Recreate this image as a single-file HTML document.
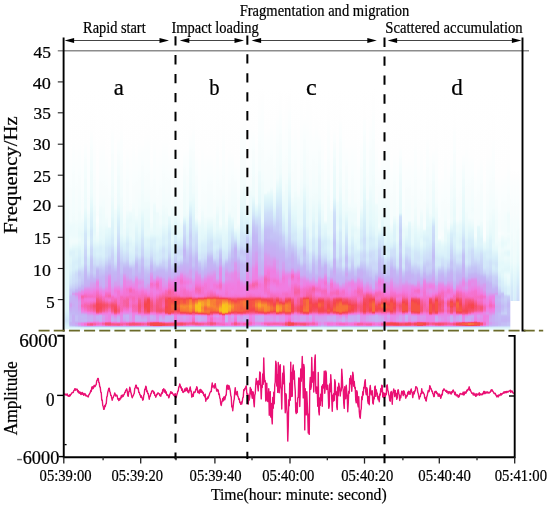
<!DOCTYPE html>
<html><head><meta charset="utf-8"><style>
html,body{margin:0;padding:0;background:#fff;overflow:hidden}
svg{display:block}
text{font-family:'Liberation Serif','Times New Roman',serif;fill:#000;stroke:#000;stroke-width:0.22px}
</style></head><body>
<svg width="550" height="507" viewBox="0 0 550 507">
<defs>
<filter id="cm" x="0" y="0" width="1" height="1" color-interpolation-filters="sRGB" filterUnits="objectBoundingBox">
<feColorMatrix type="matrix" values="1 0 0 0 0  1 0 0 0 0  1 0 0 0 0  0 0 0 1 0"/>
<feComponentTransfer>
<feFuncR type="table" tableValues="1.000 0.990 0.980 0.971 0.961 0.951 0.942 0.933 0.924 0.914 0.905 0.896 0.889 0.882 0.875 0.868 0.861 0.854 0.847 0.841 0.835 0.830 0.825 0.821 0.816 0.811 0.806 0.801 0.797 0.793 0.788 0.784 0.780 0.776 0.774 0.772 0.771 0.769 0.767 0.765 0.768 0.771 0.775 0.779 0.782 0.786 0.796 0.817 0.837 0.858 0.878 0.896 0.911 0.927 0.943 0.953 0.959 0.965 0.969 0.970 0.971 0.971 0.972 0.972 0.970 0.968 0.967 0.965 0.966 0.968 0.969 0.971 0.973 0.973 0.973 0.973 0.973 0.975 0.976 0.978 0.980"/>
<feFuncG type="table" tableValues="1.000 0.998 0.997 0.995 0.993 0.992 0.989 0.987 0.984 0.982 0.979 0.977 0.972 0.967 0.961 0.956 0.951 0.945 0.940 0.934 0.925 0.916 0.906 0.896 0.886 0.876 0.867 0.856 0.844 0.832 0.821 0.809 0.798 0.786 0.774 0.763 0.751 0.739 0.728 0.716 0.709 0.703 0.697 0.690 0.684 0.678 0.665 0.640 0.616 0.591 0.567 0.546 0.529 0.511 0.493 0.475 0.455 0.435 0.416 0.398 0.380 0.362 0.344 0.328 0.314 0.299 0.284 0.270 0.299 0.340 0.381 0.422 0.463 0.520 0.576 0.633 0.690 0.753 0.816 0.878 0.941"/>
<feFuncB type="table" tableValues="1.000 0.998 0.997 0.995 0.993 0.992 0.991 0.989 0.988 0.987 0.986 0.985 0.984 0.983 0.983 0.982 0.982 0.981 0.981 0.980 0.980 0.979 0.979 0.978 0.978 0.977 0.977 0.976 0.975 0.973 0.972 0.971 0.970 0.968 0.967 0.966 0.965 0.963 0.962 0.961 0.960 0.960 0.959 0.958 0.958 0.957 0.954 0.945 0.937 0.929 0.921 0.913 0.905 0.897 0.889 0.864 0.827 0.791 0.746 0.691 0.635 0.580 0.524 0.476 0.434 0.392 0.349 0.307 0.285 0.269 0.252 0.236 0.220 0.204 0.188 0.173 0.157 0.118 0.078 0.039 0.000"/>
</feComponentTransfer>
</filter>
<linearGradient id="g0" x1="0" y1="0" x2="0" y2="1"><stop offset="0.000" stop-color="#000000"/><stop offset="0.260" stop-color="#010000"/><stop offset="0.445" stop-color="#090000"/><stop offset="0.528" stop-color="#0d0000"/><stop offset="0.548" stop-color="#0e0000"/><stop offset="0.573" stop-color="#180000"/><stop offset="0.598" stop-color="#170000"/><stop offset="0.635" stop-color="#100000"/><stop offset="0.656" stop-color="#190000"/><stop offset="0.676" stop-color="#320000"/><stop offset="0.685" stop-color="#320000"/><stop offset="0.701" stop-color="#270000"/><stop offset="0.718" stop-color="#290000"/><stop offset="0.734" stop-color="#2e0000"/><stop offset="0.746" stop-color="#2d0000"/><stop offset="0.775" stop-color="#400000"/><stop offset="0.804" stop-color="#490000"/><stop offset="0.821" stop-color="#5a0000"/><stop offset="0.833" stop-color="#690000"/><stop offset="0.849" stop-color="#6e0000"/><stop offset="0.858" stop-color="#7b0000"/><stop offset="0.862" stop-color="#7f0000"/><stop offset="0.870" stop-color="#800000"/><stop offset="0.891" stop-color="#980000"/><stop offset="0.899" stop-color="#990000"/><stop offset="0.920" stop-color="#870000"/><stop offset="0.928" stop-color="#7b0000"/><stop offset="0.940" stop-color="#750000"/><stop offset="0.957" stop-color="#740000"/><stop offset="0.961" stop-color="#720000"/><stop offset="0.965" stop-color="#790000"/><stop offset="0.969" stop-color="#840000"/><stop offset="0.977" stop-color="#7d0000"/><stop offset="0.981" stop-color="#6f0000"/><stop offset="0.986" stop-color="#3f0000"/><stop offset="0.990" stop-color="#2c0000"/><stop offset="0.994" stop-color="#210000"/><stop offset="0.998" stop-color="#1c0000"/></linearGradient><linearGradient id="g1" x1="0" y1="0" x2="0" y2="1"><stop offset="0.000" stop-color="#000000"/><stop offset="0.219" stop-color="#010000"/><stop offset="0.404" stop-color="#0a0000"/><stop offset="0.482" stop-color="#0e0000"/><stop offset="0.511" stop-color="#0f0000"/><stop offset="0.548" stop-color="#110000"/><stop offset="0.569" stop-color="#170000"/><stop offset="0.610" stop-color="#170000"/><stop offset="0.631" stop-color="#100000"/><stop offset="0.643" stop-color="#160000"/><stop offset="0.676" stop-color="#320000"/><stop offset="0.701" stop-color="#310000"/><stop offset="0.722" stop-color="#3a0000"/><stop offset="0.746" stop-color="#390000"/><stop offset="0.771" stop-color="#4b0000"/><stop offset="0.800" stop-color="#500000"/><stop offset="0.821" stop-color="#600000"/><stop offset="0.837" stop-color="#710000"/><stop offset="0.841" stop-color="#7c0000"/><stop offset="0.849" stop-color="#9d0000"/><stop offset="0.858" stop-color="#8b0000"/><stop offset="0.862" stop-color="#870000"/><stop offset="0.874" stop-color="#880000"/><stop offset="0.895" stop-color="#920000"/><stop offset="0.915" stop-color="#840000"/><stop offset="0.924" stop-color="#7f0000"/><stop offset="0.928" stop-color="#7c0000"/><stop offset="0.932" stop-color="#7e0000"/><stop offset="0.940" stop-color="#8a0000"/><stop offset="0.961" stop-color="#880000"/><stop offset="0.969" stop-color="#8d0000"/><stop offset="0.977" stop-color="#850000"/><stop offset="0.981" stop-color="#750000"/><stop offset="0.986" stop-color="#400000"/><stop offset="0.990" stop-color="#2c0000"/><stop offset="0.994" stop-color="#210000"/><stop offset="0.998" stop-color="#1c0000"/></linearGradient><linearGradient id="g2" x1="0" y1="0" x2="0" y2="1"><stop offset="0.000" stop-color="#000000"/><stop offset="0.243" stop-color="#010000"/><stop offset="0.437" stop-color="#090000"/><stop offset="0.536" stop-color="#0d0000"/><stop offset="0.565" stop-color="#140000"/><stop offset="0.610" stop-color="#160000"/><stop offset="0.631" stop-color="#100000"/><stop offset="0.643" stop-color="#170000"/><stop offset="0.664" stop-color="#280000"/><stop offset="0.676" stop-color="#2b0000"/><stop offset="0.685" stop-color="#2a0000"/><stop offset="0.718" stop-color="#3a0000"/><stop offset="0.738" stop-color="#350000"/><stop offset="0.746" stop-color="#3b0000"/><stop offset="0.763" stop-color="#510000"/><stop offset="0.775" stop-color="#540000"/><stop offset="0.792" stop-color="#520000"/><stop offset="0.804" stop-color="#590000"/><stop offset="0.825" stop-color="#6b0000"/><stop offset="0.829" stop-color="#730000"/><stop offset="0.837" stop-color="#890000"/><stop offset="0.849" stop-color="#a20000"/><stop offset="0.862" stop-color="#950000"/><stop offset="0.870" stop-color="#900000"/><stop offset="0.887" stop-color="#8a0000"/><stop offset="0.899" stop-color="#8c0000"/><stop offset="0.915" stop-color="#860000"/><stop offset="0.920" stop-color="#870000"/><stop offset="0.936" stop-color="#7a0000"/><stop offset="0.940" stop-color="#750000"/><stop offset="0.961" stop-color="#750000"/><stop offset="0.965" stop-color="#840000"/><stop offset="0.969" stop-color="#970000"/><stop offset="0.977" stop-color="#920000"/><stop offset="0.981" stop-color="#820000"/><stop offset="0.986" stop-color="#430000"/><stop offset="0.990" stop-color="#2c0000"/><stop offset="0.994" stop-color="#210000"/><stop offset="0.998" stop-color="#1c0000"/></linearGradient><linearGradient id="g3" x1="0" y1="0" x2="0" y2="1"><stop offset="0.000" stop-color="#000000"/><stop offset="0.227" stop-color="#010000"/><stop offset="0.396" stop-color="#090000"/><stop offset="0.491" stop-color="#0e0000"/><stop offset="0.548" stop-color="#130000"/><stop offset="0.573" stop-color="#180000"/><stop offset="0.602" stop-color="#1f0000"/><stop offset="0.627" stop-color="#170000"/><stop offset="0.643" stop-color="#1e0000"/><stop offset="0.672" stop-color="#330000"/><stop offset="0.689" stop-color="#370000"/><stop offset="0.705" stop-color="#400000"/><stop offset="0.734" stop-color="#410000"/><stop offset="0.742" stop-color="#470000"/><stop offset="0.759" stop-color="#600000"/><stop offset="0.767" stop-color="#650000"/><stop offset="0.792" stop-color="#5e0000"/><stop offset="0.812" stop-color="#690000"/><stop offset="0.821" stop-color="#740000"/><stop offset="0.837" stop-color="#960000"/><stop offset="0.849" stop-color="#a70000"/><stop offset="0.858" stop-color="#aa0000"/><stop offset="0.866" stop-color="#a60000"/><stop offset="0.878" stop-color="#9a0000"/><stop offset="0.891" stop-color="#970000"/><stop offset="0.899" stop-color="#9b0000"/><stop offset="0.920" stop-color="#930000"/><stop offset="0.940" stop-color="#7d0000"/><stop offset="0.953" stop-color="#800000"/><stop offset="0.961" stop-color="#7e0000"/><stop offset="0.965" stop-color="#8d0000"/><stop offset="0.969" stop-color="#a10000"/><stop offset="0.977" stop-color="#a00000"/><stop offset="0.981" stop-color="#910000"/><stop offset="0.986" stop-color="#460000"/><stop offset="0.990" stop-color="#2c0000"/><stop offset="0.994" stop-color="#210000"/><stop offset="0.998" stop-color="#1c0000"/></linearGradient><linearGradient id="g4" x1="0" y1="0" x2="0" y2="1"><stop offset="0.000" stop-color="#000000"/><stop offset="0.264" stop-color="#010000"/><stop offset="0.474" stop-color="#080000"/><stop offset="0.515" stop-color="#0a0000"/><stop offset="0.544" stop-color="#100000"/><stop offset="0.561" stop-color="#170000"/><stop offset="0.581" stop-color="#190000"/><stop offset="0.602" stop-color="#200000"/><stop offset="0.635" stop-color="#1c0000"/><stop offset="0.685" stop-color="#2c0000"/><stop offset="0.701" stop-color="#340000"/><stop offset="0.722" stop-color="#340000"/><stop offset="0.734" stop-color="#3e0000"/><stop offset="0.759" stop-color="#5b0000"/><stop offset="0.771" stop-color="#610000"/><stop offset="0.796" stop-color="#680000"/><stop offset="0.808" stop-color="#710000"/><stop offset="0.821" stop-color="#820000"/><stop offset="0.837" stop-color="#a00000"/><stop offset="0.845" stop-color="#a90000"/><stop offset="0.849" stop-color="#ac0000"/><stop offset="0.858" stop-color="#bc0000"/><stop offset="0.862" stop-color="#be0000"/><stop offset="0.874" stop-color="#b40000"/><stop offset="0.887" stop-color="#b40000"/><stop offset="0.899" stop-color="#ba0000"/><stop offset="0.911" stop-color="#b20000"/><stop offset="0.920" stop-color="#ab0000"/><stop offset="0.928" stop-color="#9c0000"/><stop offset="0.940" stop-color="#7b0000"/><stop offset="0.953" stop-color="#7f0000"/><stop offset="0.961" stop-color="#7a0000"/><stop offset="0.965" stop-color="#8d0000"/><stop offset="0.969" stop-color="#a80000"/><stop offset="0.977" stop-color="#ab0000"/><stop offset="0.981" stop-color="#9c0000"/><stop offset="0.986" stop-color="#490000"/><stop offset="0.990" stop-color="#2c0000"/><stop offset="0.994" stop-color="#210000"/><stop offset="0.998" stop-color="#1c0000"/></linearGradient><linearGradient id="g5" x1="0" y1="0" x2="0" y2="1"><stop offset="0.000" stop-color="#000000"/><stop offset="0.223" stop-color="#010000"/><stop offset="0.379" stop-color="#100000"/><stop offset="0.491" stop-color="#160000"/><stop offset="0.565" stop-color="#330000"/><stop offset="0.581" stop-color="#390000"/><stop offset="0.602" stop-color="#460000"/><stop offset="0.639" stop-color="#480000"/><stop offset="0.668" stop-color="#570000"/><stop offset="0.689" stop-color="#5b0000"/><stop offset="0.705" stop-color="#620000"/><stop offset="0.722" stop-color="#5f0000"/><stop offset="0.751" stop-color="#750000"/><stop offset="0.788" stop-color="#800000"/><stop offset="0.804" stop-color="#850000"/><stop offset="0.816" stop-color="#900000"/><stop offset="0.837" stop-color="#a90000"/><stop offset="0.858" stop-color="#ba0000"/><stop offset="0.862" stop-color="#b90000"/><stop offset="0.870" stop-color="#b00000"/><stop offset="0.878" stop-color="#b10000"/><stop offset="0.895" stop-color="#bd0000"/><stop offset="0.903" stop-color="#bc0000"/><stop offset="0.920" stop-color="#b10000"/><stop offset="0.932" stop-color="#960000"/><stop offset="0.940" stop-color="#7e0000"/><stop offset="0.948" stop-color="#810000"/><stop offset="0.961" stop-color="#7a0000"/><stop offset="0.965" stop-color="#8f0000"/><stop offset="0.969" stop-color="#b00000"/><stop offset="0.977" stop-color="#b60000"/><stop offset="0.981" stop-color="#a80000"/><stop offset="0.986" stop-color="#4c0000"/><stop offset="0.990" stop-color="#2c0000"/><stop offset="0.994" stop-color="#210000"/><stop offset="0.998" stop-color="#1c0000"/></linearGradient><linearGradient id="g6" x1="0" y1="0" x2="0" y2="1"><stop offset="0.000" stop-color="#000000"/><stop offset="0.252" stop-color="#010000"/><stop offset="0.466" stop-color="#080000"/><stop offset="0.495" stop-color="#080000"/><stop offset="0.548" stop-color="#180000"/><stop offset="0.573" stop-color="#180000"/><stop offset="0.594" stop-color="#220000"/><stop offset="0.610" stop-color="#200000"/><stop offset="0.635" stop-color="#180000"/><stop offset="0.647" stop-color="#1b0000"/><stop offset="0.664" stop-color="#270000"/><stop offset="0.680" stop-color="#260000"/><stop offset="0.693" stop-color="#310000"/><stop offset="0.705" stop-color="#3d0000"/><stop offset="0.726" stop-color="#410000"/><stop offset="0.738" stop-color="#4b0000"/><stop offset="0.751" stop-color="#500000"/><stop offset="0.779" stop-color="#6e0000"/><stop offset="0.816" stop-color="#910000"/><stop offset="0.837" stop-color="#aa0000"/><stop offset="0.858" stop-color="#b70000"/><stop offset="0.862" stop-color="#b70000"/><stop offset="0.870" stop-color="#af0000"/><stop offset="0.878" stop-color="#b00000"/><stop offset="0.899" stop-color="#c00000"/><stop offset="0.915" stop-color="#bb0000"/><stop offset="0.920" stop-color="#b80000"/><stop offset="0.932" stop-color="#9f0000"/><stop offset="0.940" stop-color="#930000"/><stop offset="0.961" stop-color="#8e0000"/><stop offset="0.965" stop-color="#a00000"/><stop offset="0.969" stop-color="#bb0000"/><stop offset="0.977" stop-color="#c40000"/><stop offset="0.981" stop-color="#b50000"/><stop offset="0.986" stop-color="#4f0000"/><stop offset="0.990" stop-color="#2c0000"/><stop offset="0.994" stop-color="#210000"/><stop offset="0.998" stop-color="#1c0000"/></linearGradient><linearGradient id="g7" x1="0" y1="0" x2="0" y2="1"><stop offset="0.000" stop-color="#000000"/><stop offset="0.173" stop-color="#010000"/><stop offset="0.338" stop-color="#0f0000"/><stop offset="0.441" stop-color="#150000"/><stop offset="0.553" stop-color="#370000"/><stop offset="0.569" stop-color="#390000"/><stop offset="0.590" stop-color="#440000"/><stop offset="0.606" stop-color="#450000"/><stop offset="0.627" stop-color="#420000"/><stop offset="0.643" stop-color="#460000"/><stop offset="0.664" stop-color="#560000"/><stop offset="0.685" stop-color="#570000"/><stop offset="0.705" stop-color="#670000"/><stop offset="0.742" stop-color="#6f0000"/><stop offset="0.759" stop-color="#6e0000"/><stop offset="0.784" stop-color="#800000"/><stop offset="0.800" stop-color="#930000"/><stop offset="0.821" stop-color="#9b0000"/><stop offset="0.849" stop-color="#b10000"/><stop offset="0.858" stop-color="#b70000"/><stop offset="0.862" stop-color="#b70000"/><stop offset="0.870" stop-color="#af0000"/><stop offset="0.878" stop-color="#b10000"/><stop offset="0.895" stop-color="#c20000"/><stop offset="0.903" stop-color="#c30000"/><stop offset="0.920" stop-color="#ba0000"/><stop offset="0.940" stop-color="#910000"/><stop offset="0.961" stop-color="#8d0000"/><stop offset="0.965" stop-color="#a20000"/><stop offset="0.969" stop-color="#c00000"/><stop offset="0.977" stop-color="#c90000"/><stop offset="0.981" stop-color="#b70000"/><stop offset="0.986" stop-color="#4f0000"/><stop offset="0.990" stop-color="#2c0000"/><stop offset="0.994" stop-color="#210000"/><stop offset="0.998" stop-color="#1c0000"/></linearGradient><linearGradient id="g8" x1="0" y1="0" x2="0" y2="1"><stop offset="0.000" stop-color="#000000"/><stop offset="0.214" stop-color="#010000"/><stop offset="0.416" stop-color="#090000"/><stop offset="0.474" stop-color="#0d0000"/><stop offset="0.520" stop-color="#170000"/><stop offset="0.548" stop-color="#180000"/><stop offset="0.586" stop-color="#210000"/><stop offset="0.623" stop-color="#1d0000"/><stop offset="0.639" stop-color="#260000"/><stop offset="0.668" stop-color="#3b0000"/><stop offset="0.689" stop-color="#3d0000"/><stop offset="0.709" stop-color="#4c0000"/><stop offset="0.722" stop-color="#500000"/><stop offset="0.738" stop-color="#5e0000"/><stop offset="0.751" stop-color="#620000"/><stop offset="0.763" stop-color="#620000"/><stop offset="0.779" stop-color="#710000"/><stop offset="0.800" stop-color="#920000"/><stop offset="0.808" stop-color="#980000"/><stop offset="0.821" stop-color="#9d0000"/><stop offset="0.841" stop-color="#af0000"/><stop offset="0.862" stop-color="#b70000"/><stop offset="0.870" stop-color="#b10000"/><stop offset="0.878" stop-color="#b30000"/><stop offset="0.895" stop-color="#c80000"/><stop offset="0.899" stop-color="#cb0000"/><stop offset="0.915" stop-color="#c20000"/><stop offset="0.920" stop-color="#bf0000"/><stop offset="0.940" stop-color="#970000"/><stop offset="0.953" stop-color="#960000"/><stop offset="0.961" stop-color="#990000"/><stop offset="0.965" stop-color="#a80000"/><stop offset="0.969" stop-color="#bd0000"/><stop offset="0.977" stop-color="#c00000"/><stop offset="0.981" stop-color="#ae0000"/><stop offset="0.986" stop-color="#4c0000"/><stop offset="0.990" stop-color="#2c0000"/><stop offset="0.994" stop-color="#210000"/><stop offset="0.998" stop-color="#1c0000"/></linearGradient><linearGradient id="g9" x1="0" y1="0" x2="0" y2="1"><stop offset="0.000" stop-color="#000000"/><stop offset="0.342" stop-color="#010000"/><stop offset="0.524" stop-color="#080000"/><stop offset="0.548" stop-color="#050000"/><stop offset="0.581" stop-color="#0d0000"/><stop offset="0.602" stop-color="#110000"/><stop offset="0.631" stop-color="#1b0000"/><stop offset="0.660" stop-color="#340000"/><stop offset="0.672" stop-color="#370000"/><stop offset="0.685" stop-color="#340000"/><stop offset="0.709" stop-color="#460000"/><stop offset="0.726" stop-color="#4e0000"/><stop offset="0.730" stop-color="#510000"/><stop offset="0.746" stop-color="#720000"/><stop offset="0.755" stop-color="#7b0000"/><stop offset="0.771" stop-color="#810000"/><stop offset="0.800" stop-color="#a50000"/><stop offset="0.808" stop-color="#a80000"/><stop offset="0.821" stop-color="#a70000"/><stop offset="0.841" stop-color="#b50000"/><stop offset="0.862" stop-color="#be0000"/><stop offset="0.870" stop-color="#c50000"/><stop offset="0.882" stop-color="#cb0000"/><stop offset="0.891" stop-color="#d30000"/><stop offset="0.920" stop-color="#d30000"/><stop offset="0.928" stop-color="#c20000"/><stop offset="0.932" stop-color="#b40000"/><stop offset="0.940" stop-color="#900000"/><stop offset="0.948" stop-color="#8f0000"/><stop offset="0.961" stop-color="#960000"/><stop offset="0.965" stop-color="#a50000"/><stop offset="0.969" stop-color="#b80000"/><stop offset="0.977" stop-color="#b70000"/><stop offset="0.981" stop-color="#a40000"/><stop offset="0.986" stop-color="#4a0000"/><stop offset="0.990" stop-color="#2c0000"/><stop offset="0.994" stop-color="#210000"/><stop offset="0.998" stop-color="#1c0000"/></linearGradient><linearGradient id="g10" x1="0" y1="0" x2="0" y2="1"><stop offset="0.000" stop-color="#000000"/><stop offset="0.223" stop-color="#010000"/><stop offset="0.425" stop-color="#090000"/><stop offset="0.478" stop-color="#0c0000"/><stop offset="0.499" stop-color="#130000"/><stop offset="0.536" stop-color="#160000"/><stop offset="0.557" stop-color="#160000"/><stop offset="0.586" stop-color="#1e0000"/><stop offset="0.619" stop-color="#210000"/><stop offset="0.639" stop-color="#2a0000"/><stop offset="0.656" stop-color="#380000"/><stop offset="0.668" stop-color="#3a0000"/><stop offset="0.685" stop-color="#380000"/><stop offset="0.730" stop-color="#590000"/><stop offset="0.751" stop-color="#6d0000"/><stop offset="0.775" stop-color="#790000"/><stop offset="0.800" stop-color="#8f0000"/><stop offset="0.816" stop-color="#940000"/><stop offset="0.841" stop-color="#ac0000"/><stop offset="0.866" stop-color="#be0000"/><stop offset="0.882" stop-color="#c80000"/><stop offset="0.891" stop-color="#d10000"/><stop offset="0.907" stop-color="#d30000"/><stop offset="0.920" stop-color="#cd0000"/><stop offset="0.928" stop-color="#bc0000"/><stop offset="0.932" stop-color="#ae0000"/><stop offset="0.940" stop-color="#890000"/><stop offset="0.961" stop-color="#8c0000"/><stop offset="0.965" stop-color="#9d0000"/><stop offset="0.969" stop-color="#b60000"/><stop offset="0.977" stop-color="#b30000"/><stop offset="0.981" stop-color="#a00000"/><stop offset="0.986" stop-color="#490000"/><stop offset="0.990" stop-color="#2c0000"/><stop offset="0.994" stop-color="#210000"/><stop offset="0.998" stop-color="#1c0000"/></linearGradient><linearGradient id="g11" x1="0" y1="0" x2="0" y2="1"><stop offset="0.000" stop-color="#000000"/><stop offset="0.206" stop-color="#010000"/><stop offset="0.437" stop-color="#090000"/><stop offset="0.487" stop-color="#0f0000"/><stop offset="0.532" stop-color="#140000"/><stop offset="0.557" stop-color="#140000"/><stop offset="0.590" stop-color="#1c0000"/><stop offset="0.614" stop-color="#1f0000"/><stop offset="0.639" stop-color="#260000"/><stop offset="0.656" stop-color="#320000"/><stop offset="0.672" stop-color="#350000"/><stop offset="0.693" stop-color="#380000"/><stop offset="0.709" stop-color="#450000"/><stop offset="0.726" stop-color="#510000"/><stop offset="0.746" stop-color="#650000"/><stop offset="0.779" stop-color="#7d0000"/><stop offset="0.816" stop-color="#8b0000"/><stop offset="0.837" stop-color="#a40000"/><stop offset="0.854" stop-color="#ae0000"/><stop offset="0.862" stop-color="#b60000"/><stop offset="0.874" stop-color="#bb0000"/><stop offset="0.895" stop-color="#cf0000"/><stop offset="0.903" stop-color="#ce0000"/><stop offset="0.920" stop-color="#c40000"/><stop offset="0.936" stop-color="#a30000"/><stop offset="0.940" stop-color="#990000"/><stop offset="0.953" stop-color="#9c0000"/><stop offset="0.961" stop-color="#990000"/><stop offset="0.965" stop-color="#a80000"/><stop offset="0.969" stop-color="#bf0000"/><stop offset="0.977" stop-color="#bc0000"/><stop offset="0.981" stop-color="#a80000"/><stop offset="0.986" stop-color="#4a0000"/><stop offset="0.990" stop-color="#2c0000"/><stop offset="0.994" stop-color="#210000"/><stop offset="0.998" stop-color="#1c0000"/></linearGradient><linearGradient id="g12" x1="0" y1="0" x2="0" y2="1"><stop offset="0.000" stop-color="#000000"/><stop offset="0.268" stop-color="#010000"/><stop offset="0.458" stop-color="#0a0000"/><stop offset="0.520" stop-color="#0b0000"/><stop offset="0.544" stop-color="#110000"/><stop offset="0.565" stop-color="#160000"/><stop offset="0.581" stop-color="#1f0000"/><stop offset="0.602" stop-color="#250000"/><stop offset="0.643" stop-color="#390000"/><stop offset="0.660" stop-color="#430000"/><stop offset="0.693" stop-color="#460000"/><stop offset="0.705" stop-color="#4f0000"/><stop offset="0.742" stop-color="#730000"/><stop offset="0.755" stop-color="#790000"/><stop offset="0.775" stop-color="#930000"/><stop offset="0.788" stop-color="#960000"/><stop offset="0.816" stop-color="#990000"/><stop offset="0.829" stop-color="#a30000"/><stop offset="0.845" stop-color="#b40000"/><stop offset="0.858" stop-color="#bb0000"/><stop offset="0.870" stop-color="#b40000"/><stop offset="0.878" stop-color="#b90000"/><stop offset="0.895" stop-color="#cc0000"/><stop offset="0.903" stop-color="#c90000"/><stop offset="0.920" stop-color="#bd0000"/><stop offset="0.936" stop-color="#a60000"/><stop offset="0.940" stop-color="#a10000"/><stop offset="0.953" stop-color="#a50000"/><stop offset="0.961" stop-color="#a20000"/><stop offset="0.965" stop-color="#b20000"/><stop offset="0.969" stop-color="#cb0000"/><stop offset="0.977" stop-color="#c90000"/><stop offset="0.981" stop-color="#b40000"/><stop offset="0.986" stop-color="#4d0000"/><stop offset="0.990" stop-color="#2c0000"/><stop offset="0.994" stop-color="#210000"/><stop offset="0.998" stop-color="#1c0000"/></linearGradient><linearGradient id="g13" x1="0" y1="0" x2="0" y2="1"><stop offset="0.000" stop-color="#000000"/><stop offset="0.318" stop-color="#010000"/><stop offset="0.474" stop-color="#090000"/><stop offset="0.520" stop-color="#0a0000"/><stop offset="0.540" stop-color="#0c0000"/><stop offset="0.565" stop-color="#0b0000"/><stop offset="0.573" stop-color="#0d0000"/><stop offset="0.577" stop-color="#1d0000"/><stop offset="0.581" stop-color="#220000"/><stop offset="0.602" stop-color="#280000"/><stop offset="0.623" stop-color="#320000"/><stop offset="0.639" stop-color="#390000"/><stop offset="0.660" stop-color="#470000"/><stop offset="0.689" stop-color="#4d0000"/><stop offset="0.697" stop-color="#540000"/><stop offset="0.722" stop-color="#690000"/><stop offset="0.738" stop-color="#7b0000"/><stop offset="0.755" stop-color="#840000"/><stop offset="0.775" stop-color="#9d0000"/><stop offset="0.792" stop-color="#a40000"/><stop offset="0.837" stop-color="#ae0000"/><stop offset="0.858" stop-color="#be0000"/><stop offset="0.866" stop-color="#b80000"/><stop offset="0.874" stop-color="#b10000"/><stop offset="0.895" stop-color="#c60000"/><stop offset="0.903" stop-color="#c40000"/><stop offset="0.915" stop-color="#b90000"/><stop offset="0.920" stop-color="#b80000"/><stop offset="0.928" stop-color="#ab0000"/><stop offset="0.940" stop-color="#a90000"/><stop offset="0.961" stop-color="#a90000"/><stop offset="0.965" stop-color="#b60000"/><stop offset="0.969" stop-color="#ca0000"/><stop offset="0.977" stop-color="#cb0000"/><stop offset="0.981" stop-color="#b80000"/><stop offset="0.986" stop-color="#4f0000"/><stop offset="0.990" stop-color="#2c0000"/><stop offset="0.994" stop-color="#210000"/><stop offset="0.998" stop-color="#1c0000"/></linearGradient><linearGradient id="g14" x1="0" y1="0" x2="0" y2="1"><stop offset="0.000" stop-color="#000000"/><stop offset="0.169" stop-color="#010000"/><stop offset="0.355" stop-color="#0d0000"/><stop offset="0.441" stop-color="#120000"/><stop offset="0.524" stop-color="#210000"/><stop offset="0.548" stop-color="#2a0000"/><stop offset="0.577" stop-color="#310000"/><stop offset="0.594" stop-color="#330000"/><stop offset="0.623" stop-color="#400000"/><stop offset="0.639" stop-color="#410000"/><stop offset="0.668" stop-color="#540000"/><stop offset="0.701" stop-color="#620000"/><stop offset="0.718" stop-color="#630000"/><stop offset="0.751" stop-color="#770000"/><stop offset="0.775" stop-color="#850000"/><stop offset="0.804" stop-color="#930000"/><stop offset="0.816" stop-color="#960000"/><stop offset="0.833" stop-color="#a10000"/><stop offset="0.849" stop-color="#a70000"/><stop offset="0.862" stop-color="#b70000"/><stop offset="0.878" stop-color="#ba0000"/><stop offset="0.895" stop-color="#cc0000"/><stop offset="0.899" stop-color="#ce0000"/><stop offset="0.920" stop-color="#c50000"/><stop offset="0.928" stop-color="#b90000"/><stop offset="0.936" stop-color="#a40000"/><stop offset="0.940" stop-color="#980000"/><stop offset="0.957" stop-color="#8f0000"/><stop offset="0.961" stop-color="#8f0000"/><stop offset="0.965" stop-color="#a30000"/><stop offset="0.969" stop-color="#c00000"/><stop offset="0.977" stop-color="#c60000"/><stop offset="0.981" stop-color="#b50000"/><stop offset="0.986" stop-color="#4f0000"/><stop offset="0.990" stop-color="#2c0000"/><stop offset="0.994" stop-color="#210000"/><stop offset="0.998" stop-color="#1c0000"/></linearGradient><linearGradient id="g15" x1="0" y1="0" x2="0" y2="1"><stop offset="0.000" stop-color="#000000"/><stop offset="0.247" stop-color="#010000"/><stop offset="0.458" stop-color="#080000"/><stop offset="0.495" stop-color="#0a0000"/><stop offset="0.507" stop-color="#120000"/><stop offset="0.544" stop-color="#190000"/><stop offset="0.573" stop-color="#1a0000"/><stop offset="0.594" stop-color="#190000"/><stop offset="0.623" stop-color="#200000"/><stop offset="0.635" stop-color="#1f0000"/><stop offset="0.643" stop-color="#220000"/><stop offset="0.660" stop-color="#2f0000"/><stop offset="0.693" stop-color="#440000"/><stop offset="0.713" stop-color="#490000"/><stop offset="0.726" stop-color="#540000"/><stop offset="0.759" stop-color="#7b0000"/><stop offset="0.784" stop-color="#870000"/><stop offset="0.800" stop-color="#970000"/><stop offset="0.816" stop-color="#9c0000"/><stop offset="0.833" stop-color="#ae0000"/><stop offset="0.841" stop-color="#ae0000"/><stop offset="0.854" stop-color="#ab0000"/><stop offset="0.862" stop-color="#b10000"/><stop offset="0.870" stop-color="#b90000"/><stop offset="0.887" stop-color="#c30000"/><stop offset="0.899" stop-color="#cf0000"/><stop offset="0.920" stop-color="#d30000"/><stop offset="0.928" stop-color="#c80000"/><stop offset="0.936" stop-color="#b20000"/><stop offset="0.940" stop-color="#a30000"/><stop offset="0.953" stop-color="#960000"/><stop offset="0.961" stop-color="#950000"/><stop offset="0.965" stop-color="#a50000"/><stop offset="0.969" stop-color="#bd0000"/><stop offset="0.977" stop-color="#c70000"/><stop offset="0.981" stop-color="#b60000"/><stop offset="0.986" stop-color="#4f0000"/><stop offset="0.990" stop-color="#2c0000"/><stop offset="0.994" stop-color="#210000"/><stop offset="0.998" stop-color="#1c0000"/></linearGradient><linearGradient id="g16" x1="0" y1="0" x2="0" y2="1"><stop offset="0.000" stop-color="#000000"/><stop offset="0.206" stop-color="#010000"/><stop offset="0.355" stop-color="#0f0000"/><stop offset="0.474" stop-color="#170000"/><stop offset="0.520" stop-color="#290000"/><stop offset="0.548" stop-color="#380000"/><stop offset="0.573" stop-color="#410000"/><stop offset="0.594" stop-color="#460000"/><stop offset="0.643" stop-color="#5b0000"/><stop offset="0.693" stop-color="#710000"/><stop offset="0.709" stop-color="#770000"/><stop offset="0.746" stop-color="#880000"/><stop offset="0.784" stop-color="#920000"/><stop offset="0.812" stop-color="#990000"/><stop offset="0.829" stop-color="#aa0000"/><stop offset="0.837" stop-color="#b20000"/><stop offset="0.858" stop-color="#b20000"/><stop offset="0.874" stop-color="#b50000"/><stop offset="0.887" stop-color="#b70000"/><stop offset="0.903" stop-color="#c10000"/><stop offset="0.920" stop-color="#c80000"/><stop offset="0.928" stop-color="#bd0000"/><stop offset="0.932" stop-color="#b30000"/><stop offset="0.940" stop-color="#960000"/><stop offset="0.957" stop-color="#860000"/><stop offset="0.961" stop-color="#870000"/><stop offset="0.965" stop-color="#9e0000"/><stop offset="0.969" stop-color="#be0000"/><stop offset="0.977" stop-color="#c90000"/><stop offset="0.981" stop-color="#b90000"/><stop offset="0.986" stop-color="#510000"/><stop offset="0.990" stop-color="#2c0000"/><stop offset="0.994" stop-color="#210000"/><stop offset="0.998" stop-color="#1c0000"/></linearGradient><linearGradient id="g17" x1="0" y1="0" x2="0" y2="1"><stop offset="0.000" stop-color="#000000"/><stop offset="0.161" stop-color="#010000"/><stop offset="0.346" stop-color="#090000"/><stop offset="0.429" stop-color="#0d0000"/><stop offset="0.503" stop-color="#160000"/><stop offset="0.557" stop-color="#1e0000"/><stop offset="0.577" stop-color="#1e0000"/><stop offset="0.598" stop-color="#1d0000"/><stop offset="0.627" stop-color="#2d0000"/><stop offset="0.656" stop-color="#400000"/><stop offset="0.672" stop-color="#4b0000"/><stop offset="0.709" stop-color="#5f0000"/><stop offset="0.722" stop-color="#690000"/><stop offset="0.759" stop-color="#720000"/><stop offset="0.792" stop-color="#880000"/><stop offset="0.816" stop-color="#960000"/><stop offset="0.837" stop-color="#a90000"/><stop offset="0.854" stop-color="#b10000"/><stop offset="0.862" stop-color="#b90000"/><stop offset="0.882" stop-color="#ba0000"/><stop offset="0.911" stop-color="#bb0000"/><stop offset="0.920" stop-color="#b90000"/><stop offset="0.932" stop-color="#a90000"/><stop offset="0.940" stop-color="#a40000"/><stop offset="0.957" stop-color="#a10000"/><stop offset="0.961" stop-color="#a20000"/><stop offset="0.965" stop-color="#ad0000"/><stop offset="0.969" stop-color="#bc0000"/><stop offset="0.977" stop-color="#c30000"/><stop offset="0.981" stop-color="#b30000"/><stop offset="0.986" stop-color="#4f0000"/><stop offset="0.990" stop-color="#2c0000"/><stop offset="0.994" stop-color="#210000"/><stop offset="0.998" stop-color="#1c0000"/></linearGradient><linearGradient id="g18" x1="0" y1="0" x2="0" y2="1"><stop offset="0.000" stop-color="#000000"/><stop offset="0.289" stop-color="#010000"/><stop offset="0.491" stop-color="#080000"/><stop offset="0.524" stop-color="#0a0000"/><stop offset="0.606" stop-color="#180000"/><stop offset="0.627" stop-color="#240000"/><stop offset="0.647" stop-color="#340000"/><stop offset="0.664" stop-color="#390000"/><stop offset="0.689" stop-color="#4b0000"/><stop offset="0.713" stop-color="#590000"/><stop offset="0.730" stop-color="#6f0000"/><stop offset="0.763" stop-color="#910000"/><stop offset="0.775" stop-color="#9c0000"/><stop offset="0.796" stop-color="#a70000"/><stop offset="0.816" stop-color="#ab0000"/><stop offset="0.833" stop-color="#b00000"/><stop offset="0.854" stop-color="#b20000"/><stop offset="0.878" stop-color="#bf0000"/><stop offset="0.899" stop-color="#be0000"/><stop offset="0.920" stop-color="#b00000"/><stop offset="0.936" stop-color="#950000"/><stop offset="0.940" stop-color="#8d0000"/><stop offset="0.961" stop-color="#980000"/><stop offset="0.965" stop-color="#a70000"/><stop offset="0.969" stop-color="#bc0000"/><stop offset="0.977" stop-color="#bd0000"/><stop offset="0.981" stop-color="#ab0000"/><stop offset="0.986" stop-color="#4c0000"/><stop offset="0.990" stop-color="#2c0000"/><stop offset="0.994" stop-color="#210000"/><stop offset="0.998" stop-color="#1c0000"/></linearGradient><linearGradient id="g19" x1="0" y1="0" x2="0" y2="1"><stop offset="0.000" stop-color="#000000"/><stop offset="0.247" stop-color="#010000"/><stop offset="0.437" stop-color="#0a0000"/><stop offset="0.499" stop-color="#0c0000"/><stop offset="0.524" stop-color="#150000"/><stop offset="0.548" stop-color="#1c0000"/><stop offset="0.569" stop-color="#1d0000"/><stop offset="0.606" stop-color="#280000"/><stop offset="0.643" stop-color="#420000"/><stop offset="0.664" stop-color="#410000"/><stop offset="0.697" stop-color="#550000"/><stop offset="0.709" stop-color="#5d0000"/><stop offset="0.730" stop-color="#720000"/><stop offset="0.746" stop-color="#810000"/><stop offset="0.767" stop-color="#8f0000"/><stop offset="0.788" stop-color="#9a0000"/><stop offset="0.800" stop-color="#a30000"/><stop offset="0.812" stop-color="#a30000"/><stop offset="0.829" stop-color="#b30000"/><stop offset="0.854" stop-color="#b20000"/><stop offset="0.870" stop-color="#bf0000"/><stop offset="0.899" stop-color="#c10000"/><stop offset="0.920" stop-color="#b10000"/><stop offset="0.928" stop-color="#a50000"/><stop offset="0.936" stop-color="#910000"/><stop offset="0.940" stop-color="#850000"/><stop offset="0.957" stop-color="#8d0000"/><stop offset="0.961" stop-color="#8e0000"/><stop offset="0.965" stop-color="#a30000"/><stop offset="0.969" stop-color="#c10000"/><stop offset="0.977" stop-color="#c30000"/><stop offset="0.981" stop-color="#b10000"/><stop offset="0.986" stop-color="#4e0000"/><stop offset="0.990" stop-color="#2c0000"/><stop offset="0.994" stop-color="#210000"/><stop offset="0.998" stop-color="#1c0000"/></linearGradient><linearGradient id="g20" x1="0" y1="0" x2="0" y2="1"><stop offset="0.000" stop-color="#000000"/><stop offset="0.260" stop-color="#010000"/><stop offset="0.495" stop-color="#080000"/><stop offset="0.503" stop-color="#080000"/><stop offset="0.515" stop-color="#150000"/><stop offset="0.544" stop-color="#1c0000"/><stop offset="0.565" stop-color="#190000"/><stop offset="0.590" stop-color="#1c0000"/><stop offset="0.606" stop-color="#1b0000"/><stop offset="0.623" stop-color="#240000"/><stop offset="0.643" stop-color="#2e0000"/><stop offset="0.668" stop-color="#2e0000"/><stop offset="0.697" stop-color="#3f0000"/><stop offset="0.713" stop-color="#440000"/><stop offset="0.726" stop-color="#540000"/><stop offset="0.746" stop-color="#7c0000"/><stop offset="0.755" stop-color="#850000"/><stop offset="0.771" stop-color="#860000"/><stop offset="0.779" stop-color="#8b0000"/><stop offset="0.796" stop-color="#9f0000"/><stop offset="0.812" stop-color="#a30000"/><stop offset="0.829" stop-color="#b90000"/><stop offset="0.837" stop-color="#bc0000"/><stop offset="0.849" stop-color="#b40000"/><stop offset="0.862" stop-color="#b90000"/><stop offset="0.882" stop-color="#b30000"/><stop offset="0.899" stop-color="#b60000"/><stop offset="0.915" stop-color="#ac0000"/><stop offset="0.920" stop-color="#ac0000"/><stop offset="0.928" stop-color="#a00000"/><stop offset="0.940" stop-color="#980000"/><stop offset="0.961" stop-color="#990000"/><stop offset="0.965" stop-color="#ac0000"/><stop offset="0.969" stop-color="#c60000"/><stop offset="0.977" stop-color="#cb0000"/><stop offset="0.981" stop-color="#b90000"/><stop offset="0.986" stop-color="#4f0000"/><stop offset="0.990" stop-color="#2c0000"/><stop offset="0.994" stop-color="#210000"/><stop offset="0.998" stop-color="#1c0000"/></linearGradient><linearGradient id="g21" x1="0" y1="0" x2="0" y2="1"><stop offset="0.000" stop-color="#000000"/><stop offset="0.219" stop-color="#010000"/><stop offset="0.470" stop-color="#0a0000"/><stop offset="0.515" stop-color="#130000"/><stop offset="0.548" stop-color="#190000"/><stop offset="0.569" stop-color="#180000"/><stop offset="0.594" stop-color="#1b0000"/><stop offset="0.619" stop-color="#1b0000"/><stop offset="0.656" stop-color="#2d0000"/><stop offset="0.680" stop-color="#330000"/><stop offset="0.709" stop-color="#440000"/><stop offset="0.726" stop-color="#570000"/><stop offset="0.742" stop-color="#6d0000"/><stop offset="0.751" stop-color="#730000"/><stop offset="0.771" stop-color="#780000"/><stop offset="0.779" stop-color="#800000"/><stop offset="0.796" stop-color="#960000"/><stop offset="0.808" stop-color="#a00000"/><stop offset="0.816" stop-color="#a30000"/><stop offset="0.833" stop-color="#b50000"/><stop offset="0.841" stop-color="#b60000"/><stop offset="0.854" stop-color="#b50000"/><stop offset="0.866" stop-color="#bb0000"/><stop offset="0.887" stop-color="#b90000"/><stop offset="0.899" stop-color="#be0000"/><stop offset="0.915" stop-color="#ba0000"/><stop offset="0.920" stop-color="#bb0000"/><stop offset="0.932" stop-color="#ab0000"/><stop offset="0.953" stop-color="#a40000"/><stop offset="0.961" stop-color="#a40000"/><stop offset="0.965" stop-color="#b30000"/><stop offset="0.969" stop-color="#c90000"/><stop offset="0.977" stop-color="#cb0000"/><stop offset="0.981" stop-color="#b70000"/><stop offset="0.986" stop-color="#4e0000"/><stop offset="0.990" stop-color="#2c0000"/><stop offset="0.994" stop-color="#210000"/><stop offset="0.998" stop-color="#1c0000"/></linearGradient><linearGradient id="g22" x1="0" y1="0" x2="0" y2="1"><stop offset="0.000" stop-color="#000000"/><stop offset="0.264" stop-color="#010000"/><stop offset="0.433" stop-color="#0a0000"/><stop offset="0.503" stop-color="#0c0000"/><stop offset="0.524" stop-color="#0e0000"/><stop offset="0.581" stop-color="#270000"/><stop offset="0.610" stop-color="#300000"/><stop offset="0.627" stop-color="#340000"/><stop offset="0.664" stop-color="#4a0000"/><stop offset="0.680" stop-color="#490000"/><stop offset="0.693" stop-color="#540000"/><stop offset="0.726" stop-color="#790000"/><stop offset="0.742" stop-color="#810000"/><stop offset="0.763" stop-color="#860000"/><stop offset="0.779" stop-color="#980000"/><stop offset="0.792" stop-color="#a60000"/><stop offset="0.808" stop-color="#a90000"/><stop offset="0.821" stop-color="#a90000"/><stop offset="0.841" stop-color="#b30000"/><stop offset="0.866" stop-color="#b70000"/><stop offset="0.882" stop-color="#b60000"/><stop offset="0.899" stop-color="#bd0000"/><stop offset="0.920" stop-color="#bb0000"/><stop offset="0.932" stop-color="#a70000"/><stop offset="0.940" stop-color="#900000"/><stop offset="0.961" stop-color="#8d0000"/><stop offset="0.965" stop-color="#a50000"/><stop offset="0.969" stop-color="#c70000"/><stop offset="0.977" stop-color="#ca0000"/><stop offset="0.981" stop-color="#b50000"/><stop offset="0.986" stop-color="#4d0000"/><stop offset="0.990" stop-color="#2c0000"/><stop offset="0.994" stop-color="#210000"/><stop offset="0.998" stop-color="#1c0000"/></linearGradient><linearGradient id="g23" x1="0" y1="0" x2="0" y2="1"><stop offset="0.000" stop-color="#000000"/><stop offset="0.219" stop-color="#010000"/><stop offset="0.429" stop-color="#0a0000"/><stop offset="0.482" stop-color="#0e0000"/><stop offset="0.544" stop-color="#180000"/><stop offset="0.590" stop-color="#1e0000"/><stop offset="0.623" stop-color="#2c0000"/><stop offset="0.664" stop-color="#400000"/><stop offset="0.685" stop-color="#410000"/><stop offset="0.697" stop-color="#4b0000"/><stop offset="0.709" stop-color="#5c0000"/><stop offset="0.742" stop-color="#6e0000"/><stop offset="0.759" stop-color="#760000"/><stop offset="0.796" stop-color="#9e0000"/><stop offset="0.804" stop-color="#a10000"/><stop offset="0.816" stop-color="#9d0000"/><stop offset="0.825" stop-color="#a10000"/><stop offset="0.837" stop-color="#ae0000"/><stop offset="0.862" stop-color="#b90000"/><stop offset="0.874" stop-color="#c20000"/><stop offset="0.899" stop-color="#ca0000"/><stop offset="0.920" stop-color="#c70000"/><stop offset="0.928" stop-color="#bc0000"/><stop offset="0.932" stop-color="#b20000"/><stop offset="0.940" stop-color="#940000"/><stop offset="0.957" stop-color="#8e0000"/><stop offset="0.961" stop-color="#8e0000"/><stop offset="0.965" stop-color="#a50000"/><stop offset="0.969" stop-color="#c50000"/><stop offset="0.977" stop-color="#c80000"/><stop offset="0.981" stop-color="#b40000"/><stop offset="0.986" stop-color="#4d0000"/><stop offset="0.990" stop-color="#2c0000"/><stop offset="0.994" stop-color="#210000"/><stop offset="0.998" stop-color="#1c0000"/></linearGradient><linearGradient id="g24" x1="0" y1="0" x2="0" y2="1"><stop offset="0.000" stop-color="#000000"/><stop offset="0.227" stop-color="#010000"/><stop offset="0.396" stop-color="#0d0000"/><stop offset="0.499" stop-color="#140000"/><stop offset="0.532" stop-color="#240000"/><stop offset="0.569" stop-color="#2e0000"/><stop offset="0.610" stop-color="#3f0000"/><stop offset="0.627" stop-color="#480000"/><stop offset="0.647" stop-color="#4e0000"/><stop offset="0.668" stop-color="#580000"/><stop offset="0.689" stop-color="#5d0000"/><stop offset="0.709" stop-color="#710000"/><stop offset="0.730" stop-color="#750000"/><stop offset="0.763" stop-color="#8c0000"/><stop offset="0.784" stop-color="#920000"/><stop offset="0.800" stop-color="#9f0000"/><stop offset="0.816" stop-color="#9e0000"/><stop offset="0.825" stop-color="#a50000"/><stop offset="0.837" stop-color="#b20000"/><stop offset="0.854" stop-color="#b80000"/><stop offset="0.891" stop-color="#c00000"/><stop offset="0.899" stop-color="#c10000"/><stop offset="0.915" stop-color="#bc0000"/><stop offset="0.920" stop-color="#be0000"/><stop offset="0.928" stop-color="#b70000"/><stop offset="0.936" stop-color="#a80000"/><stop offset="0.940" stop-color="#9d0000"/><stop offset="0.953" stop-color="#930000"/><stop offset="0.961" stop-color="#910000"/><stop offset="0.965" stop-color="#a40000"/><stop offset="0.969" stop-color="#c00000"/><stop offset="0.977" stop-color="#c30000"/><stop offset="0.981" stop-color="#b00000"/><stop offset="0.986" stop-color="#4d0000"/><stop offset="0.990" stop-color="#2c0000"/><stop offset="0.994" stop-color="#210000"/><stop offset="0.998" stop-color="#1c0000"/></linearGradient><linearGradient id="g25" x1="0" y1="0" x2="0" y2="1"><stop offset="0.000" stop-color="#000000"/><stop offset="0.194" stop-color="#010000"/><stop offset="0.400" stop-color="#090000"/><stop offset="0.449" stop-color="#0c0000"/><stop offset="0.499" stop-color="#140000"/><stop offset="0.553" stop-color="#1a0000"/><stop offset="0.606" stop-color="#1c0000"/><stop offset="0.623" stop-color="#290000"/><stop offset="0.647" stop-color="#2c0000"/><stop offset="0.672" stop-color="#3c0000"/><stop offset="0.693" stop-color="#440000"/><stop offset="0.713" stop-color="#540000"/><stop offset="0.730" stop-color="#570000"/><stop offset="0.759" stop-color="#730000"/><stop offset="0.775" stop-color="#780000"/><stop offset="0.788" stop-color="#7f0000"/><stop offset="0.804" stop-color="#900000"/><stop offset="0.821" stop-color="#980000"/><stop offset="0.837" stop-color="#ac0000"/><stop offset="0.862" stop-color="#be0000"/><stop offset="0.878" stop-color="#cd0000"/><stop offset="0.895" stop-color="#d70000"/><stop offset="0.903" stop-color="#d40000"/><stop offset="0.920" stop-color="#cd0000"/><stop offset="0.928" stop-color="#c20000"/><stop offset="0.932" stop-color="#b90000"/><stop offset="0.940" stop-color="#990000"/><stop offset="0.957" stop-color="#8f0000"/><stop offset="0.961" stop-color="#8e0000"/><stop offset="0.965" stop-color="#a10000"/><stop offset="0.969" stop-color="#bd0000"/><stop offset="0.977" stop-color="#bf0000"/><stop offset="0.981" stop-color="#ad0000"/><stop offset="0.986" stop-color="#4c0000"/><stop offset="0.990" stop-color="#2c0000"/><stop offset="0.994" stop-color="#210000"/><stop offset="0.998" stop-color="#1c0000"/></linearGradient><linearGradient id="g26" x1="0" y1="0" x2="0" y2="1"><stop offset="0.000" stop-color="#000000"/><stop offset="0.186" stop-color="#010000"/><stop offset="0.392" stop-color="#090000"/><stop offset="0.445" stop-color="#0c0000"/><stop offset="0.507" stop-color="#160000"/><stop offset="0.540" stop-color="#190000"/><stop offset="0.569" stop-color="#1d0000"/><stop offset="0.602" stop-color="#1a0000"/><stop offset="0.627" stop-color="#2d0000"/><stop offset="0.647" stop-color="#2f0000"/><stop offset="0.676" stop-color="#3e0000"/><stop offset="0.693" stop-color="#430000"/><stop offset="0.713" stop-color="#510000"/><stop offset="0.726" stop-color="#530000"/><stop offset="0.751" stop-color="#680000"/><stop offset="0.767" stop-color="#770000"/><stop offset="0.784" stop-color="#7e0000"/><stop offset="0.812" stop-color="#990000"/><stop offset="0.829" stop-color="#a00000"/><stop offset="0.858" stop-color="#b60000"/><stop offset="0.870" stop-color="#cf0000"/><stop offset="0.874" stop-color="#d50000"/><stop offset="0.895" stop-color="#d70000"/><stop offset="0.920" stop-color="#d70000"/><stop offset="0.932" stop-color="#ba0000"/><stop offset="0.940" stop-color="#9d0000"/><stop offset="0.957" stop-color="#9d0000"/><stop offset="0.961" stop-color="#9f0000"/><stop offset="0.965" stop-color="#b10000"/><stop offset="0.969" stop-color="#ca0000"/><stop offset="0.977" stop-color="#cb0000"/><stop offset="0.981" stop-color="#b70000"/><stop offset="0.986" stop-color="#4e0000"/><stop offset="0.990" stop-color="#2c0000"/><stop offset="0.994" stop-color="#210000"/><stop offset="0.998" stop-color="#1c0000"/></linearGradient><linearGradient id="g27" x1="0" y1="0" x2="0" y2="1"><stop offset="0.000" stop-color="#000000"/><stop offset="0.305" stop-color="#010000"/><stop offset="0.491" stop-color="#0c0000"/><stop offset="0.520" stop-color="#0c0000"/><stop offset="0.544" stop-color="#0d0000"/><stop offset="0.573" stop-color="#130000"/><stop offset="0.602" stop-color="#1e0000"/><stop offset="0.619" stop-color="#2f0000"/><stop offset="0.627" stop-color="#370000"/><stop offset="0.652" stop-color="#3c0000"/><stop offset="0.689" stop-color="#500000"/><stop offset="0.734" stop-color="#7a0000"/><stop offset="0.751" stop-color="#870000"/><stop offset="0.763" stop-color="#970000"/><stop offset="0.779" stop-color="#a00000"/><stop offset="0.792" stop-color="#a60000"/><stop offset="0.808" stop-color="#b60000"/><stop offset="0.816" stop-color="#b40000"/><stop offset="0.833" stop-color="#ad0000"/><stop offset="0.858" stop-color="#b40000"/><stop offset="0.882" stop-color="#c60000"/><stop offset="0.899" stop-color="#ca0000"/><stop offset="0.920" stop-color="#c50000"/><stop offset="0.932" stop-color="#aa0000"/><stop offset="0.940" stop-color="#900000"/><stop offset="0.948" stop-color="#8f0000"/><stop offset="0.961" stop-color="#980000"/><stop offset="0.965" stop-color="#b50000"/><stop offset="0.969" stop-color="#d70000"/><stop offset="0.977" stop-color="#d70000"/><stop offset="0.981" stop-color="#c90000"/><stop offset="0.986" stop-color="#510000"/><stop offset="0.990" stop-color="#2c0000"/><stop offset="0.994" stop-color="#210000"/><stop offset="0.998" stop-color="#1c0000"/></linearGradient><linearGradient id="g28" x1="0" y1="0" x2="0" y2="1"><stop offset="0.000" stop-color="#000000"/><stop offset="0.223" stop-color="#010000"/><stop offset="0.425" stop-color="#090000"/><stop offset="0.470" stop-color="#0b0000"/><stop offset="0.482" stop-color="#140000"/><stop offset="0.515" stop-color="#1a0000"/><stop offset="0.540" stop-color="#190000"/><stop offset="0.581" stop-color="#1e0000"/><stop offset="0.602" stop-color="#1f0000"/><stop offset="0.623" stop-color="#340000"/><stop offset="0.631" stop-color="#380000"/><stop offset="0.652" stop-color="#350000"/><stop offset="0.689" stop-color="#450000"/><stop offset="0.705" stop-color="#470000"/><stop offset="0.722" stop-color="#580000"/><stop offset="0.734" stop-color="#650000"/><stop offset="0.751" stop-color="#720000"/><stop offset="0.767" stop-color="#860000"/><stop offset="0.784" stop-color="#930000"/><stop offset="0.804" stop-color="#af0000"/><stop offset="0.812" stop-color="#b20000"/><stop offset="0.837" stop-color="#a90000"/><stop offset="0.854" stop-color="#ae0000"/><stop offset="0.870" stop-color="#b70000"/><stop offset="0.899" stop-color="#c10000"/><stop offset="0.920" stop-color="#c10000"/><stop offset="0.932" stop-color="#aa0000"/><stop offset="0.940" stop-color="#950000"/><stop offset="0.953" stop-color="#930000"/><stop offset="0.961" stop-color="#9a0000"/><stop offset="0.965" stop-color="#bb0000"/><stop offset="0.969" stop-color="#d80000"/><stop offset="0.981" stop-color="#d80000"/><stop offset="0.986" stop-color="#550000"/><stop offset="0.990" stop-color="#2c0000"/><stop offset="0.994" stop-color="#210000"/><stop offset="0.998" stop-color="#1c0000"/></linearGradient><linearGradient id="g29" x1="0" y1="0" x2="0" y2="1"><stop offset="0.000" stop-color="#000000"/><stop offset="0.268" stop-color="#010000"/><stop offset="0.487" stop-color="#090000"/><stop offset="0.511" stop-color="#0d0000"/><stop offset="0.515" stop-color="#160000"/><stop offset="0.553" stop-color="#150000"/><stop offset="0.602" stop-color="#1d0000"/><stop offset="0.623" stop-color="#2b0000"/><stop offset="0.643" stop-color="#280000"/><stop offset="0.660" stop-color="#2e0000"/><stop offset="0.685" stop-color="#3e0000"/><stop offset="0.705" stop-color="#400000"/><stop offset="0.722" stop-color="#4d0000"/><stop offset="0.726" stop-color="#510000"/><stop offset="0.742" stop-color="#6e0000"/><stop offset="0.759" stop-color="#830000"/><stop offset="0.779" stop-color="#9b0000"/><stop offset="0.796" stop-color="#b10000"/><stop offset="0.808" stop-color="#b90000"/><stop offset="0.821" stop-color="#b70000"/><stop offset="0.837" stop-color="#ae0000"/><stop offset="0.845" stop-color="#ad0000"/><stop offset="0.874" stop-color="#c20000"/><stop offset="0.899" stop-color="#c80000"/><stop offset="0.920" stop-color="#ca0000"/><stop offset="0.932" stop-color="#b50000"/><stop offset="0.940" stop-color="#a30000"/><stop offset="0.953" stop-color="#9f0000"/><stop offset="0.961" stop-color="#a20000"/><stop offset="0.969" stop-color="#d80000"/><stop offset="0.981" stop-color="#d80000"/><stop offset="0.986" stop-color="#570000"/><stop offset="0.990" stop-color="#2c0000"/><stop offset="0.994" stop-color="#210000"/><stop offset="0.998" stop-color="#1c0000"/></linearGradient><linearGradient id="g30" x1="0" y1="0" x2="0" y2="1"><stop offset="0.000" stop-color="#000000"/><stop offset="0.247" stop-color="#010000"/><stop offset="0.495" stop-color="#0b0000"/><stop offset="0.532" stop-color="#110000"/><stop offset="0.553" stop-color="#100000"/><stop offset="0.581" stop-color="#1a0000"/><stop offset="0.606" stop-color="#200000"/><stop offset="0.627" stop-color="#2b0000"/><stop offset="0.643" stop-color="#2c0000"/><stop offset="0.672" stop-color="#410000"/><stop offset="0.689" stop-color="#420000"/><stop offset="0.701" stop-color="#430000"/><stop offset="0.718" stop-color="#520000"/><stop offset="0.751" stop-color="#7c0000"/><stop offset="0.771" stop-color="#8a0000"/><stop offset="0.792" stop-color="#a80000"/><stop offset="0.800" stop-color="#ad0000"/><stop offset="0.825" stop-color="#b00000"/><stop offset="0.845" stop-color="#b10000"/><stop offset="0.870" stop-color="#c50000"/><stop offset="0.903" stop-color="#c50000"/><stop offset="0.920" stop-color="#cc0000"/><stop offset="0.928" stop-color="#be0000"/><stop offset="0.932" stop-color="#b40000"/><stop offset="0.940" stop-color="#980000"/><stop offset="0.957" stop-color="#8e0000"/><stop offset="0.961" stop-color="#8e0000"/><stop offset="0.965" stop-color="#ae0000"/><stop offset="0.969" stop-color="#d80000"/><stop offset="0.977" stop-color="#d80000"/><stop offset="0.981" stop-color="#d50000"/><stop offset="0.986" stop-color="#550000"/><stop offset="0.990" stop-color="#2c0000"/><stop offset="0.994" stop-color="#210000"/><stop offset="0.998" stop-color="#1c0000"/></linearGradient><linearGradient id="g31" x1="0" y1="0" x2="0" y2="1"><stop offset="0.000" stop-color="#000000"/><stop offset="0.219" stop-color="#010000"/><stop offset="0.404" stop-color="#0a0000"/><stop offset="0.474" stop-color="#0e0000"/><stop offset="0.532" stop-color="#190000"/><stop offset="0.557" stop-color="#190000"/><stop offset="0.619" stop-color="#380000"/><stop offset="0.639" stop-color="#370000"/><stop offset="0.647" stop-color="#3b0000"/><stop offset="0.664" stop-color="#4a0000"/><stop offset="0.672" stop-color="#4d0000"/><stop offset="0.689" stop-color="#490000"/><stop offset="0.697" stop-color="#4b0000"/><stop offset="0.718" stop-color="#5f0000"/><stop offset="0.734" stop-color="#670000"/><stop offset="0.755" stop-color="#800000"/><stop offset="0.771" stop-color="#870000"/><stop offset="0.788" stop-color="#990000"/><stop offset="0.816" stop-color="#a00000"/><stop offset="0.854" stop-color="#bc0000"/><stop offset="0.866" stop-color="#c30000"/><stop offset="0.882" stop-color="#c00000"/><stop offset="0.899" stop-color="#bd0000"/><stop offset="0.920" stop-color="#c90000"/><stop offset="0.940" stop-color="#a10000"/><stop offset="0.957" stop-color="#940000"/><stop offset="0.961" stop-color="#930000"/><stop offset="0.965" stop-color="#ab0000"/><stop offset="0.969" stop-color="#ce0000"/><stop offset="0.977" stop-color="#d80000"/><stop offset="0.981" stop-color="#c90000"/><stop offset="0.986" stop-color="#520000"/><stop offset="0.990" stop-color="#2c0000"/><stop offset="0.994" stop-color="#210000"/><stop offset="0.998" stop-color="#1c0000"/></linearGradient><linearGradient id="g32" x1="0" y1="0" x2="0" y2="1"><stop offset="0.000" stop-color="#000000"/><stop offset="0.219" stop-color="#010000"/><stop offset="0.412" stop-color="#090000"/><stop offset="0.478" stop-color="#0d0000"/><stop offset="0.524" stop-color="#150000"/><stop offset="0.561" stop-color="#170000"/><stop offset="0.614" stop-color="#310000"/><stop offset="0.639" stop-color="#2f0000"/><stop offset="0.668" stop-color="#400000"/><stop offset="0.693" stop-color="#400000"/><stop offset="0.701" stop-color="#450000"/><stop offset="0.718" stop-color="#560000"/><stop offset="0.734" stop-color="#5c0000"/><stop offset="0.759" stop-color="#780000"/><stop offset="0.779" stop-color="#880000"/><stop offset="0.796" stop-color="#970000"/><stop offset="0.821" stop-color="#a20000"/><stop offset="0.837" stop-color="#b80000"/><stop offset="0.858" stop-color="#c00000"/><stop offset="0.870" stop-color="#d10000"/><stop offset="0.878" stop-color="#d40000"/><stop offset="0.895" stop-color="#d20000"/><stop offset="0.911" stop-color="#d80000"/><stop offset="0.924" stop-color="#d70000"/><stop offset="0.928" stop-color="#cd0000"/><stop offset="0.932" stop-color="#bd0000"/><stop offset="0.940" stop-color="#930000"/><stop offset="0.953" stop-color="#890000"/><stop offset="0.961" stop-color="#870000"/><stop offset="0.965" stop-color="#a20000"/><stop offset="0.969" stop-color="#c80000"/><stop offset="0.977" stop-color="#d30000"/><stop offset="0.981" stop-color="#c30000"/><stop offset="0.986" stop-color="#520000"/><stop offset="0.990" stop-color="#2c0000"/><stop offset="0.994" stop-color="#210000"/><stop offset="0.998" stop-color="#1c0000"/></linearGradient><linearGradient id="g33" x1="0" y1="0" x2="0" y2="1"><stop offset="0.000" stop-color="#000000"/><stop offset="0.268" stop-color="#010000"/><stop offset="0.421" stop-color="#0a0000"/><stop offset="0.520" stop-color="#0e0000"/><stop offset="0.524" stop-color="#0d0000"/><stop offset="0.528" stop-color="#130000"/><stop offset="0.532" stop-color="#1e0000"/><stop offset="0.557" stop-color="#260000"/><stop offset="0.598" stop-color="#400000"/><stop offset="0.614" stop-color="#420000"/><stop offset="0.631" stop-color="#3f0000"/><stop offset="0.668" stop-color="#4c0000"/><stop offset="0.697" stop-color="#5d0000"/><stop offset="0.713" stop-color="#6d0000"/><stop offset="0.742" stop-color="#7a0000"/><stop offset="0.779" stop-color="#950000"/><stop offset="0.804" stop-color="#ae0000"/><stop offset="0.812" stop-color="#b20000"/><stop offset="0.821" stop-color="#b20000"/><stop offset="0.841" stop-color="#c10000"/><stop offset="0.858" stop-color="#bf0000"/><stop offset="0.862" stop-color="#c50000"/><stop offset="0.866" stop-color="#d10000"/><stop offset="0.870" stop-color="#d90000"/><stop offset="0.928" stop-color="#d90000"/><stop offset="0.932" stop-color="#cb0000"/><stop offset="0.940" stop-color="#910000"/><stop offset="0.957" stop-color="#8c0000"/><stop offset="0.961" stop-color="#8d0000"/><stop offset="0.965" stop-color="#a50000"/><stop offset="0.969" stop-color="#c80000"/><stop offset="0.977" stop-color="#d00000"/><stop offset="0.981" stop-color="#c00000"/><stop offset="0.986" stop-color="#510000"/><stop offset="0.990" stop-color="#2c0000"/><stop offset="0.994" stop-color="#210000"/><stop offset="0.998" stop-color="#1c0000"/></linearGradient><linearGradient id="g34" x1="0" y1="0" x2="0" y2="1"><stop offset="0.000" stop-color="#000000"/><stop offset="0.239" stop-color="#010000"/><stop offset="0.478" stop-color="#080000"/><stop offset="0.503" stop-color="#130000"/><stop offset="0.544" stop-color="#150000"/><stop offset="0.598" stop-color="#250000"/><stop offset="0.627" stop-color="#210000"/><stop offset="0.668" stop-color="#350000"/><stop offset="0.693" stop-color="#3d0000"/><stop offset="0.709" stop-color="#490000"/><stop offset="0.718" stop-color="#4c0000"/><stop offset="0.755" stop-color="#740000"/><stop offset="0.775" stop-color="#870000"/><stop offset="0.792" stop-color="#9e0000"/><stop offset="0.800" stop-color="#a80000"/><stop offset="0.812" stop-color="#af0000"/><stop offset="0.825" stop-color="#b40000"/><stop offset="0.841" stop-color="#bd0000"/><stop offset="0.858" stop-color="#be0000"/><stop offset="0.866" stop-color="#c90000"/><stop offset="0.874" stop-color="#d40000"/><stop offset="0.899" stop-color="#e00000"/><stop offset="0.920" stop-color="#dc0000"/><stop offset="0.928" stop-color="#ca0000"/><stop offset="0.932" stop-color="#ba0000"/><stop offset="0.940" stop-color="#8b0000"/><stop offset="0.948" stop-color="#8b0000"/><stop offset="0.961" stop-color="#910000"/><stop offset="0.965" stop-color="#a80000"/><stop offset="0.969" stop-color="#ca0000"/><stop offset="0.977" stop-color="#ce0000"/><stop offset="0.981" stop-color="#bd0000"/><stop offset="0.986" stop-color="#510000"/><stop offset="0.990" stop-color="#2c0000"/><stop offset="0.994" stop-color="#210000"/><stop offset="0.998" stop-color="#1c0000"/></linearGradient><linearGradient id="g35" x1="0" y1="0" x2="0" y2="1"><stop offset="0.000" stop-color="#000000"/><stop offset="0.231" stop-color="#010000"/><stop offset="0.421" stop-color="#0a0000"/><stop offset="0.491" stop-color="#0e0000"/><stop offset="0.532" stop-color="#180000"/><stop offset="0.569" stop-color="#280000"/><stop offset="0.602" stop-color="#350000"/><stop offset="0.623" stop-color="#390000"/><stop offset="0.652" stop-color="#4e0000"/><stop offset="0.668" stop-color="#540000"/><stop offset="0.689" stop-color="#560000"/><stop offset="0.718" stop-color="#690000"/><stop offset="0.746" stop-color="#850000"/><stop offset="0.771" stop-color="#900000"/><stop offset="0.796" stop-color="#a70000"/><stop offset="0.816" stop-color="#a90000"/><stop offset="0.858" stop-color="#be0000"/><stop offset="0.866" stop-color="#cb0000"/><stop offset="0.870" stop-color="#d20000"/><stop offset="0.899" stop-color="#df0000"/><stop offset="0.915" stop-color="#d50000"/><stop offset="0.920" stop-color="#d20000"/><stop offset="0.940" stop-color="#ac0000"/><stop offset="0.961" stop-color="#b40000"/><stop offset="0.965" stop-color="#bd0000"/><stop offset="0.969" stop-color="#cb0000"/><stop offset="0.977" stop-color="#cc0000"/><stop offset="0.981" stop-color="#b90000"/><stop offset="0.986" stop-color="#4f0000"/><stop offset="0.990" stop-color="#2c0000"/><stop offset="0.994" stop-color="#210000"/><stop offset="0.998" stop-color="#1c0000"/></linearGradient><linearGradient id="g36" x1="0" y1="0" x2="0" y2="1"><stop offset="0.000" stop-color="#000000"/><stop offset="0.247" stop-color="#010000"/><stop offset="0.449" stop-color="#080000"/><stop offset="0.507" stop-color="#0c0000"/><stop offset="0.532" stop-color="#120000"/><stop offset="0.561" stop-color="#1c0000"/><stop offset="0.586" stop-color="#1d0000"/><stop offset="0.606" stop-color="#210000"/><stop offset="0.614" stop-color="#220000"/><stop offset="0.631" stop-color="#310000"/><stop offset="0.656" stop-color="#480000"/><stop offset="0.672" stop-color="#500000"/><stop offset="0.689" stop-color="#4d0000"/><stop offset="0.701" stop-color="#490000"/><stop offset="0.709" stop-color="#4e0000"/><stop offset="0.726" stop-color="#670000"/><stop offset="0.738" stop-color="#7c0000"/><stop offset="0.751" stop-color="#870000"/><stop offset="0.763" stop-color="#8d0000"/><stop offset="0.788" stop-color="#a80000"/><stop offset="0.800" stop-color="#ac0000"/><stop offset="0.816" stop-color="#a80000"/><stop offset="0.849" stop-color="#b40000"/><stop offset="0.858" stop-color="#bb0000"/><stop offset="0.866" stop-color="#cc0000"/><stop offset="0.870" stop-color="#d50000"/><stop offset="0.874" stop-color="#d90000"/><stop offset="0.887" stop-color="#d90000"/><stop offset="0.899" stop-color="#e00000"/><stop offset="0.911" stop-color="#db0000"/><stop offset="0.920" stop-color="#d60000"/><stop offset="0.928" stop-color="#c70000"/><stop offset="0.932" stop-color="#bc0000"/><stop offset="0.940" stop-color="#990000"/><stop offset="0.961" stop-color="#9c0000"/><stop offset="0.965" stop-color="#b00000"/><stop offset="0.969" stop-color="#cc0000"/><stop offset="0.977" stop-color="#cc0000"/><stop offset="0.981" stop-color="#b70000"/><stop offset="0.986" stop-color="#4d0000"/><stop offset="0.990" stop-color="#2c0000"/><stop offset="0.994" stop-color="#210000"/><stop offset="0.998" stop-color="#1c0000"/></linearGradient><linearGradient id="g37" x1="0" y1="0" x2="0" y2="1"><stop offset="0.000" stop-color="#000000"/><stop offset="0.301" stop-color="#010000"/><stop offset="0.548" stop-color="#0b0000"/><stop offset="0.573" stop-color="#180000"/><stop offset="0.610" stop-color="#230000"/><stop offset="0.672" stop-color="#540000"/><stop offset="0.685" stop-color="#540000"/><stop offset="0.697" stop-color="#4a0000"/><stop offset="0.709" stop-color="#560000"/><stop offset="0.726" stop-color="#740000"/><stop offset="0.738" stop-color="#870000"/><stop offset="0.746" stop-color="#8f0000"/><stop offset="0.759" stop-color="#960000"/><stop offset="0.775" stop-color="#aa0000"/><stop offset="0.796" stop-color="#b50000"/><stop offset="0.804" stop-color="#b40000"/><stop offset="0.816" stop-color="#af0000"/><stop offset="0.837" stop-color="#b40000"/><stop offset="0.854" stop-color="#b50000"/><stop offset="0.858" stop-color="#b70000"/><stop offset="0.862" stop-color="#be0000"/><stop offset="0.870" stop-color="#d60000"/><stop offset="0.874" stop-color="#dc0000"/><stop offset="0.887" stop-color="#df0000"/><stop offset="0.899" stop-color="#eb0000"/><stop offset="0.915" stop-color="#e60000"/><stop offset="0.920" stop-color="#e40000"/><stop offset="0.928" stop-color="#d20000"/><stop offset="0.932" stop-color="#c30000"/><stop offset="0.940" stop-color="#9a0000"/><stop offset="0.953" stop-color="#9c0000"/><stop offset="0.961" stop-color="#a00000"/><stop offset="0.965" stop-color="#b40000"/><stop offset="0.969" stop-color="#ce0000"/><stop offset="0.977" stop-color="#ce0000"/><stop offset="0.981" stop-color="#b70000"/><stop offset="0.986" stop-color="#4c0000"/><stop offset="0.990" stop-color="#2c0000"/><stop offset="0.994" stop-color="#210000"/><stop offset="0.998" stop-color="#1c0000"/></linearGradient><linearGradient id="g38" x1="0" y1="0" x2="0" y2="1"><stop offset="0.000" stop-color="#000000"/><stop offset="0.260" stop-color="#010000"/><stop offset="0.412" stop-color="#0f0000"/><stop offset="0.524" stop-color="#150000"/><stop offset="0.532" stop-color="#1c0000"/><stop offset="0.565" stop-color="#470000"/><stop offset="0.573" stop-color="#4e0000"/><stop offset="0.602" stop-color="#550000"/><stop offset="0.647" stop-color="#6b0000"/><stop offset="0.672" stop-color="#7d0000"/><stop offset="0.689" stop-color="#7c0000"/><stop offset="0.709" stop-color="#760000"/><stop offset="0.718" stop-color="#7a0000"/><stop offset="0.738" stop-color="#8f0000"/><stop offset="0.763" stop-color="#960000"/><stop offset="0.800" stop-color="#b00000"/><stop offset="0.808" stop-color="#af0000"/><stop offset="0.816" stop-color="#ac0000"/><stop offset="0.833" stop-color="#b60000"/><stop offset="0.858" stop-color="#b80000"/><stop offset="0.862" stop-color="#be0000"/><stop offset="0.870" stop-color="#d30000"/><stop offset="0.874" stop-color="#d80000"/><stop offset="0.887" stop-color="#dc0000"/><stop offset="0.895" stop-color="#e70000"/><stop offset="0.903" stop-color="#eb0000"/><stop offset="0.920" stop-color="#e50000"/><stop offset="0.928" stop-color="#d30000"/><stop offset="0.932" stop-color="#c30000"/><stop offset="0.940" stop-color="#960000"/><stop offset="0.948" stop-color="#960000"/><stop offset="0.961" stop-color="#9e0000"/><stop offset="0.965" stop-color="#b00000"/><stop offset="0.969" stop-color="#c90000"/><stop offset="0.977" stop-color="#c80000"/><stop offset="0.981" stop-color="#b20000"/><stop offset="0.986" stop-color="#4c0000"/><stop offset="0.990" stop-color="#2c0000"/><stop offset="0.994" stop-color="#210000"/><stop offset="0.998" stop-color="#1c0000"/></linearGradient><linearGradient id="g39" x1="0" y1="0" x2="0" y2="1"><stop offset="0.000" stop-color="#000000"/><stop offset="0.252" stop-color="#010000"/><stop offset="0.404" stop-color="#0a0000"/><stop offset="0.515" stop-color="#100000"/><stop offset="0.544" stop-color="#1d0000"/><stop offset="0.614" stop-color="#400000"/><stop offset="0.639" stop-color="#450000"/><stop offset="0.676" stop-color="#650000"/><stop offset="0.718" stop-color="#760000"/><stop offset="0.742" stop-color="#8b0000"/><stop offset="0.779" stop-color="#9c0000"/><stop offset="0.800" stop-color="#ad0000"/><stop offset="0.808" stop-color="#ab0000"/><stop offset="0.816" stop-color="#a50000"/><stop offset="0.825" stop-color="#a80000"/><stop offset="0.837" stop-color="#b30000"/><stop offset="0.858" stop-color="#b90000"/><stop offset="0.862" stop-color="#c00000"/><stop offset="0.870" stop-color="#d80000"/><stop offset="0.874" stop-color="#dd0000"/><stop offset="0.891" stop-color="#e40000"/><stop offset="0.899" stop-color="#ea0000"/><stop offset="0.920" stop-color="#e60000"/><stop offset="0.928" stop-color="#d70000"/><stop offset="0.932" stop-color="#c70000"/><stop offset="0.940" stop-color="#9b0000"/><stop offset="0.948" stop-color="#9b0000"/><stop offset="0.961" stop-color="#a10000"/><stop offset="0.965" stop-color="#b00000"/><stop offset="0.969" stop-color="#c30000"/><stop offset="0.977" stop-color="#c00000"/><stop offset="0.981" stop-color="#aa0000"/><stop offset="0.986" stop-color="#4a0000"/><stop offset="0.990" stop-color="#2c0000"/><stop offset="0.994" stop-color="#210000"/><stop offset="0.998" stop-color="#1c0000"/></linearGradient><linearGradient id="g40" x1="0" y1="0" x2="0" y2="1"><stop offset="0.000" stop-color="#000000"/><stop offset="0.194" stop-color="#010000"/><stop offset="0.346" stop-color="#110000"/><stop offset="0.462" stop-color="#190000"/><stop offset="0.540" stop-color="#4c0000"/><stop offset="0.577" stop-color="#550000"/><stop offset="0.610" stop-color="#630000"/><stop offset="0.635" stop-color="#620000"/><stop offset="0.647" stop-color="#630000"/><stop offset="0.718" stop-color="#850000"/><stop offset="0.730" stop-color="#860000"/><stop offset="0.755" stop-color="#990000"/><stop offset="0.779" stop-color="#990000"/><stop offset="0.800" stop-color="#a80000"/><stop offset="0.816" stop-color="#a00000"/><stop offset="0.825" stop-color="#a50000"/><stop offset="0.841" stop-color="#b20000"/><stop offset="0.858" stop-color="#b70000"/><stop offset="0.862" stop-color="#c00000"/><stop offset="0.870" stop-color="#dd0000"/><stop offset="0.874" stop-color="#e50000"/><stop offset="0.891" stop-color="#eb0000"/><stop offset="0.899" stop-color="#f00000"/><stop offset="0.920" stop-color="#ea0000"/><stop offset="0.928" stop-color="#db0000"/><stop offset="0.932" stop-color="#cb0000"/><stop offset="0.940" stop-color="#9e0000"/><stop offset="0.961" stop-color="#a50000"/><stop offset="0.965" stop-color="#b30000"/><stop offset="0.969" stop-color="#c50000"/><stop offset="0.977" stop-color="#bd0000"/><stop offset="0.981" stop-color="#a50000"/><stop offset="0.986" stop-color="#480000"/><stop offset="0.990" stop-color="#2c0000"/><stop offset="0.994" stop-color="#210000"/><stop offset="0.998" stop-color="#1c0000"/></linearGradient><linearGradient id="g41" x1="0" y1="0" x2="0" y2="1"><stop offset="0.000" stop-color="#000000"/><stop offset="0.161" stop-color="#010000"/><stop offset="0.313" stop-color="#0b0000"/><stop offset="0.425" stop-color="#110000"/><stop offset="0.515" stop-color="#290000"/><stop offset="0.557" stop-color="#350000"/><stop offset="0.627" stop-color="#4c0000"/><stop offset="0.647" stop-color="#4c0000"/><stop offset="0.672" stop-color="#580000"/><stop offset="0.701" stop-color="#6b0000"/><stop offset="0.718" stop-color="#700000"/><stop offset="0.730" stop-color="#6e0000"/><stop offset="0.738" stop-color="#750000"/><stop offset="0.755" stop-color="#8b0000"/><stop offset="0.763" stop-color="#8e0000"/><stop offset="0.779" stop-color="#8f0000"/><stop offset="0.800" stop-color="#9e0000"/><stop offset="0.821" stop-color="#a50000"/><stop offset="0.837" stop-color="#b00000"/><stop offset="0.858" stop-color="#b20000"/><stop offset="0.862" stop-color="#b90000"/><stop offset="0.870" stop-color="#d00000"/><stop offset="0.874" stop-color="#d80000"/><stop offset="0.895" stop-color="#e80000"/><stop offset="0.907" stop-color="#e80000"/><stop offset="0.920" stop-color="#e20000"/><stop offset="0.932" stop-color="#c50000"/><stop offset="0.940" stop-color="#ae0000"/><stop offset="0.957" stop-color="#b70000"/><stop offset="0.961" stop-color="#b70000"/><stop offset="0.969" stop-color="#c90000"/><stop offset="0.977" stop-color="#c00000"/><stop offset="0.981" stop-color="#a70000"/><stop offset="0.986" stop-color="#480000"/><stop offset="0.990" stop-color="#2c0000"/><stop offset="0.994" stop-color="#210000"/><stop offset="0.998" stop-color="#1c0000"/></linearGradient><linearGradient id="g42" x1="0" y1="0" x2="0" y2="1"><stop offset="0.000" stop-color="#000000"/><stop offset="0.272" stop-color="#010000"/><stop offset="0.437" stop-color="#0d0000"/><stop offset="0.511" stop-color="#100000"/><stop offset="0.536" stop-color="#0f0000"/><stop offset="0.577" stop-color="#370000"/><stop offset="0.606" stop-color="#4c0000"/><stop offset="0.635" stop-color="#540000"/><stop offset="0.668" stop-color="#600000"/><stop offset="0.697" stop-color="#760000"/><stop offset="0.718" stop-color="#800000"/><stop offset="0.734" stop-color="#840000"/><stop offset="0.751" stop-color="#930000"/><stop offset="0.763" stop-color="#9c0000"/><stop offset="0.788" stop-color="#a50000"/><stop offset="0.829" stop-color="#bb0000"/><stop offset="0.841" stop-color="#b80000"/><stop offset="0.858" stop-color="#ae0000"/><stop offset="0.862" stop-color="#b50000"/><stop offset="0.870" stop-color="#d30000"/><stop offset="0.874" stop-color="#dd0000"/><stop offset="0.895" stop-color="#f50000"/><stop offset="0.903" stop-color="#f60000"/><stop offset="0.915" stop-color="#f40000"/><stop offset="0.920" stop-color="#f10000"/><stop offset="0.928" stop-color="#da0000"/><stop offset="0.932" stop-color="#c70000"/><stop offset="0.940" stop-color="#920000"/><stop offset="0.961" stop-color="#990000"/><stop offset="0.965" stop-color="#ad0000"/><stop offset="0.969" stop-color="#c90000"/><stop offset="0.977" stop-color="#c50000"/><stop offset="0.981" stop-color="#ad0000"/><stop offset="0.986" stop-color="#4a0000"/><stop offset="0.990" stop-color="#2c0000"/><stop offset="0.994" stop-color="#210000"/><stop offset="0.998" stop-color="#1c0000"/></linearGradient><linearGradient id="g43" x1="0" y1="0" x2="0" y2="1"><stop offset="0.000" stop-color="#000000"/><stop offset="0.293" stop-color="#010000"/><stop offset="0.478" stop-color="#070000"/><stop offset="0.540" stop-color="#080000"/><stop offset="0.573" stop-color="#1b0000"/><stop offset="0.606" stop-color="#210000"/><stop offset="0.635" stop-color="#290000"/><stop offset="0.652" stop-color="#330000"/><stop offset="0.672" stop-color="#380000"/><stop offset="0.689" stop-color="#430000"/><stop offset="0.701" stop-color="#450000"/><stop offset="0.705" stop-color="#490000"/><stop offset="0.722" stop-color="#6a0000"/><stop offset="0.746" stop-color="#7d0000"/><stop offset="0.771" stop-color="#9b0000"/><stop offset="0.796" stop-color="#a80000"/><stop offset="0.833" stop-color="#bc0000"/><stop offset="0.845" stop-color="#b90000"/><stop offset="0.858" stop-color="#b10000"/><stop offset="0.862" stop-color="#b80000"/><stop offset="0.870" stop-color="#da0000"/><stop offset="0.874" stop-color="#e60000"/><stop offset="0.887" stop-color="#f60000"/><stop offset="0.920" stop-color="#f70000"/><stop offset="0.928" stop-color="#e40000"/><stop offset="0.932" stop-color="#ce0000"/><stop offset="0.940" stop-color="#8e0000"/><stop offset="0.957" stop-color="#8f0000"/><stop offset="0.961" stop-color="#900000"/><stop offset="0.965" stop-color="#a60000"/><stop offset="0.969" stop-color="#c40000"/><stop offset="0.977" stop-color="#c40000"/><stop offset="0.981" stop-color="#af0000"/><stop offset="0.986" stop-color="#4b0000"/><stop offset="0.990" stop-color="#2c0000"/><stop offset="0.994" stop-color="#210000"/><stop offset="0.998" stop-color="#1c0000"/></linearGradient><linearGradient id="g44" x1="0" y1="0" x2="0" y2="1"><stop offset="0.000" stop-color="#000000"/><stop offset="0.235" stop-color="#010000"/><stop offset="0.466" stop-color="#090000"/><stop offset="0.491" stop-color="#0b0000"/><stop offset="0.573" stop-color="#1e0000"/><stop offset="0.594" stop-color="#230000"/><stop offset="0.623" stop-color="#290000"/><stop offset="0.647" stop-color="#3b0000"/><stop offset="0.672" stop-color="#400000"/><stop offset="0.689" stop-color="#490000"/><stop offset="0.697" stop-color="#4a0000"/><stop offset="0.746" stop-color="#700000"/><stop offset="0.788" stop-color="#9a0000"/><stop offset="0.821" stop-color="#b20000"/><stop offset="0.845" stop-color="#b50000"/><stop offset="0.858" stop-color="#b20000"/><stop offset="0.862" stop-color="#b90000"/><stop offset="0.870" stop-color="#d90000"/><stop offset="0.874" stop-color="#e50000"/><stop offset="0.882" stop-color="#ee0000"/><stop offset="0.895" stop-color="#f10000"/><stop offset="0.907" stop-color="#ea0000"/><stop offset="0.920" stop-color="#ed0000"/><stop offset="0.928" stop-color="#e00000"/><stop offset="0.932" stop-color="#cf0000"/><stop offset="0.940" stop-color="#960000"/><stop offset="0.953" stop-color="#920000"/><stop offset="0.961" stop-color="#970000"/><stop offset="0.965" stop-color="#a90000"/><stop offset="0.969" stop-color="#c10000"/><stop offset="0.977" stop-color="#c10000"/><stop offset="0.981" stop-color="#aa0000"/><stop offset="0.986" stop-color="#4a0000"/><stop offset="0.990" stop-color="#2c0000"/><stop offset="0.994" stop-color="#210000"/><stop offset="0.998" stop-color="#1c0000"/></linearGradient><linearGradient id="g45" x1="0" y1="0" x2="0" y2="1"><stop offset="0.000" stop-color="#000000"/><stop offset="0.268" stop-color="#010000"/><stop offset="0.520" stop-color="#0b0000"/><stop offset="0.573" stop-color="#190000"/><stop offset="0.606" stop-color="#250000"/><stop offset="0.627" stop-color="#2e0000"/><stop offset="0.652" stop-color="#3c0000"/><stop offset="0.672" stop-color="#400000"/><stop offset="0.693" stop-color="#4d0000"/><stop offset="0.701" stop-color="#520000"/><stop offset="0.718" stop-color="#640000"/><stop offset="0.742" stop-color="#780000"/><stop offset="0.763" stop-color="#8f0000"/><stop offset="0.808" stop-color="#b00000"/><stop offset="0.825" stop-color="#b10000"/><stop offset="0.841" stop-color="#b00000"/><stop offset="0.858" stop-color="#b60000"/><stop offset="0.862" stop-color="#bf0000"/><stop offset="0.870" stop-color="#de0000"/><stop offset="0.874" stop-color="#e70000"/><stop offset="0.887" stop-color="#ec0000"/><stop offset="0.895" stop-color="#eb0000"/><stop offset="0.907" stop-color="#e00000"/><stop offset="0.915" stop-color="#e10000"/><stop offset="0.920" stop-color="#e60000"/><stop offset="0.928" stop-color="#e00000"/><stop offset="0.932" stop-color="#d10000"/><stop offset="0.936" stop-color="#b70000"/><stop offset="0.940" stop-color="#990000"/><stop offset="0.948" stop-color="#940000"/><stop offset="0.961" stop-color="#970000"/><stop offset="0.965" stop-color="#a80000"/><stop offset="0.969" stop-color="#be0000"/><stop offset="0.977" stop-color="#bc0000"/><stop offset="0.981" stop-color="#a70000"/><stop offset="0.986" stop-color="#4a0000"/><stop offset="0.990" stop-color="#2c0000"/><stop offset="0.994" stop-color="#210000"/><stop offset="0.998" stop-color="#1c0000"/></linearGradient><linearGradient id="g46" x1="0" y1="0" x2="0" y2="1"><stop offset="0.000" stop-color="#000000"/><stop offset="0.268" stop-color="#010000"/><stop offset="0.515" stop-color="#0e0000"/><stop offset="0.528" stop-color="#0e0000"/><stop offset="0.577" stop-color="#260000"/><stop offset="0.606" stop-color="#380000"/><stop offset="0.627" stop-color="#420000"/><stop offset="0.647" stop-color="#4b0000"/><stop offset="0.668" stop-color="#510000"/><stop offset="0.676" stop-color="#570000"/><stop offset="0.701" stop-color="#750000"/><stop offset="0.713" stop-color="#7c0000"/><stop offset="0.730" stop-color="#7e0000"/><stop offset="0.767" stop-color="#980000"/><stop offset="0.792" stop-color="#ab0000"/><stop offset="0.808" stop-color="#ad0000"/><stop offset="0.833" stop-color="#b00000"/><stop offset="0.858" stop-color="#bb0000"/><stop offset="0.862" stop-color="#c50000"/><stop offset="0.870" stop-color="#e50000"/><stop offset="0.874" stop-color="#ee0000"/><stop offset="0.895" stop-color="#f10000"/><stop offset="0.903" stop-color="#ea0000"/><stop offset="0.911" stop-color="#e30000"/><stop offset="0.920" stop-color="#e70000"/><stop offset="0.928" stop-color="#e20000"/><stop offset="0.932" stop-color="#d80000"/><stop offset="0.940" stop-color="#b10000"/><stop offset="0.961" stop-color="#af0000"/><stop offset="0.969" stop-color="#c20000"/><stop offset="0.977" stop-color="#bf0000"/><stop offset="0.981" stop-color="#ab0000"/><stop offset="0.986" stop-color="#4b0000"/><stop offset="0.990" stop-color="#2c0000"/><stop offset="0.994" stop-color="#210000"/><stop offset="0.998" stop-color="#1c0000"/></linearGradient><linearGradient id="g47" x1="0" y1="0" x2="0" y2="1"><stop offset="0.000" stop-color="#000000"/><stop offset="0.272" stop-color="#010000"/><stop offset="0.437" stop-color="#0a0000"/><stop offset="0.528" stop-color="#0e0000"/><stop offset="0.569" stop-color="#230000"/><stop offset="0.606" stop-color="#380000"/><stop offset="0.639" stop-color="#4e0000"/><stop offset="0.664" stop-color="#500000"/><stop offset="0.680" stop-color="#5d0000"/><stop offset="0.701" stop-color="#770000"/><stop offset="0.713" stop-color="#7d0000"/><stop offset="0.730" stop-color="#820000"/><stop offset="0.746" stop-color="#8f0000"/><stop offset="0.767" stop-color="#990000"/><stop offset="0.788" stop-color="#a80000"/><stop offset="0.825" stop-color="#ab0000"/><stop offset="0.854" stop-color="#be0000"/><stop offset="0.858" stop-color="#bf0000"/><stop offset="0.862" stop-color="#c60000"/><stop offset="0.870" stop-color="#e00000"/><stop offset="0.874" stop-color="#e70000"/><stop offset="0.899" stop-color="#ea0000"/><stop offset="0.920" stop-color="#df0000"/><stop offset="0.928" stop-color="#d30000"/><stop offset="0.932" stop-color="#ca0000"/><stop offset="0.940" stop-color="#b00000"/><stop offset="0.948" stop-color="#b70000"/><stop offset="0.957" stop-color="#b90000"/><stop offset="0.961" stop-color="#b70000"/><stop offset="0.965" stop-color="#be0000"/><stop offset="0.969" stop-color="#cb0000"/><stop offset="0.977" stop-color="#c60000"/><stop offset="0.981" stop-color="#b10000"/><stop offset="0.986" stop-color="#4d0000"/><stop offset="0.990" stop-color="#2c0000"/><stop offset="0.994" stop-color="#210000"/><stop offset="0.998" stop-color="#1c0000"/></linearGradient><linearGradient id="g48" x1="0" y1="0" x2="0" y2="1"><stop offset="0.000" stop-color="#000000"/><stop offset="0.289" stop-color="#010000"/><stop offset="0.515" stop-color="#0a0000"/><stop offset="0.544" stop-color="#110000"/><stop offset="0.565" stop-color="#160000"/><stop offset="0.590" stop-color="#1b0000"/><stop offset="0.635" stop-color="#3a0000"/><stop offset="0.647" stop-color="#390000"/><stop offset="0.656" stop-color="#360000"/><stop offset="0.668" stop-color="#3c0000"/><stop offset="0.685" stop-color="#480000"/><stop offset="0.701" stop-color="#510000"/><stop offset="0.722" stop-color="#740000"/><stop offset="0.738" stop-color="#850000"/><stop offset="0.755" stop-color="#960000"/><stop offset="0.771" stop-color="#9f0000"/><stop offset="0.792" stop-color="#a30000"/><stop offset="0.812" stop-color="#b00000"/><stop offset="0.833" stop-color="#ad0000"/><stop offset="0.845" stop-color="#b40000"/><stop offset="0.858" stop-color="#bf0000"/><stop offset="0.862" stop-color="#c80000"/><stop offset="0.870" stop-color="#e20000"/><stop offset="0.874" stop-color="#e80000"/><stop offset="0.891" stop-color="#e70000"/><stop offset="0.903" stop-color="#e90000"/><stop offset="0.915" stop-color="#e50000"/><stop offset="0.920" stop-color="#e10000"/><stop offset="0.928" stop-color="#cd0000"/><stop offset="0.932" stop-color="#bf0000"/><stop offset="0.940" stop-color="#9c0000"/><stop offset="0.948" stop-color="#a80000"/><stop offset="0.953" stop-color="#ac0000"/><stop offset="0.961" stop-color="#aa0000"/><stop offset="0.965" stop-color="#b50000"/><stop offset="0.969" stop-color="#c70000"/><stop offset="0.977" stop-color="#c00000"/><stop offset="0.981" stop-color="#ac0000"/><stop offset="0.986" stop-color="#4c0000"/><stop offset="0.990" stop-color="#2c0000"/><stop offset="0.994" stop-color="#210000"/><stop offset="0.998" stop-color="#1c0000"/></linearGradient><linearGradient id="g49" x1="0" y1="0" x2="0" y2="1"><stop offset="0.000" stop-color="#000000"/><stop offset="0.214" stop-color="#010000"/><stop offset="0.437" stop-color="#090000"/><stop offset="0.474" stop-color="#0c0000"/><stop offset="0.511" stop-color="#150000"/><stop offset="0.532" stop-color="#1d0000"/><stop offset="0.581" stop-color="#200000"/><stop offset="0.610" stop-color="#300000"/><stop offset="0.631" stop-color="#3d0000"/><stop offset="0.643" stop-color="#3d0000"/><stop offset="0.652" stop-color="#3a0000"/><stop offset="0.660" stop-color="#3d0000"/><stop offset="0.676" stop-color="#4d0000"/><stop offset="0.693" stop-color="#500000"/><stop offset="0.705" stop-color="#5b0000"/><stop offset="0.722" stop-color="#690000"/><stop offset="0.738" stop-color="#780000"/><stop offset="0.759" stop-color="#8c0000"/><stop offset="0.775" stop-color="#8f0000"/><stop offset="0.784" stop-color="#910000"/><stop offset="0.812" stop-color="#b00000"/><stop offset="0.821" stop-color="#b20000"/><stop offset="0.837" stop-color="#a90000"/><stop offset="0.845" stop-color="#ac0000"/><stop offset="0.858" stop-color="#bb0000"/><stop offset="0.870" stop-color="#dd0000"/><stop offset="0.874" stop-color="#e20000"/><stop offset="0.891" stop-color="#e10000"/><stop offset="0.911" stop-color="#e90000"/><stop offset="0.920" stop-color="#e40000"/><stop offset="0.928" stop-color="#ce0000"/><stop offset="0.932" stop-color="#be0000"/><stop offset="0.940" stop-color="#970000"/><stop offset="0.948" stop-color="#a20000"/><stop offset="0.957" stop-color="#a50000"/><stop offset="0.961" stop-color="#a30000"/><stop offset="0.965" stop-color="#ac0000"/><stop offset="0.969" stop-color="#bb0000"/><stop offset="0.977" stop-color="#b70000"/><stop offset="0.981" stop-color="#a50000"/><stop offset="0.986" stop-color="#4b0000"/><stop offset="0.990" stop-color="#2c0000"/><stop offset="0.994" stop-color="#210000"/><stop offset="0.998" stop-color="#1c0000"/></linearGradient><linearGradient id="g50" x1="0" y1="0" x2="0" y2="1"><stop offset="0.000" stop-color="#000000"/><stop offset="0.305" stop-color="#010000"/><stop offset="0.524" stop-color="#0e0000"/><stop offset="0.540" stop-color="#0d0000"/><stop offset="0.561" stop-color="#0c0000"/><stop offset="0.631" stop-color="#3d0000"/><stop offset="0.656" stop-color="#460000"/><stop offset="0.672" stop-color="#600000"/><stop offset="0.685" stop-color="#6a0000"/><stop offset="0.701" stop-color="#740000"/><stop offset="0.742" stop-color="#9f0000"/><stop offset="0.767" stop-color="#a60000"/><stop offset="0.784" stop-color="#a50000"/><stop offset="0.812" stop-color="#b70000"/><stop offset="0.821" stop-color="#b70000"/><stop offset="0.841" stop-color="#ac0000"/><stop offset="0.849" stop-color="#ae0000"/><stop offset="0.858" stop-color="#b50000"/><stop offset="0.862" stop-color="#be0000"/><stop offset="0.870" stop-color="#db0000"/><stop offset="0.874" stop-color="#e10000"/><stop offset="0.887" stop-color="#e40000"/><stop offset="0.911" stop-color="#f40000"/><stop offset="0.920" stop-color="#f40000"/><stop offset="0.928" stop-color="#df0000"/><stop offset="0.932" stop-color="#ce0000"/><stop offset="0.940" stop-color="#a20000"/><stop offset="0.953" stop-color="#a90000"/><stop offset="0.961" stop-color="#a60000"/><stop offset="0.965" stop-color="#ac0000"/><stop offset="0.969" stop-color="#b70000"/><stop offset="0.977" stop-color="#b80000"/><stop offset="0.981" stop-color="#a70000"/><stop offset="0.986" stop-color="#4c0000"/><stop offset="0.990" stop-color="#2c0000"/><stop offset="0.994" stop-color="#210000"/><stop offset="0.998" stop-color="#1c0000"/></linearGradient><linearGradient id="g51" x1="0" y1="0" x2="0" y2="1"><stop offset="0.000" stop-color="#000000"/><stop offset="0.181" stop-color="#010000"/><stop offset="0.433" stop-color="#0a0000"/><stop offset="0.503" stop-color="#170000"/><stop offset="0.540" stop-color="#190000"/><stop offset="0.561" stop-color="#1a0000"/><stop offset="0.598" stop-color="#230000"/><stop offset="0.619" stop-color="#260000"/><stop offset="0.647" stop-color="#2e0000"/><stop offset="0.660" stop-color="#340000"/><stop offset="0.676" stop-color="#420000"/><stop offset="0.701" stop-color="#4a0000"/><stop offset="0.722" stop-color="#5e0000"/><stop offset="0.742" stop-color="#780000"/><stop offset="0.784" stop-color="#850000"/><stop offset="0.796" stop-color="#910000"/><stop offset="0.812" stop-color="#a60000"/><stop offset="0.837" stop-color="#ab0000"/><stop offset="0.858" stop-color="#b10000"/><stop offset="0.862" stop-color="#ba0000"/><stop offset="0.870" stop-color="#dc0000"/><stop offset="0.874" stop-color="#e50000"/><stop offset="0.891" stop-color="#f30000"/><stop offset="0.895" stop-color="#f70000"/><stop offset="0.924" stop-color="#f70000"/><stop offset="0.928" stop-color="#f00000"/><stop offset="0.932" stop-color="#df0000"/><stop offset="0.940" stop-color="#b30000"/><stop offset="0.953" stop-color="#b30000"/><stop offset="0.961" stop-color="#af0000"/><stop offset="0.977" stop-color="#ba0000"/><stop offset="0.981" stop-color="#aa0000"/><stop offset="0.986" stop-color="#4d0000"/><stop offset="0.990" stop-color="#2c0000"/><stop offset="0.994" stop-color="#210000"/><stop offset="0.998" stop-color="#1c0000"/></linearGradient><linearGradient id="g52" x1="0" y1="0" x2="0" y2="1"><stop offset="0.000" stop-color="#000000"/><stop offset="0.285" stop-color="#010000"/><stop offset="0.491" stop-color="#090000"/><stop offset="0.536" stop-color="#0c0000"/><stop offset="0.557" stop-color="#110000"/><stop offset="0.606" stop-color="#250000"/><stop offset="0.627" stop-color="#2a0000"/><stop offset="0.660" stop-color="#360000"/><stop offset="0.693" stop-color="#490000"/><stop offset="0.701" stop-color="#4d0000"/><stop offset="0.722" stop-color="#760000"/><stop offset="0.742" stop-color="#900000"/><stop offset="0.767" stop-color="#a00000"/><stop offset="0.788" stop-color="#9e0000"/><stop offset="0.812" stop-color="#ad0000"/><stop offset="0.854" stop-color="#b30000"/><stop offset="0.858" stop-color="#b20000"/><stop offset="0.862" stop-color="#b90000"/><stop offset="0.870" stop-color="#da0000"/><stop offset="0.874" stop-color="#e40000"/><stop offset="0.891" stop-color="#f50000"/><stop offset="0.911" stop-color="#f70000"/><stop offset="0.924" stop-color="#f60000"/><stop offset="0.928" stop-color="#eb0000"/><stop offset="0.932" stop-color="#d20000"/><stop offset="0.940" stop-color="#870000"/><stop offset="0.961" stop-color="#810000"/><stop offset="0.965" stop-color="#930000"/><stop offset="0.969" stop-color="#ae0000"/><stop offset="0.977" stop-color="#b30000"/><stop offset="0.981" stop-color="#a40000"/><stop offset="0.986" stop-color="#4b0000"/><stop offset="0.990" stop-color="#2c0000"/><stop offset="0.994" stop-color="#210000"/><stop offset="0.998" stop-color="#1c0000"/></linearGradient><linearGradient id="g53" x1="0" y1="0" x2="0" y2="1"><stop offset="0.000" stop-color="#000000"/><stop offset="0.256" stop-color="#010000"/><stop offset="0.425" stop-color="#090000"/><stop offset="0.495" stop-color="#0d0000"/><stop offset="0.511" stop-color="#100000"/><stop offset="0.544" stop-color="#240000"/><stop offset="0.577" stop-color="#2e0000"/><stop offset="0.598" stop-color="#380000"/><stop offset="0.627" stop-color="#3c0000"/><stop offset="0.664" stop-color="#4c0000"/><stop offset="0.680" stop-color="#5a0000"/><stop offset="0.701" stop-color="#690000"/><stop offset="0.718" stop-color="#780000"/><stop offset="0.751" stop-color="#8e0000"/><stop offset="0.767" stop-color="#9d0000"/><stop offset="0.779" stop-color="#a00000"/><stop offset="0.788" stop-color="#9f0000"/><stop offset="0.808" stop-color="#ac0000"/><stop offset="0.829" stop-color="#ad0000"/><stop offset="0.845" stop-color="#ae0000"/><stop offset="0.858" stop-color="#b10000"/><stop offset="0.862" stop-color="#b80000"/><stop offset="0.870" stop-color="#d30000"/><stop offset="0.874" stop-color="#dc0000"/><stop offset="0.899" stop-color="#f40000"/><stop offset="0.915" stop-color="#f10000"/><stop offset="0.920" stop-color="#ee0000"/><stop offset="0.928" stop-color="#d80000"/><stop offset="0.932" stop-color="#c80000"/><stop offset="0.940" stop-color="#9f0000"/><stop offset="0.957" stop-color="#a00000"/><stop offset="0.961" stop-color="#9f0000"/><stop offset="0.965" stop-color="#a40000"/><stop offset="0.969" stop-color="#ad0000"/><stop offset="0.977" stop-color="#b00000"/><stop offset="0.981" stop-color="#a10000"/><stop offset="0.986" stop-color="#4a0000"/><stop offset="0.990" stop-color="#2c0000"/><stop offset="0.994" stop-color="#210000"/><stop offset="0.998" stop-color="#1c0000"/></linearGradient><linearGradient id="g54" x1="0" y1="0" x2="0" y2="1"><stop offset="0.000" stop-color="#000000"/><stop offset="0.264" stop-color="#010000"/><stop offset="0.449" stop-color="#0d0000"/><stop offset="0.495" stop-color="#100000"/><stop offset="0.528" stop-color="#110000"/><stop offset="0.548" stop-color="#200000"/><stop offset="0.573" stop-color="#2f0000"/><stop offset="0.598" stop-color="#420000"/><stop offset="0.631" stop-color="#540000"/><stop offset="0.647" stop-color="#5f0000"/><stop offset="0.676" stop-color="#730000"/><stop offset="0.697" stop-color="#760000"/><stop offset="0.722" stop-color="#8b0000"/><stop offset="0.742" stop-color="#8d0000"/><stop offset="0.755" stop-color="#960000"/><stop offset="0.763" stop-color="#9f0000"/><stop offset="0.775" stop-color="#a30000"/><stop offset="0.792" stop-color="#a40000"/><stop offset="0.808" stop-color="#ab0000"/><stop offset="0.829" stop-color="#ae0000"/><stop offset="0.841" stop-color="#ab0000"/><stop offset="0.858" stop-color="#b10000"/><stop offset="0.862" stop-color="#b70000"/><stop offset="0.870" stop-color="#cd0000"/><stop offset="0.874" stop-color="#d50000"/><stop offset="0.895" stop-color="#ea0000"/><stop offset="0.903" stop-color="#ec0000"/><stop offset="0.920" stop-color="#e30000"/><stop offset="0.928" stop-color="#cf0000"/><stop offset="0.932" stop-color="#be0000"/><stop offset="0.940" stop-color="#930000"/><stop offset="0.953" stop-color="#9d0000"/><stop offset="0.961" stop-color="#9b0000"/><stop offset="0.965" stop-color="#a80000"/><stop offset="0.969" stop-color="#bc0000"/><stop offset="0.977" stop-color="#bb0000"/><stop offset="0.981" stop-color="#a90000"/><stop offset="0.986" stop-color="#4c0000"/><stop offset="0.990" stop-color="#2c0000"/><stop offset="0.994" stop-color="#210000"/><stop offset="0.998" stop-color="#1c0000"/></linearGradient><linearGradient id="g55" x1="0" y1="0" x2="0" y2="1"><stop offset="0.000" stop-color="#000000"/><stop offset="0.309" stop-color="#010000"/><stop offset="0.466" stop-color="#0e0000"/><stop offset="0.515" stop-color="#110000"/><stop offset="0.544" stop-color="#110000"/><stop offset="0.573" stop-color="#110000"/><stop offset="0.577" stop-color="#120000"/><stop offset="0.623" stop-color="#470000"/><stop offset="0.643" stop-color="#650000"/><stop offset="0.664" stop-color="#7f0000"/><stop offset="0.672" stop-color="#850000"/><stop offset="0.689" stop-color="#820000"/><stop offset="0.697" stop-color="#820000"/><stop offset="0.722" stop-color="#9a0000"/><stop offset="0.734" stop-color="#9d0000"/><stop offset="0.746" stop-color="#9c0000"/><stop offset="0.763" stop-color="#a70000"/><stop offset="0.788" stop-color="#a70000"/><stop offset="0.812" stop-color="#ab0000"/><stop offset="0.845" stop-color="#ae0000"/><stop offset="0.858" stop-color="#b30000"/><stop offset="0.862" stop-color="#b80000"/><stop offset="0.870" stop-color="#cc0000"/><stop offset="0.878" stop-color="#d50000"/><stop offset="0.895" stop-color="#e40000"/><stop offset="0.911" stop-color="#e20000"/><stop offset="0.920" stop-color="#df0000"/><stop offset="0.932" stop-color="#c20000"/><stop offset="0.940" stop-color="#a80000"/><stop offset="0.953" stop-color="#b10000"/><stop offset="0.961" stop-color="#b10000"/><stop offset="0.965" stop-color="#ba0000"/><stop offset="0.969" stop-color="#c70000"/><stop offset="0.977" stop-color="#c50000"/><stop offset="0.981" stop-color="#b10000"/><stop offset="0.986" stop-color="#4d0000"/><stop offset="0.990" stop-color="#2c0000"/><stop offset="0.994" stop-color="#210000"/><stop offset="0.998" stop-color="#1c0000"/></linearGradient><linearGradient id="g56" x1="0" y1="0" x2="0" y2="1"><stop offset="0.000" stop-color="#000000"/><stop offset="0.305" stop-color="#010000"/><stop offset="0.466" stop-color="#080000"/><stop offset="0.520" stop-color="#090000"/><stop offset="0.557" stop-color="#0a0000"/><stop offset="0.594" stop-color="#1e0000"/><stop offset="0.631" stop-color="#340000"/><stop offset="0.656" stop-color="#4c0000"/><stop offset="0.676" stop-color="#600000"/><stop offset="0.693" stop-color="#650000"/><stop offset="0.705" stop-color="#720000"/><stop offset="0.722" stop-color="#8b0000"/><stop offset="0.730" stop-color="#920000"/><stop offset="0.751" stop-color="#960000"/><stop offset="0.767" stop-color="#9e0000"/><stop offset="0.779" stop-color="#9f0000"/><stop offset="0.800" stop-color="#ae0000"/><stop offset="0.845" stop-color="#ae0000"/><stop offset="0.858" stop-color="#b20000"/><stop offset="0.862" stop-color="#b90000"/><stop offset="0.870" stop-color="#d10000"/><stop offset="0.874" stop-color="#d80000"/><stop offset="0.895" stop-color="#e20000"/><stop offset="0.915" stop-color="#df0000"/><stop offset="0.920" stop-color="#e00000"/><stop offset="0.928" stop-color="#d20000"/><stop offset="0.932" stop-color="#c20000"/><stop offset="0.940" stop-color="#940000"/><stop offset="0.961" stop-color="#940000"/><stop offset="0.965" stop-color="#a50000"/><stop offset="0.969" stop-color="#be0000"/><stop offset="0.977" stop-color="#be0000"/><stop offset="0.981" stop-color="#ab0000"/><stop offset="0.986" stop-color="#4b0000"/><stop offset="0.990" stop-color="#2c0000"/><stop offset="0.994" stop-color="#210000"/><stop offset="0.998" stop-color="#1c0000"/></linearGradient><linearGradient id="g57" x1="0" y1="0" x2="0" y2="1"><stop offset="0.000" stop-color="#000000"/><stop offset="0.161" stop-color="#010000"/><stop offset="0.346" stop-color="#0b0000"/><stop offset="0.429" stop-color="#100000"/><stop offset="0.507" stop-color="#240000"/><stop offset="0.573" stop-color="#3a0000"/><stop offset="0.590" stop-color="#3e0000"/><stop offset="0.606" stop-color="#470000"/><stop offset="0.627" stop-color="#480000"/><stop offset="0.652" stop-color="#560000"/><stop offset="0.668" stop-color="#670000"/><stop offset="0.680" stop-color="#6b0000"/><stop offset="0.697" stop-color="#630000"/><stop offset="0.705" stop-color="#650000"/><stop offset="0.726" stop-color="#7a0000"/><stop offset="0.734" stop-color="#7d0000"/><stop offset="0.755" stop-color="#7a0000"/><stop offset="0.771" stop-color="#810000"/><stop offset="0.784" stop-color="#8c0000"/><stop offset="0.804" stop-color="#a40000"/><stop offset="0.825" stop-color="#ad0000"/><stop offset="0.845" stop-color="#ac0000"/><stop offset="0.858" stop-color="#b00000"/><stop offset="0.862" stop-color="#b70000"/><stop offset="0.870" stop-color="#d20000"/><stop offset="0.874" stop-color="#db0000"/><stop offset="0.882" stop-color="#e20000"/><stop offset="0.899" stop-color="#e00000"/><stop offset="0.911" stop-color="#de0000"/><stop offset="0.920" stop-color="#df0000"/><stop offset="0.928" stop-color="#d20000"/><stop offset="0.932" stop-color="#c50000"/><stop offset="0.940" stop-color="#9c0000"/><stop offset="0.957" stop-color="#950000"/><stop offset="0.961" stop-color="#960000"/><stop offset="0.965" stop-color="#a40000"/><stop offset="0.969" stop-color="#b80000"/><stop offset="0.977" stop-color="#b80000"/><stop offset="0.981" stop-color="#a60000"/><stop offset="0.986" stop-color="#4b0000"/><stop offset="0.990" stop-color="#2c0000"/><stop offset="0.994" stop-color="#210000"/><stop offset="0.998" stop-color="#1c0000"/></linearGradient><linearGradient id="g58" x1="0" y1="0" x2="0" y2="1"><stop offset="0.000" stop-color="#000000"/><stop offset="0.132" stop-color="#010000"/><stop offset="0.309" stop-color="#090000"/><stop offset="0.388" stop-color="#0d0000"/><stop offset="0.416" stop-color="#150000"/><stop offset="0.515" stop-color="#200000"/><stop offset="0.557" stop-color="#2e0000"/><stop offset="0.573" stop-color="#340000"/><stop offset="0.590" stop-color="#370000"/><stop offset="0.610" stop-color="#470000"/><stop offset="0.652" stop-color="#520000"/><stop offset="0.664" stop-color="#5b0000"/><stop offset="0.676" stop-color="#670000"/><stop offset="0.685" stop-color="#6a0000"/><stop offset="0.705" stop-color="#640000"/><stop offset="0.713" stop-color="#690000"/><stop offset="0.730" stop-color="#790000"/><stop offset="0.742" stop-color="#7a0000"/><stop offset="0.759" stop-color="#770000"/><stop offset="0.775" stop-color="#820000"/><stop offset="0.804" stop-color="#9d0000"/><stop offset="0.821" stop-color="#ab0000"/><stop offset="0.845" stop-color="#ab0000"/><stop offset="0.858" stop-color="#b10000"/><stop offset="0.862" stop-color="#b80000"/><stop offset="0.870" stop-color="#d40000"/><stop offset="0.874" stop-color="#de0000"/><stop offset="0.882" stop-color="#e60000"/><stop offset="0.899" stop-color="#e40000"/><stop offset="0.920" stop-color="#dc0000"/><stop offset="0.928" stop-color="#ce0000"/><stop offset="0.932" stop-color="#c00000"/><stop offset="0.940" stop-color="#920000"/><stop offset="0.961" stop-color="#8f0000"/><stop offset="0.965" stop-color="#a20000"/><stop offset="0.969" stop-color="#bd0000"/><stop offset="0.977" stop-color="#be0000"/><stop offset="0.981" stop-color="#ab0000"/><stop offset="0.986" stop-color="#4c0000"/><stop offset="0.990" stop-color="#2c0000"/><stop offset="0.994" stop-color="#210000"/><stop offset="0.998" stop-color="#1c0000"/></linearGradient><linearGradient id="g59" x1="0" y1="0" x2="0" y2="1"><stop offset="0.000" stop-color="#000000"/><stop offset="0.243" stop-color="#010000"/><stop offset="0.433" stop-color="#0a0000"/><stop offset="0.499" stop-color="#0c0000"/><stop offset="0.528" stop-color="#200000"/><stop offset="0.569" stop-color="#3c0000"/><stop offset="0.590" stop-color="#420000"/><stop offset="0.619" stop-color="#610000"/><stop offset="0.660" stop-color="#760000"/><stop offset="0.676" stop-color="#860000"/><stop offset="0.709" stop-color="#890000"/><stop offset="0.722" stop-color="#940000"/><stop offset="0.734" stop-color="#a10000"/><stop offset="0.746" stop-color="#a40000"/><stop offset="0.767" stop-color="#a10000"/><stop offset="0.784" stop-color="#a40000"/><stop offset="0.796" stop-color="#a40000"/><stop offset="0.816" stop-color="#b50000"/><stop offset="0.829" stop-color="#b40000"/><stop offset="0.841" stop-color="#af0000"/><stop offset="0.858" stop-color="#b50000"/><stop offset="0.862" stop-color="#bb0000"/><stop offset="0.870" stop-color="#d30000"/><stop offset="0.874" stop-color="#db0000"/><stop offset="0.882" stop-color="#e10000"/><stop offset="0.903" stop-color="#e00000"/><stop offset="0.920" stop-color="#d80000"/><stop offset="0.928" stop-color="#c80000"/><stop offset="0.932" stop-color="#bb0000"/><stop offset="0.940" stop-color="#960000"/><stop offset="0.961" stop-color="#980000"/><stop offset="0.965" stop-color="#a80000"/><stop offset="0.969" stop-color="#c00000"/><stop offset="0.977" stop-color="#bf0000"/><stop offset="0.981" stop-color="#ac0000"/><stop offset="0.986" stop-color="#4c0000"/><stop offset="0.990" stop-color="#2c0000"/><stop offset="0.994" stop-color="#210000"/><stop offset="0.998" stop-color="#1c0000"/></linearGradient><linearGradient id="g60" x1="0" y1="0" x2="0" y2="1"><stop offset="0.000" stop-color="#000000"/><stop offset="0.157" stop-color="#010000"/><stop offset="0.375" stop-color="#080000"/><stop offset="0.408" stop-color="#0b0000"/><stop offset="0.441" stop-color="#140000"/><stop offset="0.511" stop-color="#1a0000"/><stop offset="0.553" stop-color="#240000"/><stop offset="0.561" stop-color="#260000"/><stop offset="0.577" stop-color="#2e0000"/><stop offset="0.594" stop-color="#350000"/><stop offset="0.619" stop-color="#4a0000"/><stop offset="0.643" stop-color="#550000"/><stop offset="0.680" stop-color="#700000"/><stop offset="0.718" stop-color="#7d0000"/><stop offset="0.742" stop-color="#940000"/><stop offset="0.771" stop-color="#970000"/><stop offset="0.792" stop-color="#9e0000"/><stop offset="0.800" stop-color="#a60000"/><stop offset="0.808" stop-color="#b40000"/><stop offset="0.816" stop-color="#ba0000"/><stop offset="0.825" stop-color="#b70000"/><stop offset="0.837" stop-color="#af0000"/><stop offset="0.845" stop-color="#b00000"/><stop offset="0.858" stop-color="#b80000"/><stop offset="0.862" stop-color="#be0000"/><stop offset="0.870" stop-color="#d10000"/><stop offset="0.878" stop-color="#da0000"/><stop offset="0.903" stop-color="#da0000"/><stop offset="0.920" stop-color="#d40000"/><stop offset="0.940" stop-color="#aa0000"/><stop offset="0.961" stop-color="#af0000"/><stop offset="0.969" stop-color="#bd0000"/><stop offset="0.977" stop-color="#b80000"/><stop offset="0.981" stop-color="#a40000"/><stop offset="0.986" stop-color="#490000"/><stop offset="0.990" stop-color="#2c0000"/><stop offset="0.994" stop-color="#210000"/><stop offset="0.998" stop-color="#1c0000"/></linearGradient><linearGradient id="g61" x1="0" y1="0" x2="0" y2="1"><stop offset="0.000" stop-color="#000000"/><stop offset="0.173" stop-color="#010000"/><stop offset="0.342" stop-color="#0e0000"/><stop offset="0.441" stop-color="#140000"/><stop offset="0.507" stop-color="#3d0000"/><stop offset="0.524" stop-color="#480000"/><stop offset="0.544" stop-color="#590000"/><stop offset="0.561" stop-color="#650000"/><stop offset="0.577" stop-color="#6f0000"/><stop offset="0.619" stop-color="#7e0000"/><stop offset="0.635" stop-color="#7d0000"/><stop offset="0.680" stop-color="#920000"/><stop offset="0.726" stop-color="#980000"/><stop offset="0.746" stop-color="#a20000"/><stop offset="0.788" stop-color="#ab0000"/><stop offset="0.800" stop-color="#b50000"/><stop offset="0.808" stop-color="#bd0000"/><stop offset="0.816" stop-color="#be0000"/><stop offset="0.837" stop-color="#af0000"/><stop offset="0.845" stop-color="#af0000"/><stop offset="0.858" stop-color="#b60000"/><stop offset="0.862" stop-color="#bd0000"/><stop offset="0.870" stop-color="#d20000"/><stop offset="0.878" stop-color="#db0000"/><stop offset="0.899" stop-color="#dd0000"/><stop offset="0.920" stop-color="#d30000"/><stop offset="0.932" stop-color="#ba0000"/><stop offset="0.940" stop-color="#a20000"/><stop offset="0.961" stop-color="#a60000"/><stop offset="0.969" stop-color="#b20000"/><stop offset="0.977" stop-color="#ac0000"/><stop offset="0.981" stop-color="#970000"/><stop offset="0.986" stop-color="#460000"/><stop offset="0.990" stop-color="#2c0000"/><stop offset="0.994" stop-color="#210000"/><stop offset="0.998" stop-color="#1c0000"/></linearGradient><linearGradient id="g62" x1="0" y1="0" x2="0" y2="1"><stop offset="0.000" stop-color="#000000"/><stop offset="0.219" stop-color="#010000"/><stop offset="0.388" stop-color="#090000"/><stop offset="0.474" stop-color="#0d0000"/><stop offset="0.524" stop-color="#390000"/><stop offset="0.540" stop-color="#4b0000"/><stop offset="0.557" stop-color="#570000"/><stop offset="0.573" stop-color="#660000"/><stop offset="0.590" stop-color="#6e0000"/><stop offset="0.606" stop-color="#770000"/><stop offset="0.635" stop-color="#7d0000"/><stop offset="0.652" stop-color="#880000"/><stop offset="0.680" stop-color="#960000"/><stop offset="0.705" stop-color="#990000"/><stop offset="0.726" stop-color="#a00000"/><stop offset="0.746" stop-color="#ab0000"/><stop offset="0.784" stop-color="#aa0000"/><stop offset="0.804" stop-color="#bb0000"/><stop offset="0.812" stop-color="#bc0000"/><stop offset="0.833" stop-color="#b00000"/><stop offset="0.849" stop-color="#b00000"/><stop offset="0.858" stop-color="#b40000"/><stop offset="0.862" stop-color="#bc0000"/><stop offset="0.870" stop-color="#d50000"/><stop offset="0.874" stop-color="#dd0000"/><stop offset="0.891" stop-color="#e90000"/><stop offset="0.899" stop-color="#e90000"/><stop offset="0.920" stop-color="#db0000"/><stop offset="0.928" stop-color="#c80000"/><stop offset="0.932" stop-color="#ba0000"/><stop offset="0.940" stop-color="#930000"/><stop offset="0.961" stop-color="#940000"/><stop offset="0.969" stop-color="#a80000"/><stop offset="0.977" stop-color="#a20000"/><stop offset="0.981" stop-color="#8f0000"/><stop offset="0.986" stop-color="#440000"/><stop offset="0.990" stop-color="#2c0000"/><stop offset="0.994" stop-color="#210000"/><stop offset="0.998" stop-color="#1c0000"/></linearGradient><linearGradient id="g63" x1="0" y1="0" x2="0" y2="1"><stop offset="0.000" stop-color="#000000"/><stop offset="0.103" stop-color="#020000"/><stop offset="0.280" stop-color="#0a0000"/><stop offset="0.338" stop-color="#0c0000"/><stop offset="0.346" stop-color="#130000"/><stop offset="0.470" stop-color="#220000"/><stop offset="0.520" stop-color="#3f0000"/><stop offset="0.540" stop-color="#4c0000"/><stop offset="0.561" stop-color="#540000"/><stop offset="0.573" stop-color="#5b0000"/><stop offset="0.631" stop-color="#650000"/><stop offset="0.647" stop-color="#710000"/><stop offset="0.680" stop-color="#7f0000"/><stop offset="0.701" stop-color="#7d0000"/><stop offset="0.746" stop-color="#900000"/><stop offset="0.767" stop-color="#940000"/><stop offset="0.796" stop-color="#aa0000"/><stop offset="0.808" stop-color="#b20000"/><stop offset="0.816" stop-color="#b20000"/><stop offset="0.837" stop-color="#ae0000"/><stop offset="0.854" stop-color="#b20000"/><stop offset="0.858" stop-color="#b50000"/><stop offset="0.862" stop-color="#bc0000"/><stop offset="0.870" stop-color="#d60000"/><stop offset="0.874" stop-color="#df0000"/><stop offset="0.891" stop-color="#ef0000"/><stop offset="0.899" stop-color="#f00000"/><stop offset="0.920" stop-color="#e10000"/><stop offset="0.928" stop-color="#cc0000"/><stop offset="0.932" stop-color="#bc0000"/><stop offset="0.940" stop-color="#8e0000"/><stop offset="0.961" stop-color="#910000"/><stop offset="0.965" stop-color="#9b0000"/><stop offset="0.969" stop-color="#aa0000"/><stop offset="0.977" stop-color="#a30000"/><stop offset="0.981" stop-color="#8f0000"/><stop offset="0.986" stop-color="#430000"/><stop offset="0.990" stop-color="#2c0000"/><stop offset="0.994" stop-color="#210000"/><stop offset="0.998" stop-color="#1c0000"/></linearGradient><linearGradient id="g64" x1="0" y1="0" x2="0" y2="1"><stop offset="0.000" stop-color="#000000"/><stop offset="0.334" stop-color="#0a0000"/><stop offset="0.524" stop-color="#1e0000"/><stop offset="0.548" stop-color="#200000"/><stop offset="0.590" stop-color="#450000"/><stop offset="0.606" stop-color="#4d0000"/><stop offset="0.627" stop-color="#520000"/><stop offset="0.652" stop-color="#660000"/><stop offset="0.680" stop-color="#730000"/><stop offset="0.701" stop-color="#730000"/><stop offset="0.738" stop-color="#840000"/><stop offset="0.763" stop-color="#8c0000"/><stop offset="0.784" stop-color="#a30000"/><stop offset="0.812" stop-color="#b00000"/><stop offset="0.833" stop-color="#af0000"/><stop offset="0.849" stop-color="#ae0000"/><stop offset="0.858" stop-color="#b10000"/><stop offset="0.862" stop-color="#b80000"/><stop offset="0.870" stop-color="#d00000"/><stop offset="0.878" stop-color="#db0000"/><stop offset="0.895" stop-color="#ec0000"/><stop offset="0.903" stop-color="#e90000"/><stop offset="0.920" stop-color="#e00000"/><stop offset="0.928" stop-color="#cf0000"/><stop offset="0.932" stop-color="#be0000"/><stop offset="0.940" stop-color="#8b0000"/><stop offset="0.957" stop-color="#900000"/><stop offset="0.961" stop-color="#8e0000"/><stop offset="0.965" stop-color="#9e0000"/><stop offset="0.969" stop-color="#b40000"/><stop offset="0.977" stop-color="#ab0000"/><stop offset="0.981" stop-color="#950000"/><stop offset="0.986" stop-color="#440000"/><stop offset="0.990" stop-color="#2c0000"/><stop offset="0.994" stop-color="#210000"/><stop offset="0.998" stop-color="#1c0000"/></linearGradient><linearGradient id="g65" x1="0" y1="0" x2="0" y2="1"><stop offset="0.000" stop-color="#000000"/><stop offset="0.177" stop-color="#010000"/><stop offset="0.355" stop-color="#0a0000"/><stop offset="0.433" stop-color="#0e0000"/><stop offset="0.441" stop-color="#1e0000"/><stop offset="0.449" stop-color="#250000"/><stop offset="0.503" stop-color="#460000"/><stop offset="0.520" stop-color="#500000"/><stop offset="0.544" stop-color="#590000"/><stop offset="0.569" stop-color="#670000"/><stop offset="0.586" stop-color="#730000"/><stop offset="0.602" stop-color="#760000"/><stop offset="0.619" stop-color="#780000"/><stop offset="0.647" stop-color="#8a0000"/><stop offset="0.693" stop-color="#990000"/><stop offset="0.730" stop-color="#a00000"/><stop offset="0.755" stop-color="#ac0000"/><stop offset="0.767" stop-color="#ae0000"/><stop offset="0.788" stop-color="#bc0000"/><stop offset="0.841" stop-color="#b40000"/><stop offset="0.858" stop-color="#af0000"/><stop offset="0.862" stop-color="#b50000"/><stop offset="0.870" stop-color="#ce0000"/><stop offset="0.874" stop-color="#d60000"/><stop offset="0.895" stop-color="#ec0000"/><stop offset="0.911" stop-color="#eb0000"/><stop offset="0.920" stop-color="#e90000"/><stop offset="0.928" stop-color="#d70000"/><stop offset="0.932" stop-color="#c60000"/><stop offset="0.940" stop-color="#9a0000"/><stop offset="0.957" stop-color="#9f0000"/><stop offset="0.961" stop-color="#9e0000"/><stop offset="0.965" stop-color="#ab0000"/><stop offset="0.969" stop-color="#bd0000"/><stop offset="0.977" stop-color="#b80000"/><stop offset="0.981" stop-color="#a20000"/><stop offset="0.986" stop-color="#480000"/><stop offset="0.990" stop-color="#2c0000"/><stop offset="0.994" stop-color="#210000"/><stop offset="0.998" stop-color="#1c0000"/></linearGradient><linearGradient id="g66" x1="0" y1="0" x2="0" y2="1"><stop offset="0.000" stop-color="#000000"/><stop offset="0.165" stop-color="#010000"/><stop offset="0.342" stop-color="#0a0000"/><stop offset="0.421" stop-color="#0d0000"/><stop offset="0.441" stop-color="#210000"/><stop offset="0.499" stop-color="#440000"/><stop offset="0.515" stop-color="#500000"/><stop offset="0.557" stop-color="#5f0000"/><stop offset="0.586" stop-color="#730000"/><stop offset="0.602" stop-color="#740000"/><stop offset="0.619" stop-color="#750000"/><stop offset="0.643" stop-color="#850000"/><stop offset="0.689" stop-color="#960000"/><stop offset="0.705" stop-color="#9b0000"/><stop offset="0.726" stop-color="#9c0000"/><stop offset="0.751" stop-color="#ae0000"/><stop offset="0.763" stop-color="#b10000"/><stop offset="0.775" stop-color="#b10000"/><stop offset="0.792" stop-color="#b80000"/><stop offset="0.821" stop-color="#b00000"/><stop offset="0.845" stop-color="#b60000"/><stop offset="0.858" stop-color="#b40000"/><stop offset="0.862" stop-color="#b90000"/><stop offset="0.870" stop-color="#cd0000"/><stop offset="0.874" stop-color="#d40000"/><stop offset="0.903" stop-color="#e90000"/><stop offset="0.915" stop-color="#e90000"/><stop offset="0.920" stop-color="#e60000"/><stop offset="0.928" stop-color="#d00000"/><stop offset="0.932" stop-color="#c00000"/><stop offset="0.940" stop-color="#990000"/><stop offset="0.961" stop-color="#9c0000"/><stop offset="0.965" stop-color="#aa0000"/><stop offset="0.969" stop-color="#bd0000"/><stop offset="0.977" stop-color="#bf0000"/><stop offset="0.981" stop-color="#ab0000"/><stop offset="0.986" stop-color="#4a0000"/><stop offset="0.990" stop-color="#2c0000"/><stop offset="0.994" stop-color="#210000"/><stop offset="0.998" stop-color="#1c0000"/></linearGradient><linearGradient id="g67" x1="0" y1="0" x2="0" y2="1"><stop offset="0.000" stop-color="#000000"/><stop offset="0.148" stop-color="#010000"/><stop offset="0.355" stop-color="#0b0000"/><stop offset="0.408" stop-color="#0e0000"/><stop offset="0.511" stop-color="#4f0000"/><stop offset="0.544" stop-color="#5a0000"/><stop offset="0.590" stop-color="#710000"/><stop offset="0.614" stop-color="#6f0000"/><stop offset="0.631" stop-color="#780000"/><stop offset="0.656" stop-color="#870000"/><stop offset="0.693" stop-color="#920000"/><stop offset="0.713" stop-color="#9a0000"/><stop offset="0.730" stop-color="#9c0000"/><stop offset="0.751" stop-color="#aa0000"/><stop offset="0.767" stop-color="#ab0000"/><stop offset="0.775" stop-color="#aa0000"/><stop offset="0.792" stop-color="#b10000"/><stop offset="0.804" stop-color="#ae0000"/><stop offset="0.821" stop-color="#a80000"/><stop offset="0.829" stop-color="#a90000"/><stop offset="0.854" stop-color="#b80000"/><stop offset="0.858" stop-color="#b80000"/><stop offset="0.862" stop-color="#bc0000"/><stop offset="0.870" stop-color="#cd0000"/><stop offset="0.878" stop-color="#d60000"/><stop offset="0.891" stop-color="#db0000"/><stop offset="0.903" stop-color="#e30000"/><stop offset="0.911" stop-color="#e40000"/><stop offset="0.920" stop-color="#de0000"/><stop offset="0.928" stop-color="#c90000"/><stop offset="0.936" stop-color="#ac0000"/><stop offset="0.940" stop-color="#9c0000"/><stop offset="0.957" stop-color="#990000"/><stop offset="0.961" stop-color="#9b0000"/><stop offset="0.969" stop-color="#bc0000"/><stop offset="0.977" stop-color="#bd0000"/><stop offset="0.981" stop-color="#a80000"/><stop offset="0.986" stop-color="#4a0000"/><stop offset="0.990" stop-color="#2c0000"/><stop offset="0.994" stop-color="#210000"/><stop offset="0.998" stop-color="#1c0000"/></linearGradient><linearGradient id="g68" x1="0" y1="0" x2="0" y2="1"><stop offset="0.000" stop-color="#000000"/><stop offset="0.169" stop-color="#010000"/><stop offset="0.363" stop-color="#090000"/><stop offset="0.421" stop-color="#0b0000"/><stop offset="0.487" stop-color="#230000"/><stop offset="0.544" stop-color="#490000"/><stop offset="0.573" stop-color="#5e0000"/><stop offset="0.602" stop-color="#6d0000"/><stop offset="0.627" stop-color="#740000"/><stop offset="0.656" stop-color="#860000"/><stop offset="0.689" stop-color="#8f0000"/><stop offset="0.713" stop-color="#9e0000"/><stop offset="0.734" stop-color="#a20000"/><stop offset="0.755" stop-color="#ac0000"/><stop offset="0.775" stop-color="#aa0000"/><stop offset="0.796" stop-color="#b40000"/><stop offset="0.816" stop-color="#ab0000"/><stop offset="0.829" stop-color="#a70000"/><stop offset="0.845" stop-color="#b10000"/><stop offset="0.862" stop-color="#bb0000"/><stop offset="0.874" stop-color="#cb0000"/><stop offset="0.907" stop-color="#df0000"/><stop offset="0.915" stop-color="#dd0000"/><stop offset="0.920" stop-color="#da0000"/><stop offset="0.932" stop-color="#bc0000"/><stop offset="0.940" stop-color="#a10000"/><stop offset="0.953" stop-color="#9d0000"/><stop offset="0.961" stop-color="#9f0000"/><stop offset="0.965" stop-color="#ad0000"/><stop offset="0.969" stop-color="#bf0000"/><stop offset="0.977" stop-color="#bc0000"/><stop offset="0.981" stop-color="#a50000"/><stop offset="0.986" stop-color="#490000"/><stop offset="0.990" stop-color="#2c0000"/><stop offset="0.994" stop-color="#210000"/><stop offset="0.998" stop-color="#1c0000"/></linearGradient><linearGradient id="g69" x1="0" y1="0" x2="0" y2="1"><stop offset="0.000" stop-color="#000000"/><stop offset="0.115" stop-color="#010000"/><stop offset="0.293" stop-color="#0b0000"/><stop offset="0.375" stop-color="#0f0000"/><stop offset="0.499" stop-color="#4d0000"/><stop offset="0.544" stop-color="#5a0000"/><stop offset="0.565" stop-color="#620000"/><stop offset="0.586" stop-color="#650000"/><stop offset="0.619" stop-color="#710000"/><stop offset="0.647" stop-color="#7a0000"/><stop offset="0.668" stop-color="#830000"/><stop offset="0.689" stop-color="#890000"/><stop offset="0.713" stop-color="#960000"/><stop offset="0.738" stop-color="#960000"/><stop offset="0.763" stop-color="#a20000"/><stop offset="0.784" stop-color="#ab0000"/><stop offset="0.796" stop-color="#b20000"/><stop offset="0.808" stop-color="#b20000"/><stop offset="0.829" stop-color="#aa0000"/><stop offset="0.849" stop-color="#b30000"/><stop offset="0.858" stop-color="#b60000"/><stop offset="0.866" stop-color="#c50000"/><stop offset="0.874" stop-color="#d40000"/><stop offset="0.887" stop-color="#df0000"/><stop offset="0.899" stop-color="#ee0000"/><stop offset="0.920" stop-color="#f00000"/><stop offset="0.928" stop-color="#da0000"/><stop offset="0.932" stop-color="#c80000"/><stop offset="0.940" stop-color="#990000"/><stop offset="0.957" stop-color="#960000"/><stop offset="0.961" stop-color="#960000"/><stop offset="0.965" stop-color="#a70000"/><stop offset="0.969" stop-color="#bf0000"/><stop offset="0.977" stop-color="#bb0000"/><stop offset="0.981" stop-color="#a60000"/><stop offset="0.986" stop-color="#490000"/><stop offset="0.990" stop-color="#2c0000"/><stop offset="0.994" stop-color="#210000"/><stop offset="0.998" stop-color="#1c0000"/></linearGradient><linearGradient id="g70" x1="0" y1="0" x2="0" y2="1"><stop offset="0.000" stop-color="#000000"/><stop offset="0.095" stop-color="#020000"/><stop offset="0.247" stop-color="#0b0000"/><stop offset="0.346" stop-color="#110000"/><stop offset="0.404" stop-color="#230000"/><stop offset="0.495" stop-color="#4a0000"/><stop offset="0.532" stop-color="#530000"/><stop offset="0.565" stop-color="#5c0000"/><stop offset="0.586" stop-color="#5d0000"/><stop offset="0.619" stop-color="#6e0000"/><stop offset="0.643" stop-color="#6f0000"/><stop offset="0.676" stop-color="#7f0000"/><stop offset="0.705" stop-color="#8c0000"/><stop offset="0.722" stop-color="#8f0000"/><stop offset="0.742" stop-color="#910000"/><stop offset="0.759" stop-color="#980000"/><stop offset="0.779" stop-color="#9d0000"/><stop offset="0.808" stop-color="#ae0000"/><stop offset="0.833" stop-color="#ac0000"/><stop offset="0.854" stop-color="#b30000"/><stop offset="0.862" stop-color="#b60000"/><stop offset="0.870" stop-color="#c30000"/><stop offset="0.878" stop-color="#ca0000"/><stop offset="0.895" stop-color="#e60000"/><stop offset="0.903" stop-color="#eb0000"/><stop offset="0.911" stop-color="#ed0000"/><stop offset="0.920" stop-color="#e90000"/><stop offset="0.928" stop-color="#d20000"/><stop offset="0.932" stop-color="#c30000"/><stop offset="0.940" stop-color="#9e0000"/><stop offset="0.961" stop-color="#9d0000"/><stop offset="0.965" stop-color="#aa0000"/><stop offset="0.969" stop-color="#bc0000"/><stop offset="0.977" stop-color="#bc0000"/><stop offset="0.981" stop-color="#a80000"/><stop offset="0.986" stop-color="#4a0000"/><stop offset="0.990" stop-color="#2c0000"/><stop offset="0.994" stop-color="#210000"/><stop offset="0.998" stop-color="#1c0000"/></linearGradient><linearGradient id="g71" x1="0" y1="0" x2="0" y2="1"><stop offset="0.000" stop-color="#000000"/><stop offset="0.157" stop-color="#010000"/><stop offset="0.342" stop-color="#090000"/><stop offset="0.416" stop-color="#0d0000"/><stop offset="0.503" stop-color="#230000"/><stop offset="0.557" stop-color="#3e0000"/><stop offset="0.586" stop-color="#480000"/><stop offset="0.614" stop-color="#5f0000"/><stop offset="0.647" stop-color="#6c0000"/><stop offset="0.676" stop-color="#810000"/><stop offset="0.697" stop-color="#880000"/><stop offset="0.718" stop-color="#940000"/><stop offset="0.746" stop-color="#9a0000"/><stop offset="0.775" stop-color="#ae0000"/><stop offset="0.784" stop-color="#b10000"/><stop offset="0.821" stop-color="#ac0000"/><stop offset="0.833" stop-color="#ad0000"/><stop offset="0.849" stop-color="#b50000"/><stop offset="0.862" stop-color="#b50000"/><stop offset="0.878" stop-color="#c40000"/><stop offset="0.895" stop-color="#e00000"/><stop offset="0.899" stop-color="#e30000"/><stop offset="0.920" stop-color="#df0000"/><stop offset="0.928" stop-color="#cc0000"/><stop offset="0.936" stop-color="#ad0000"/><stop offset="0.940" stop-color="#9d0000"/><stop offset="0.961" stop-color="#9c0000"/><stop offset="0.965" stop-color="#aa0000"/><stop offset="0.969" stop-color="#bd0000"/><stop offset="0.977" stop-color="#c00000"/><stop offset="0.981" stop-color="#ae0000"/><stop offset="0.986" stop-color="#4c0000"/><stop offset="0.990" stop-color="#2c0000"/><stop offset="0.994" stop-color="#210000"/><stop offset="0.998" stop-color="#1c0000"/></linearGradient><linearGradient id="g72" x1="0" y1="0" x2="0" y2="1"><stop offset="0.000" stop-color="#000000"/><stop offset="0.140" stop-color="#020000"/><stop offset="0.371" stop-color="#0b0000"/><stop offset="0.425" stop-color="#150000"/><stop offset="0.532" stop-color="#230000"/><stop offset="0.573" stop-color="#320000"/><stop offset="0.590" stop-color="#380000"/><stop offset="0.619" stop-color="#4b0000"/><stop offset="0.652" stop-color="#5c0000"/><stop offset="0.680" stop-color="#6e0000"/><stop offset="0.697" stop-color="#740000"/><stop offset="0.713" stop-color="#7e0000"/><stop offset="0.738" stop-color="#870000"/><stop offset="0.759" stop-color="#990000"/><stop offset="0.775" stop-color="#aa0000"/><stop offset="0.784" stop-color="#ac0000"/><stop offset="0.800" stop-color="#ac0000"/><stop offset="0.833" stop-color="#ac0000"/><stop offset="0.849" stop-color="#b70000"/><stop offset="0.858" stop-color="#b70000"/><stop offset="0.862" stop-color="#bb0000"/><stop offset="0.870" stop-color="#cb0000"/><stop offset="0.887" stop-color="#df0000"/><stop offset="0.895" stop-color="#e90000"/><stop offset="0.903" stop-color="#e80000"/><stop offset="0.920" stop-color="#e70000"/><stop offset="0.928" stop-color="#d60000"/><stop offset="0.936" stop-color="#b90000"/><stop offset="0.940" stop-color="#aa0000"/><stop offset="0.948" stop-color="#a80000"/><stop offset="0.961" stop-color="#ae0000"/><stop offset="0.965" stop-color="#ba0000"/><stop offset="0.969" stop-color="#ca0000"/><stop offset="0.977" stop-color="#cc0000"/><stop offset="0.981" stop-color="#b90000"/><stop offset="0.986" stop-color="#4f0000"/><stop offset="0.990" stop-color="#2c0000"/><stop offset="0.994" stop-color="#210000"/><stop offset="0.998" stop-color="#1c0000"/></linearGradient><linearGradient id="g73" x1="0" y1="0" x2="0" y2="1"><stop offset="0.000" stop-color="#000000"/><stop offset="0.087" stop-color="#020000"/><stop offset="0.247" stop-color="#0c0000"/><stop offset="0.338" stop-color="#110000"/><stop offset="0.429" stop-color="#250000"/><stop offset="0.524" stop-color="#480000"/><stop offset="0.565" stop-color="#510000"/><stop offset="0.590" stop-color="#530000"/><stop offset="0.631" stop-color="#600000"/><stop offset="0.652" stop-color="#6b0000"/><stop offset="0.693" stop-color="#770000"/><stop offset="0.709" stop-color="#7f0000"/><stop offset="0.730" stop-color="#7d0000"/><stop offset="0.746" stop-color="#8a0000"/><stop offset="0.771" stop-color="#a60000"/><stop offset="0.779" stop-color="#a80000"/><stop offset="0.796" stop-color="#a00000"/><stop offset="0.808" stop-color="#a30000"/><stop offset="0.825" stop-color="#ad0000"/><stop offset="0.849" stop-color="#b40000"/><stop offset="0.858" stop-color="#b60000"/><stop offset="0.862" stop-color="#bb0000"/><stop offset="0.870" stop-color="#ce0000"/><stop offset="0.878" stop-color="#da0000"/><stop offset="0.891" stop-color="#e40000"/><stop offset="0.899" stop-color="#e60000"/><stop offset="0.911" stop-color="#e50000"/><stop offset="0.920" stop-color="#e70000"/><stop offset="0.928" stop-color="#d50000"/><stop offset="0.940" stop-color="#ae0000"/><stop offset="0.948" stop-color="#b00000"/><stop offset="0.961" stop-color="#b70000"/><stop offset="0.965" stop-color="#c50000"/><stop offset="0.969" stop-color="#d80000"/><stop offset="0.977" stop-color="#d90000"/><stop offset="0.981" stop-color="#c40000"/><stop offset="0.986" stop-color="#510000"/><stop offset="0.990" stop-color="#2c0000"/><stop offset="0.994" stop-color="#210000"/><stop offset="0.998" stop-color="#1c0000"/></linearGradient><linearGradient id="g74" x1="0" y1="0" x2="0" y2="1"><stop offset="0.000" stop-color="#000000"/><stop offset="0.186" stop-color="#010000"/><stop offset="0.404" stop-color="#0a0000"/><stop offset="0.445" stop-color="#0d0000"/><stop offset="0.520" stop-color="#230000"/><stop offset="0.594" stop-color="#3e0000"/><stop offset="0.606" stop-color="#440000"/><stop offset="0.623" stop-color="#460000"/><stop offset="0.656" stop-color="#660000"/><stop offset="0.693" stop-color="#810000"/><stop offset="0.709" stop-color="#8b0000"/><stop offset="0.730" stop-color="#890000"/><stop offset="0.742" stop-color="#920000"/><stop offset="0.771" stop-color="#b60000"/><stop offset="0.779" stop-color="#b90000"/><stop offset="0.788" stop-color="#b40000"/><stop offset="0.800" stop-color="#ae0000"/><stop offset="0.825" stop-color="#b50000"/><stop offset="0.854" stop-color="#b50000"/><stop offset="0.858" stop-color="#b40000"/><stop offset="0.866" stop-color="#bd0000"/><stop offset="0.874" stop-color="#c90000"/><stop offset="0.895" stop-color="#d40000"/><stop offset="0.920" stop-color="#d80000"/><stop offset="0.928" stop-color="#c60000"/><stop offset="0.940" stop-color="#9d0000"/><stop offset="0.957" stop-color="#a20000"/><stop offset="0.961" stop-color="#a00000"/><stop offset="0.965" stop-color="#b60000"/><stop offset="0.969" stop-color="#d60000"/><stop offset="0.977" stop-color="#d50000"/><stop offset="0.981" stop-color="#c00000"/><stop offset="0.986" stop-color="#4f0000"/><stop offset="0.990" stop-color="#2c0000"/><stop offset="0.994" stop-color="#210000"/><stop offset="0.998" stop-color="#1c0000"/></linearGradient><linearGradient id="g75" x1="0" y1="0" x2="0" y2="1"><stop offset="0.000" stop-color="#000000"/><stop offset="0.157" stop-color="#010000"/><stop offset="0.367" stop-color="#0a0000"/><stop offset="0.416" stop-color="#0d0000"/><stop offset="0.515" stop-color="#210000"/><stop offset="0.540" stop-color="#280000"/><stop offset="0.557" stop-color="#2c0000"/><stop offset="0.602" stop-color="#420000"/><stop offset="0.623" stop-color="#430000"/><stop offset="0.668" stop-color="#650000"/><stop offset="0.701" stop-color="#780000"/><stop offset="0.718" stop-color="#7c0000"/><stop offset="0.734" stop-color="#800000"/><stop offset="0.759" stop-color="#990000"/><stop offset="0.771" stop-color="#aa0000"/><stop offset="0.779" stop-color="#ae0000"/><stop offset="0.800" stop-color="#ae0000"/><stop offset="0.829" stop-color="#bc0000"/><stop offset="0.845" stop-color="#bf0000"/><stop offset="0.862" stop-color="#b80000"/><stop offset="0.887" stop-color="#bd0000"/><stop offset="0.907" stop-color="#ca0000"/><stop offset="0.920" stop-color="#c80000"/><stop offset="0.936" stop-color="#a30000"/><stop offset="0.940" stop-color="#990000"/><stop offset="0.953" stop-color="#9c0000"/><stop offset="0.961" stop-color="#960000"/><stop offset="0.965" stop-color="#ab0000"/><stop offset="0.969" stop-color="#cc0000"/><stop offset="0.977" stop-color="#ca0000"/><stop offset="0.981" stop-color="#b40000"/><stop offset="0.986" stop-color="#4c0000"/><stop offset="0.990" stop-color="#2c0000"/><stop offset="0.994" stop-color="#210000"/><stop offset="0.998" stop-color="#1c0000"/></linearGradient><linearGradient id="g76" x1="0" y1="0" x2="0" y2="1"><stop offset="0.000" stop-color="#000000"/><stop offset="0.190" stop-color="#010000"/><stop offset="0.416" stop-color="#080000"/><stop offset="0.437" stop-color="#0b0000"/><stop offset="0.462" stop-color="#140000"/><stop offset="0.511" stop-color="#190000"/><stop offset="0.536" stop-color="#1c0000"/><stop offset="0.557" stop-color="#1b0000"/><stop offset="0.598" stop-color="#2b0000"/><stop offset="0.619" stop-color="#300000"/><stop offset="0.652" stop-color="#420000"/><stop offset="0.672" stop-color="#510000"/><stop offset="0.685" stop-color="#580000"/><stop offset="0.726" stop-color="#760000"/><stop offset="0.742" stop-color="#8e0000"/><stop offset="0.771" stop-color="#ac0000"/><stop offset="0.784" stop-color="#b20000"/><stop offset="0.808" stop-color="#af0000"/><stop offset="0.833" stop-color="#be0000"/><stop offset="0.845" stop-color="#be0000"/><stop offset="0.858" stop-color="#b90000"/><stop offset="0.874" stop-color="#c10000"/><stop offset="0.891" stop-color="#c40000"/><stop offset="0.903" stop-color="#ce0000"/><stop offset="0.915" stop-color="#d10000"/><stop offset="0.920" stop-color="#d00000"/><stop offset="0.932" stop-color="#b50000"/><stop offset="0.940" stop-color="#9d0000"/><stop offset="0.957" stop-color="#9c0000"/><stop offset="0.961" stop-color="#9a0000"/><stop offset="0.965" stop-color="#ac0000"/><stop offset="0.969" stop-color="#c70000"/><stop offset="0.977" stop-color="#c50000"/><stop offset="0.981" stop-color="#b00000"/><stop offset="0.986" stop-color="#4b0000"/><stop offset="0.990" stop-color="#2c0000"/><stop offset="0.994" stop-color="#210000"/><stop offset="0.998" stop-color="#1c0000"/></linearGradient><linearGradient id="g77" x1="0" y1="0" x2="0" y2="1"><stop offset="0.000" stop-color="#000000"/><stop offset="0.144" stop-color="#020000"/><stop offset="0.359" stop-color="#090000"/><stop offset="0.532" stop-color="#1c0000"/><stop offset="0.561" stop-color="#1c0000"/><stop offset="0.590" stop-color="#2b0000"/><stop offset="0.614" stop-color="#300000"/><stop offset="0.639" stop-color="#390000"/><stop offset="0.647" stop-color="#3c0000"/><stop offset="0.668" stop-color="#520000"/><stop offset="0.685" stop-color="#560000"/><stop offset="0.705" stop-color="#550000"/><stop offset="0.718" stop-color="#5b0000"/><stop offset="0.726" stop-color="#640000"/><stop offset="0.738" stop-color="#770000"/><stop offset="0.751" stop-color="#810000"/><stop offset="0.767" stop-color="#8c0000"/><stop offset="0.788" stop-color="#a00000"/><stop offset="0.796" stop-color="#a30000"/><stop offset="0.808" stop-color="#a20000"/><stop offset="0.821" stop-color="#ac0000"/><stop offset="0.829" stop-color="#b30000"/><stop offset="0.841" stop-color="#b60000"/><stop offset="0.858" stop-color="#b50000"/><stop offset="0.862" stop-color="#ba0000"/><stop offset="0.870" stop-color="#cb0000"/><stop offset="0.878" stop-color="#ce0000"/><stop offset="0.891" stop-color="#ce0000"/><stop offset="0.907" stop-color="#d80000"/><stop offset="0.920" stop-color="#d80000"/><stop offset="0.928" stop-color="#c80000"/><stop offset="0.932" stop-color="#ba0000"/><stop offset="0.940" stop-color="#940000"/><stop offset="0.961" stop-color="#950000"/><stop offset="0.965" stop-color="#a90000"/><stop offset="0.969" stop-color="#c70000"/><stop offset="0.977" stop-color="#c80000"/><stop offset="0.981" stop-color="#b30000"/><stop offset="0.986" stop-color="#4c0000"/><stop offset="0.990" stop-color="#2c0000"/><stop offset="0.994" stop-color="#210000"/><stop offset="0.998" stop-color="#1c0000"/></linearGradient><linearGradient id="g78" x1="0" y1="0" x2="0" y2="1"><stop offset="0.000" stop-color="#000000"/><stop offset="0.124" stop-color="#010000"/><stop offset="0.276" stop-color="#0c0000"/><stop offset="0.392" stop-color="#130000"/><stop offset="0.491" stop-color="#310000"/><stop offset="0.528" stop-color="#3a0000"/><stop offset="0.565" stop-color="#3f0000"/><stop offset="0.590" stop-color="#4c0000"/><stop offset="0.619" stop-color="#520000"/><stop offset="0.647" stop-color="#580000"/><stop offset="0.668" stop-color="#6a0000"/><stop offset="0.680" stop-color="#6e0000"/><stop offset="0.701" stop-color="#680000"/><stop offset="0.718" stop-color="#6f0000"/><stop offset="0.742" stop-color="#860000"/><stop offset="0.771" stop-color="#930000"/><stop offset="0.792" stop-color="#a40000"/><stop offset="0.812" stop-color="#ab0000"/><stop offset="0.829" stop-color="#b60000"/><stop offset="0.858" stop-color="#ba0000"/><stop offset="0.862" stop-color="#c10000"/><stop offset="0.870" stop-color="#d90000"/><stop offset="0.874" stop-color="#df0000"/><stop offset="0.891" stop-color="#dd0000"/><stop offset="0.915" stop-color="#e40000"/><stop offset="0.920" stop-color="#e40000"/><stop offset="0.928" stop-color="#d30000"/><stop offset="0.932" stop-color="#c30000"/><stop offset="0.940" stop-color="#950000"/><stop offset="0.961" stop-color="#960000"/><stop offset="0.965" stop-color="#aa0000"/><stop offset="0.969" stop-color="#c70000"/><stop offset="0.977" stop-color="#ca0000"/><stop offset="0.981" stop-color="#b70000"/><stop offset="0.986" stop-color="#4e0000"/><stop offset="0.990" stop-color="#2c0000"/><stop offset="0.994" stop-color="#210000"/><stop offset="0.998" stop-color="#1c0000"/></linearGradient><linearGradient id="g79" x1="0" y1="0" x2="0" y2="1"><stop offset="0.000" stop-color="#000000"/><stop offset="0.140" stop-color="#020000"/><stop offset="0.334" stop-color="#0a0000"/><stop offset="0.392" stop-color="#0e0000"/><stop offset="0.524" stop-color="#1e0000"/><stop offset="0.553" stop-color="#1d0000"/><stop offset="0.569" stop-color="#220000"/><stop offset="0.590" stop-color="#2f0000"/><stop offset="0.610" stop-color="#340000"/><stop offset="0.627" stop-color="#3c0000"/><stop offset="0.647" stop-color="#410000"/><stop offset="0.668" stop-color="#480000"/><stop offset="0.685" stop-color="#560000"/><stop offset="0.705" stop-color="#5b0000"/><stop offset="0.746" stop-color="#700000"/><stop offset="0.788" stop-color="#9a0000"/><stop offset="0.804" stop-color="#aa0000"/><stop offset="0.833" stop-color="#b90000"/><stop offset="0.858" stop-color="#c00000"/><stop offset="0.862" stop-color="#c60000"/><stop offset="0.870" stop-color="#de0000"/><stop offset="0.874" stop-color="#e30000"/><stop offset="0.903" stop-color="#e50000"/><stop offset="0.920" stop-color="#e60000"/><stop offset="0.928" stop-color="#d50000"/><stop offset="0.932" stop-color="#c70000"/><stop offset="0.940" stop-color="#9c0000"/><stop offset="0.961" stop-color="#9e0000"/><stop offset="0.965" stop-color="#ac0000"/><stop offset="0.969" stop-color="#c00000"/><stop offset="0.977" stop-color="#c10000"/><stop offset="0.981" stop-color="#af0000"/><stop offset="0.986" stop-color="#4d0000"/><stop offset="0.990" stop-color="#2c0000"/><stop offset="0.994" stop-color="#210000"/><stop offset="0.998" stop-color="#1c0000"/></linearGradient><linearGradient id="g80" x1="0" y1="0" x2="0" y2="1"><stop offset="0.000" stop-color="#000000"/><stop offset="0.165" stop-color="#020000"/><stop offset="0.400" stop-color="#0a0000"/><stop offset="0.524" stop-color="#170000"/><stop offset="0.548" stop-color="#170000"/><stop offset="0.594" stop-color="#1e0000"/><stop offset="0.606" stop-color="#1b0000"/><stop offset="0.635" stop-color="#2b0000"/><stop offset="0.652" stop-color="#2f0000"/><stop offset="0.668" stop-color="#300000"/><stop offset="0.685" stop-color="#420000"/><stop offset="0.701" stop-color="#470000"/><stop offset="0.709" stop-color="#4b0000"/><stop offset="0.726" stop-color="#590000"/><stop offset="0.751" stop-color="#670000"/><stop offset="0.796" stop-color="#9b0000"/><stop offset="0.812" stop-color="#ae0000"/><stop offset="0.829" stop-color="#bb0000"/><stop offset="0.849" stop-color="#bd0000"/><stop offset="0.862" stop-color="#c30000"/><stop offset="0.870" stop-color="#ce0000"/><stop offset="0.895" stop-color="#da0000"/><stop offset="0.920" stop-color="#d60000"/><stop offset="0.928" stop-color="#c40000"/><stop offset="0.932" stop-color="#b60000"/><stop offset="0.940" stop-color="#910000"/><stop offset="0.961" stop-color="#980000"/><stop offset="0.965" stop-color="#a80000"/><stop offset="0.969" stop-color="#bd0000"/><stop offset="0.977" stop-color="#bb0000"/><stop offset="0.981" stop-color="#a70000"/><stop offset="0.986" stop-color="#4a0000"/><stop offset="0.990" stop-color="#2c0000"/><stop offset="0.994" stop-color="#210000"/><stop offset="0.998" stop-color="#1c0000"/></linearGradient><linearGradient id="g81" x1="0" y1="0" x2="0" y2="1"><stop offset="0.000" stop-color="#000000"/><stop offset="0.181" stop-color="#010000"/><stop offset="0.359" stop-color="#0b0000"/><stop offset="0.445" stop-color="#100000"/><stop offset="0.528" stop-color="#220000"/><stop offset="0.544" stop-color="#260000"/><stop offset="0.569" stop-color="#320000"/><stop offset="0.606" stop-color="#370000"/><stop offset="0.627" stop-color="#440000"/><stop offset="0.664" stop-color="#470000"/><stop offset="0.680" stop-color="#540000"/><stop offset="0.701" stop-color="#650000"/><stop offset="0.726" stop-color="#760000"/><stop offset="0.755" stop-color="#820000"/><stop offset="0.804" stop-color="#a40000"/><stop offset="0.821" stop-color="#bb0000"/><stop offset="0.829" stop-color="#c00000"/><stop offset="0.841" stop-color="#bc0000"/><stop offset="0.849" stop-color="#b90000"/><stop offset="0.858" stop-color="#ba0000"/><stop offset="0.882" stop-color="#cc0000"/><stop offset="0.895" stop-color="#d70000"/><stop offset="0.920" stop-color="#cf0000"/><stop offset="0.940" stop-color="#a00000"/><stop offset="0.948" stop-color="#a30000"/><stop offset="0.961" stop-color="#a90000"/><stop offset="0.969" stop-color="#bf0000"/><stop offset="0.977" stop-color="#bd0000"/><stop offset="0.981" stop-color="#a90000"/><stop offset="0.986" stop-color="#4b0000"/><stop offset="0.990" stop-color="#2c0000"/><stop offset="0.994" stop-color="#210000"/><stop offset="0.998" stop-color="#1c0000"/></linearGradient><linearGradient id="g82" x1="0" y1="0" x2="0" y2="1"><stop offset="0.000" stop-color="#000000"/><stop offset="0.144" stop-color="#010000"/><stop offset="0.351" stop-color="#090000"/><stop offset="0.408" stop-color="#0c0000"/><stop offset="0.524" stop-color="#1a0000"/><stop offset="0.544" stop-color="#190000"/><stop offset="0.569" stop-color="#200000"/><stop offset="0.594" stop-color="#1f0000"/><stop offset="0.614" stop-color="#280000"/><stop offset="0.627" stop-color="#320000"/><stop offset="0.652" stop-color="#370000"/><stop offset="0.680" stop-color="#410000"/><stop offset="0.705" stop-color="#560000"/><stop offset="0.718" stop-color="#620000"/><stop offset="0.738" stop-color="#6c0000"/><stop offset="0.763" stop-color="#720000"/><stop offset="0.784" stop-color="#860000"/><stop offset="0.825" stop-color="#b60000"/><stop offset="0.833" stop-color="#b80000"/><stop offset="0.849" stop-color="#b00000"/><stop offset="0.858" stop-color="#b40000"/><stop offset="0.891" stop-color="#d60000"/><stop offset="0.899" stop-color="#d80000"/><stop offset="0.915" stop-color="#ce0000"/><stop offset="0.920" stop-color="#cd0000"/><stop offset="0.928" stop-color="#bd0000"/><stop offset="0.940" stop-color="#990000"/><stop offset="0.953" stop-color="#990000"/><stop offset="0.961" stop-color="#9c0000"/><stop offset="0.969" stop-color="#b70000"/><stop offset="0.977" stop-color="#b70000"/><stop offset="0.981" stop-color="#a50000"/><stop offset="0.986" stop-color="#4a0000"/><stop offset="0.990" stop-color="#2c0000"/><stop offset="0.994" stop-color="#210000"/><stop offset="0.998" stop-color="#1c0000"/></linearGradient><linearGradient id="g83" x1="0" y1="0" x2="0" y2="1"><stop offset="0.000" stop-color="#000000"/><stop offset="0.186" stop-color="#010000"/><stop offset="0.363" stop-color="#100000"/><stop offset="0.454" stop-color="#150000"/><stop offset="0.524" stop-color="#2f0000"/><stop offset="0.548" stop-color="#350000"/><stop offset="0.573" stop-color="#410000"/><stop offset="0.606" stop-color="#480000"/><stop offset="0.631" stop-color="#5b0000"/><stop offset="0.668" stop-color="#610000"/><stop offset="0.685" stop-color="#650000"/><stop offset="0.713" stop-color="#7b0000"/><stop offset="0.730" stop-color="#820000"/><stop offset="0.746" stop-color="#8b0000"/><stop offset="0.763" stop-color="#8b0000"/><stop offset="0.771" stop-color="#8e0000"/><stop offset="0.796" stop-color="#a90000"/><stop offset="0.816" stop-color="#b00000"/><stop offset="0.833" stop-color="#b80000"/><stop offset="0.849" stop-color="#b10000"/><stop offset="0.858" stop-color="#b20000"/><stop offset="0.866" stop-color="#c10000"/><stop offset="0.874" stop-color="#d10000"/><stop offset="0.891" stop-color="#e00000"/><stop offset="0.899" stop-color="#e00000"/><stop offset="0.911" stop-color="#d80000"/><stop offset="0.920" stop-color="#d70000"/><stop offset="0.928" stop-color="#c70000"/><stop offset="0.936" stop-color="#ac0000"/><stop offset="0.940" stop-color="#9c0000"/><stop offset="0.953" stop-color="#970000"/><stop offset="0.961" stop-color="#970000"/><stop offset="0.969" stop-color="#a50000"/><stop offset="0.977" stop-color="#a40000"/><stop offset="0.981" stop-color="#950000"/><stop offset="0.986" stop-color="#470000"/><stop offset="0.990" stop-color="#2c0000"/><stop offset="0.994" stop-color="#210000"/><stop offset="0.998" stop-color="#1c0000"/></linearGradient><linearGradient id="g84" x1="0" y1="0" x2="0" y2="1"><stop offset="0.000" stop-color="#000000"/><stop offset="0.202" stop-color="#010000"/><stop offset="0.375" stop-color="#090000"/><stop offset="0.470" stop-color="#0e0000"/><stop offset="0.520" stop-color="#170000"/><stop offset="0.557" stop-color="#1d0000"/><stop offset="0.586" stop-color="#260000"/><stop offset="0.602" stop-color="#280000"/><stop offset="0.619" stop-color="#330000"/><stop offset="0.635" stop-color="#3f0000"/><stop offset="0.647" stop-color="#410000"/><stop offset="0.668" stop-color="#3f0000"/><stop offset="0.685" stop-color="#460000"/><stop offset="0.730" stop-color="#6b0000"/><stop offset="0.742" stop-color="#780000"/><stop offset="0.763" stop-color="#7f0000"/><stop offset="0.775" stop-color="#8a0000"/><stop offset="0.792" stop-color="#a40000"/><stop offset="0.800" stop-color="#aa0000"/><stop offset="0.816" stop-color="#a80000"/><stop offset="0.837" stop-color="#b90000"/><stop offset="0.858" stop-color="#b50000"/><stop offset="0.862" stop-color="#b90000"/><stop offset="0.874" stop-color="#d00000"/><stop offset="0.882" stop-color="#d90000"/><stop offset="0.895" stop-color="#dc0000"/><stop offset="0.911" stop-color="#d70000"/><stop offset="0.920" stop-color="#d70000"/><stop offset="0.928" stop-color="#c60000"/><stop offset="0.936" stop-color="#ab0000"/><stop offset="0.940" stop-color="#9b0000"/><stop offset="0.961" stop-color="#960000"/><stop offset="0.969" stop-color="#9f0000"/><stop offset="0.977" stop-color="#9b0000"/><stop offset="0.981" stop-color="#8b0000"/><stop offset="0.986" stop-color="#440000"/><stop offset="0.990" stop-color="#2c0000"/><stop offset="0.994" stop-color="#210000"/><stop offset="0.998" stop-color="#1c0000"/></linearGradient><linearGradient id="g85" x1="0" y1="0" x2="0" y2="1"><stop offset="0.000" stop-color="#000000"/><stop offset="0.289" stop-color="#010000"/><stop offset="0.474" stop-color="#0a0000"/><stop offset="0.544" stop-color="#0b0000"/><stop offset="0.565" stop-color="#220000"/><stop offset="0.606" stop-color="#2e0000"/><stop offset="0.631" stop-color="#3e0000"/><stop offset="0.643" stop-color="#3f0000"/><stop offset="0.660" stop-color="#3b0000"/><stop offset="0.680" stop-color="#430000"/><stop offset="0.697" stop-color="#520000"/><stop offset="0.713" stop-color="#620000"/><stop offset="0.738" stop-color="#870000"/><stop offset="0.751" stop-color="#8e0000"/><stop offset="0.763" stop-color="#930000"/><stop offset="0.796" stop-color="#b00000"/><stop offset="0.804" stop-color="#b30000"/><stop offset="0.821" stop-color="#af0000"/><stop offset="0.837" stop-color="#ba0000"/><stop offset="0.858" stop-color="#b70000"/><stop offset="0.882" stop-color="#cb0000"/><stop offset="0.899" stop-color="#cc0000"/><stop offset="0.907" stop-color="#cd0000"/><stop offset="0.920" stop-color="#d30000"/><stop offset="0.928" stop-color="#c30000"/><stop offset="0.940" stop-color="#990000"/><stop offset="0.961" stop-color="#960000"/><stop offset="0.969" stop-color="#a90000"/><stop offset="0.977" stop-color="#a40000"/><stop offset="0.981" stop-color="#930000"/><stop offset="0.986" stop-color="#460000"/><stop offset="0.990" stop-color="#2c0000"/><stop offset="0.994" stop-color="#210000"/><stop offset="0.998" stop-color="#1c0000"/></linearGradient><linearGradient id="g86" x1="0" y1="0" x2="0" y2="1"><stop offset="0.000" stop-color="#000000"/><stop offset="0.128" stop-color="#010000"/><stop offset="0.342" stop-color="#090000"/><stop offset="0.437" stop-color="#0f0000"/><stop offset="0.553" stop-color="#1b0000"/><stop offset="0.577" stop-color="#1f0000"/><stop offset="0.598" stop-color="#1d0000"/><stop offset="0.610" stop-color="#240000"/><stop offset="0.631" stop-color="#330000"/><stop offset="0.643" stop-color="#330000"/><stop offset="0.660" stop-color="#2f0000"/><stop offset="0.697" stop-color="#400000"/><stop offset="0.705" stop-color="#420000"/><stop offset="0.730" stop-color="#5f0000"/><stop offset="0.746" stop-color="#680000"/><stop offset="0.767" stop-color="#6c0000"/><stop offset="0.775" stop-color="#710000"/><stop offset="0.804" stop-color="#9a0000"/><stop offset="0.816" stop-color="#a20000"/><stop offset="0.829" stop-color="#a50000"/><stop offset="0.849" stop-color="#b20000"/><stop offset="0.858" stop-color="#b50000"/><stop offset="0.878" stop-color="#cc0000"/><stop offset="0.895" stop-color="#d50000"/><stop offset="0.907" stop-color="#d70000"/><stop offset="0.920" stop-color="#de0000"/><stop offset="0.928" stop-color="#cc0000"/><stop offset="0.932" stop-color="#bc0000"/><stop offset="0.940" stop-color="#950000"/><stop offset="0.948" stop-color="#900000"/><stop offset="0.961" stop-color="#930000"/><stop offset="0.965" stop-color="#a10000"/><stop offset="0.969" stop-color="#b30000"/><stop offset="0.977" stop-color="#b20000"/><stop offset="0.981" stop-color="#a10000"/><stop offset="0.986" stop-color="#4a0000"/><stop offset="0.990" stop-color="#2c0000"/><stop offset="0.994" stop-color="#210000"/><stop offset="0.998" stop-color="#1c0000"/></linearGradient><linearGradient id="g87" x1="0" y1="0" x2="0" y2="1"><stop offset="0.000" stop-color="#000000"/><stop offset="0.252" stop-color="#010000"/><stop offset="0.495" stop-color="#080000"/><stop offset="0.511" stop-color="#130000"/><stop offset="0.577" stop-color="#1b0000"/><stop offset="0.598" stop-color="#190000"/><stop offset="0.614" stop-color="#200000"/><stop offset="0.639" stop-color="#2c0000"/><stop offset="0.664" stop-color="#280000"/><stop offset="0.701" stop-color="#390000"/><stop offset="0.718" stop-color="#4e0000"/><stop offset="0.730" stop-color="#540000"/><stop offset="0.738" stop-color="#5f0000"/><stop offset="0.751" stop-color="#750000"/><stop offset="0.759" stop-color="#7e0000"/><stop offset="0.775" stop-color="#890000"/><stop offset="0.796" stop-color="#a80000"/><stop offset="0.808" stop-color="#b30000"/><stop offset="0.833" stop-color="#b20000"/><stop offset="0.845" stop-color="#b90000"/><stop offset="0.862" stop-color="#b60000"/><stop offset="0.882" stop-color="#c90000"/><stop offset="0.915" stop-color="#d50000"/><stop offset="0.920" stop-color="#d50000"/><stop offset="0.928" stop-color="#c20000"/><stop offset="0.940" stop-color="#960000"/><stop offset="0.948" stop-color="#910000"/><stop offset="0.961" stop-color="#930000"/><stop offset="0.965" stop-color="#a00000"/><stop offset="0.969" stop-color="#b10000"/><stop offset="0.977" stop-color="#b00000"/><stop offset="0.981" stop-color="#9f0000"/><stop offset="0.986" stop-color="#490000"/><stop offset="0.990" stop-color="#2c0000"/><stop offset="0.994" stop-color="#210000"/><stop offset="0.998" stop-color="#1c0000"/></linearGradient><linearGradient id="g88" x1="0" y1="0" x2="0" y2="1"><stop offset="0.000" stop-color="#000000"/><stop offset="0.177" stop-color="#010000"/><stop offset="0.334" stop-color="#160000"/><stop offset="0.449" stop-color="#200000"/><stop offset="0.515" stop-color="#4e0000"/><stop offset="0.548" stop-color="#560000"/><stop offset="0.586" stop-color="#580000"/><stop offset="0.619" stop-color="#630000"/><stop offset="0.639" stop-color="#6e0000"/><stop offset="0.656" stop-color="#6b0000"/><stop offset="0.672" stop-color="#6a0000"/><stop offset="0.697" stop-color="#6c0000"/><stop offset="0.713" stop-color="#830000"/><stop offset="0.722" stop-color="#870000"/><stop offset="0.734" stop-color="#850000"/><stop offset="0.755" stop-color="#940000"/><stop offset="0.779" stop-color="#8e0000"/><stop offset="0.792" stop-color="#940000"/><stop offset="0.812" stop-color="#a80000"/><stop offset="0.845" stop-color="#b90000"/><stop offset="0.858" stop-color="#b50000"/><stop offset="0.862" stop-color="#b80000"/><stop offset="0.874" stop-color="#d00000"/><stop offset="0.915" stop-color="#e10000"/><stop offset="0.920" stop-color="#df0000"/><stop offset="0.928" stop-color="#cb0000"/><stop offset="0.932" stop-color="#bb0000"/><stop offset="0.940" stop-color="#910000"/><stop offset="0.961" stop-color="#8e0000"/><stop offset="0.965" stop-color="#9b0000"/><stop offset="0.969" stop-color="#ae0000"/><stop offset="0.977" stop-color="#ac0000"/><stop offset="0.981" stop-color="#9b0000"/><stop offset="0.986" stop-color="#480000"/><stop offset="0.990" stop-color="#2c0000"/><stop offset="0.994" stop-color="#210000"/><stop offset="0.998" stop-color="#1c0000"/></linearGradient><linearGradient id="g89" x1="0" y1="0" x2="0" y2="1"><stop offset="0.000" stop-color="#000000"/><stop offset="0.210" stop-color="#010000"/><stop offset="0.416" stop-color="#090000"/><stop offset="0.458" stop-color="#0a0000"/><stop offset="0.478" stop-color="#140000"/><stop offset="0.520" stop-color="#1a0000"/><stop offset="0.548" stop-color="#1f0000"/><stop offset="0.577" stop-color="#190000"/><stop offset="0.598" stop-color="#230000"/><stop offset="0.623" stop-color="#280000"/><stop offset="0.647" stop-color="#370000"/><stop offset="0.680" stop-color="#3d0000"/><stop offset="0.693" stop-color="#3e0000"/><stop offset="0.701" stop-color="#450000"/><stop offset="0.713" stop-color="#550000"/><stop offset="0.722" stop-color="#590000"/><stop offset="0.730" stop-color="#5a0000"/><stop offset="0.738" stop-color="#610000"/><stop offset="0.751" stop-color="#710000"/><stop offset="0.784" stop-color="#810000"/><stop offset="0.796" stop-color="#8d0000"/><stop offset="0.812" stop-color="#a20000"/><stop offset="0.837" stop-color="#b90000"/><stop offset="0.849" stop-color="#bb0000"/><stop offset="0.858" stop-color="#b70000"/><stop offset="0.862" stop-color="#bb0000"/><stop offset="0.870" stop-color="#ce0000"/><stop offset="0.878" stop-color="#d70000"/><stop offset="0.903" stop-color="#e40000"/><stop offset="0.920" stop-color="#e40000"/><stop offset="0.928" stop-color="#d10000"/><stop offset="0.932" stop-color="#c30000"/><stop offset="0.940" stop-color="#9c0000"/><stop offset="0.961" stop-color="#970000"/><stop offset="0.965" stop-color="#a30000"/><stop offset="0.969" stop-color="#b50000"/><stop offset="0.977" stop-color="#b40000"/><stop offset="0.981" stop-color="#a20000"/><stop offset="0.986" stop-color="#490000"/><stop offset="0.990" stop-color="#2c0000"/><stop offset="0.994" stop-color="#210000"/><stop offset="0.998" stop-color="#1c0000"/></linearGradient><linearGradient id="g90" x1="0" y1="0" x2="0" y2="1"><stop offset="0.000" stop-color="#000000"/><stop offset="0.128" stop-color="#010000"/><stop offset="0.280" stop-color="#0c0000"/><stop offset="0.400" stop-color="#130000"/><stop offset="0.503" stop-color="#250000"/><stop offset="0.548" stop-color="#340000"/><stop offset="0.577" stop-color="#340000"/><stop offset="0.598" stop-color="#420000"/><stop offset="0.623" stop-color="#440000"/><stop offset="0.664" stop-color="#530000"/><stop offset="0.689" stop-color="#560000"/><stop offset="0.713" stop-color="#640000"/><stop offset="0.730" stop-color="#600000"/><stop offset="0.738" stop-color="#640000"/><stop offset="0.763" stop-color="#780000"/><stop offset="0.792" stop-color="#820000"/><stop offset="0.812" stop-color="#940000"/><stop offset="0.833" stop-color="#af0000"/><stop offset="0.845" stop-color="#b50000"/><stop offset="0.858" stop-color="#b60000"/><stop offset="0.862" stop-color="#bb0000"/><stop offset="0.870" stop-color="#cf0000"/><stop offset="0.874" stop-color="#d60000"/><stop offset="0.891" stop-color="#e40000"/><stop offset="0.920" stop-color="#e50000"/><stop offset="0.924" stop-color="#e20000"/><stop offset="0.928" stop-color="#d90000"/><stop offset="0.932" stop-color="#cb0000"/><stop offset="0.940" stop-color="#a20000"/><stop offset="0.957" stop-color="#930000"/><stop offset="0.961" stop-color="#930000"/><stop offset="0.965" stop-color="#a20000"/><stop offset="0.969" stop-color="#b80000"/><stop offset="0.977" stop-color="#b90000"/><stop offset="0.981" stop-color="#a60000"/><stop offset="0.986" stop-color="#490000"/><stop offset="0.990" stop-color="#2c0000"/><stop offset="0.994" stop-color="#210000"/><stop offset="0.998" stop-color="#1c0000"/></linearGradient><linearGradient id="g91" x1="0" y1="0" x2="0" y2="1"><stop offset="0.000" stop-color="#000000"/><stop offset="0.198" stop-color="#010000"/><stop offset="0.416" stop-color="#080000"/><stop offset="0.454" stop-color="#0b0000"/><stop offset="0.553" stop-color="#1c0000"/><stop offset="0.577" stop-color="#190000"/><stop offset="0.610" stop-color="#1f0000"/><stop offset="0.631" stop-color="#220000"/><stop offset="0.660" stop-color="#300000"/><stop offset="0.680" stop-color="#340000"/><stop offset="0.701" stop-color="#440000"/><stop offset="0.718" stop-color="#450000"/><stop offset="0.726" stop-color="#420000"/><stop offset="0.734" stop-color="#460000"/><stop offset="0.759" stop-color="#6c0000"/><stop offset="0.775" stop-color="#770000"/><stop offset="0.792" stop-color="#830000"/><stop offset="0.808" stop-color="#980000"/><stop offset="0.821" stop-color="#a10000"/><stop offset="0.833" stop-color="#b20000"/><stop offset="0.841" stop-color="#b60000"/><stop offset="0.858" stop-color="#b50000"/><stop offset="0.862" stop-color="#b80000"/><stop offset="0.870" stop-color="#c70000"/><stop offset="0.878" stop-color="#ce0000"/><stop offset="0.891" stop-color="#da0000"/><stop offset="0.899" stop-color="#e40000"/><stop offset="0.915" stop-color="#e40000"/><stop offset="0.920" stop-color="#e20000"/><stop offset="0.928" stop-color="#d10000"/><stop offset="0.932" stop-color="#c30000"/><stop offset="0.940" stop-color="#990000"/><stop offset="0.957" stop-color="#860000"/><stop offset="0.961" stop-color="#850000"/><stop offset="0.965" stop-color="#990000"/><stop offset="0.969" stop-color="#b60000"/><stop offset="0.977" stop-color="#ba0000"/><stop offset="0.981" stop-color="#a60000"/><stop offset="0.986" stop-color="#490000"/><stop offset="0.990" stop-color="#2c0000"/><stop offset="0.994" stop-color="#210000"/><stop offset="0.998" stop-color="#1c0000"/></linearGradient><linearGradient id="g92" x1="0" y1="0" x2="0" y2="1"><stop offset="0.000" stop-color="#000000"/><stop offset="0.239" stop-color="#010000"/><stop offset="0.396" stop-color="#0e0000"/><stop offset="0.503" stop-color="#150000"/><stop offset="0.536" stop-color="#250000"/><stop offset="0.553" stop-color="#2e0000"/><stop offset="0.594" stop-color="#3d0000"/><stop offset="0.623" stop-color="#4e0000"/><stop offset="0.647" stop-color="#570000"/><stop offset="0.664" stop-color="#5e0000"/><stop offset="0.680" stop-color="#610000"/><stop offset="0.701" stop-color="#730000"/><stop offset="0.713" stop-color="#740000"/><stop offset="0.730" stop-color="#6d0000"/><stop offset="0.738" stop-color="#730000"/><stop offset="0.759" stop-color="#900000"/><stop offset="0.767" stop-color="#960000"/><stop offset="0.784" stop-color="#910000"/><stop offset="0.796" stop-color="#980000"/><stop offset="0.808" stop-color="#a20000"/><stop offset="0.849" stop-color="#b10000"/><stop offset="0.858" stop-color="#b20000"/><stop offset="0.866" stop-color="#bf0000"/><stop offset="0.874" stop-color="#cc0000"/><stop offset="0.891" stop-color="#da0000"/><stop offset="0.899" stop-color="#e40000"/><stop offset="0.911" stop-color="#e40000"/><stop offset="0.920" stop-color="#df0000"/><stop offset="0.928" stop-color="#ce0000"/><stop offset="0.936" stop-color="#b30000"/><stop offset="0.940" stop-color="#a30000"/><stop offset="0.957" stop-color="#950000"/><stop offset="0.961" stop-color="#940000"/><stop offset="0.965" stop-color="#a10000"/><stop offset="0.969" stop-color="#b40000"/><stop offset="0.977" stop-color="#b60000"/><stop offset="0.981" stop-color="#a30000"/><stop offset="0.986" stop-color="#490000"/><stop offset="0.990" stop-color="#2c0000"/><stop offset="0.994" stop-color="#210000"/><stop offset="0.998" stop-color="#1c0000"/></linearGradient><linearGradient id="g93" x1="0" y1="0" x2="0" y2="1"><stop offset="0.000" stop-color="#000000"/><stop offset="0.227" stop-color="#010000"/><stop offset="0.470" stop-color="#090000"/><stop offset="0.515" stop-color="#160000"/><stop offset="0.544" stop-color="#160000"/><stop offset="0.610" stop-color="#1c0000"/><stop offset="0.627" stop-color="#210000"/><stop offset="0.639" stop-color="#230000"/><stop offset="0.660" stop-color="#320000"/><stop offset="0.676" stop-color="#340000"/><stop offset="0.697" stop-color="#480000"/><stop offset="0.713" stop-color="#4f0000"/><stop offset="0.730" stop-color="#4b0000"/><stop offset="0.742" stop-color="#570000"/><stop offset="0.759" stop-color="#730000"/><stop offset="0.767" stop-color="#7c0000"/><stop offset="0.784" stop-color="#860000"/><stop offset="0.804" stop-color="#a50000"/><stop offset="0.812" stop-color="#a70000"/><stop offset="0.829" stop-color="#a30000"/><stop offset="0.858" stop-color="#b10000"/><stop offset="0.874" stop-color="#c50000"/><stop offset="0.891" stop-color="#d30000"/><stop offset="0.899" stop-color="#dc0000"/><stop offset="0.915" stop-color="#d90000"/><stop offset="0.920" stop-color="#d70000"/><stop offset="0.928" stop-color="#c40000"/><stop offset="0.932" stop-color="#b50000"/><stop offset="0.940" stop-color="#8f0000"/><stop offset="0.961" stop-color="#870000"/><stop offset="0.965" stop-color="#970000"/><stop offset="0.969" stop-color="#af0000"/><stop offset="0.977" stop-color="#b10000"/><stop offset="0.981" stop-color="#9e0000"/><stop offset="0.986" stop-color="#480000"/><stop offset="0.990" stop-color="#2c0000"/><stop offset="0.994" stop-color="#210000"/><stop offset="0.998" stop-color="#1c0000"/></linearGradient><linearGradient id="g94" x1="0" y1="0" x2="0" y2="1"><stop offset="0.000" stop-color="#000000"/><stop offset="0.227" stop-color="#010000"/><stop offset="0.396" stop-color="#090000"/><stop offset="0.487" stop-color="#0e0000"/><stop offset="0.524" stop-color="#170000"/><stop offset="0.548" stop-color="#170000"/><stop offset="0.565" stop-color="#1c0000"/><stop offset="0.586" stop-color="#260000"/><stop offset="0.606" stop-color="#270000"/><stop offset="0.660" stop-color="#460000"/><stop offset="0.676" stop-color="#460000"/><stop offset="0.685" stop-color="#4b0000"/><stop offset="0.718" stop-color="#5f0000"/><stop offset="0.742" stop-color="#6d0000"/><stop offset="0.779" stop-color="#8b0000"/><stop offset="0.800" stop-color="#a60000"/><stop offset="0.808" stop-color="#ab0000"/><stop offset="0.825" stop-color="#a90000"/><stop offset="0.841" stop-color="#b00000"/><stop offset="0.854" stop-color="#b20000"/><stop offset="0.887" stop-color="#cb0000"/><stop offset="0.899" stop-color="#d80000"/><stop offset="0.911" stop-color="#d70000"/><stop offset="0.920" stop-color="#d30000"/><stop offset="0.928" stop-color="#bf0000"/><stop offset="0.936" stop-color="#a00000"/><stop offset="0.940" stop-color="#900000"/><stop offset="0.957" stop-color="#8c0000"/><stop offset="0.961" stop-color="#8d0000"/><stop offset="0.965" stop-color="#9b0000"/><stop offset="0.969" stop-color="#af0000"/><stop offset="0.977" stop-color="#b30000"/><stop offset="0.981" stop-color="#a20000"/><stop offset="0.986" stop-color="#490000"/><stop offset="0.990" stop-color="#2c0000"/><stop offset="0.994" stop-color="#210000"/><stop offset="0.998" stop-color="#1c0000"/></linearGradient><linearGradient id="g95" x1="0" y1="0" x2="0" y2="1"><stop offset="0.000" stop-color="#000000"/><stop offset="0.223" stop-color="#010000"/><stop offset="0.449" stop-color="#080000"/><stop offset="0.470" stop-color="#0a0000"/><stop offset="0.524" stop-color="#160000"/><stop offset="0.561" stop-color="#140000"/><stop offset="0.581" stop-color="#1f0000"/><stop offset="0.590" stop-color="#1f0000"/><stop offset="0.610" stop-color="#1b0000"/><stop offset="0.631" stop-color="#220000"/><stop offset="0.660" stop-color="#300000"/><stop offset="0.689" stop-color="#410000"/><stop offset="0.726" stop-color="#460000"/><stop offset="0.734" stop-color="#4e0000"/><stop offset="0.751" stop-color="#660000"/><stop offset="0.763" stop-color="#6f0000"/><stop offset="0.771" stop-color="#730000"/><stop offset="0.808" stop-color="#a40000"/><stop offset="0.825" stop-color="#aa0000"/><stop offset="0.837" stop-color="#b40000"/><stop offset="0.854" stop-color="#b40000"/><stop offset="0.882" stop-color="#c50000"/><stop offset="0.895" stop-color="#d20000"/><stop offset="0.907" stop-color="#d10000"/><stop offset="0.920" stop-color="#cb0000"/><stop offset="0.928" stop-color="#b80000"/><stop offset="0.940" stop-color="#920000"/><stop offset="0.961" stop-color="#930000"/><stop offset="0.965" stop-color="#a20000"/><stop offset="0.969" stop-color="#b60000"/><stop offset="0.977" stop-color="#bb0000"/><stop offset="0.981" stop-color="#a90000"/><stop offset="0.986" stop-color="#4b0000"/><stop offset="0.990" stop-color="#2c0000"/><stop offset="0.994" stop-color="#210000"/><stop offset="0.998" stop-color="#1c0000"/></linearGradient><linearGradient id="g96" x1="0" y1="0" x2="0" y2="1"><stop offset="0.000" stop-color="#000000"/><stop offset="0.293" stop-color="#010000"/><stop offset="0.478" stop-color="#080000"/><stop offset="0.524" stop-color="#080000"/><stop offset="0.565" stop-color="#0d0000"/><stop offset="0.586" stop-color="#1b0000"/><stop offset="0.610" stop-color="#1c0000"/><stop offset="0.635" stop-color="#250000"/><stop offset="0.656" stop-color="#240000"/><stop offset="0.664" stop-color="#2a0000"/><stop offset="0.676" stop-color="#3a0000"/><stop offset="0.689" stop-color="#410000"/><stop offset="0.709" stop-color="#3f0000"/><stop offset="0.722" stop-color="#440000"/><stop offset="0.730" stop-color="#4e0000"/><stop offset="0.738" stop-color="#5f0000"/><stop offset="0.746" stop-color="#740000"/><stop offset="0.755" stop-color="#820000"/><stop offset="0.771" stop-color="#8c0000"/><stop offset="0.779" stop-color="#920000"/><stop offset="0.792" stop-color="#a00000"/><stop offset="0.829" stop-color="#b80000"/><stop offset="0.841" stop-color="#bc0000"/><stop offset="0.870" stop-color="#b50000"/><stop offset="0.878" stop-color="#b80000"/><stop offset="0.895" stop-color="#c60000"/><stop offset="0.903" stop-color="#c70000"/><stop offset="0.920" stop-color="#c20000"/><stop offset="0.928" stop-color="#b30000"/><stop offset="0.936" stop-color="#970000"/><stop offset="0.940" stop-color="#870000"/><stop offset="0.961" stop-color="#880000"/><stop offset="0.965" stop-color="#9e0000"/><stop offset="0.969" stop-color="#be0000"/><stop offset="0.977" stop-color="#c10000"/><stop offset="0.981" stop-color="#af0000"/><stop offset="0.986" stop-color="#4d0000"/><stop offset="0.990" stop-color="#2c0000"/><stop offset="0.994" stop-color="#210000"/><stop offset="0.998" stop-color="#1c0000"/></linearGradient><linearGradient id="g97" x1="0" y1="0" x2="0" y2="1"><stop offset="0.000" stop-color="#000000"/><stop offset="0.223" stop-color="#010000"/><stop offset="0.388" stop-color="#0b0000"/><stop offset="0.487" stop-color="#0f0000"/><stop offset="0.548" stop-color="#2b0000"/><stop offset="0.569" stop-color="#2e0000"/><stop offset="0.590" stop-color="#390000"/><stop offset="0.606" stop-color="#3a0000"/><stop offset="0.627" stop-color="#420000"/><stop offset="0.639" stop-color="#400000"/><stop offset="0.656" stop-color="#3a0000"/><stop offset="0.668" stop-color="#410000"/><stop offset="0.680" stop-color="#4e0000"/><stop offset="0.693" stop-color="#540000"/><stop offset="0.709" stop-color="#560000"/><stop offset="0.742" stop-color="#740000"/><stop offset="0.759" stop-color="#8a0000"/><stop offset="0.767" stop-color="#8c0000"/><stop offset="0.779" stop-color="#8d0000"/><stop offset="0.812" stop-color="#aa0000"/><stop offset="0.837" stop-color="#ba0000"/><stop offset="0.854" stop-color="#bb0000"/><stop offset="0.870" stop-color="#b90000"/><stop offset="0.899" stop-color="#c90000"/><stop offset="0.920" stop-color="#ca0000"/><stop offset="0.932" stop-color="#b20000"/><stop offset="0.940" stop-color="#9f0000"/><stop offset="0.961" stop-color="#9f0000"/><stop offset="0.965" stop-color="#ac0000"/><stop offset="0.969" stop-color="#be0000"/><stop offset="0.977" stop-color="#bf0000"/><stop offset="0.981" stop-color="#ae0000"/><stop offset="0.986" stop-color="#4d0000"/><stop offset="0.990" stop-color="#2c0000"/><stop offset="0.994" stop-color="#210000"/><stop offset="0.998" stop-color="#1c0000"/></linearGradient><linearGradient id="g98" x1="0" y1="0" x2="0" y2="1"><stop offset="0.000" stop-color="#000000"/><stop offset="0.115" stop-color="#010000"/><stop offset="0.272" stop-color="#0e0000"/><stop offset="0.392" stop-color="#160000"/><stop offset="0.532" stop-color="#340000"/><stop offset="0.557" stop-color="#3d0000"/><stop offset="0.577" stop-color="#410000"/><stop offset="0.590" stop-color="#450000"/><stop offset="0.606" stop-color="#470000"/><stop offset="0.623" stop-color="#500000"/><stop offset="0.660" stop-color="#4a0000"/><stop offset="0.676" stop-color="#540000"/><stop offset="0.693" stop-color="#5a0000"/><stop offset="0.709" stop-color="#570000"/><stop offset="0.746" stop-color="#740000"/><stop offset="0.763" stop-color="#7f0000"/><stop offset="0.779" stop-color="#7e0000"/><stop offset="0.804" stop-color="#930000"/><stop offset="0.833" stop-color="#a70000"/><stop offset="0.854" stop-color="#bd0000"/><stop offset="0.862" stop-color="#c20000"/><stop offset="0.870" stop-color="#cd0000"/><stop offset="0.899" stop-color="#d80000"/><stop offset="0.920" stop-color="#d80000"/><stop offset="0.928" stop-color="#c80000"/><stop offset="0.932" stop-color="#bd0000"/><stop offset="0.940" stop-color="#9f0000"/><stop offset="0.961" stop-color="#9d0000"/><stop offset="0.965" stop-color="#a90000"/><stop offset="0.969" stop-color="#b90000"/><stop offset="0.977" stop-color="#bb0000"/><stop offset="0.981" stop-color="#ab0000"/><stop offset="0.986" stop-color="#4d0000"/><stop offset="0.990" stop-color="#2c0000"/><stop offset="0.994" stop-color="#210000"/><stop offset="0.998" stop-color="#1c0000"/></linearGradient><linearGradient id="g99" x1="0" y1="0" x2="0" y2="1"><stop offset="0.000" stop-color="#000000"/><stop offset="0.206" stop-color="#010000"/><stop offset="0.392" stop-color="#090000"/><stop offset="0.458" stop-color="#0b0000"/><stop offset="0.466" stop-color="#130000"/><stop offset="0.561" stop-color="#1d0000"/><stop offset="0.594" stop-color="#220000"/><stop offset="0.606" stop-color="#270000"/><stop offset="0.623" stop-color="#310000"/><stop offset="0.652" stop-color="#300000"/><stop offset="0.664" stop-color="#330000"/><stop offset="0.685" stop-color="#450000"/><stop offset="0.693" stop-color="#470000"/><stop offset="0.709" stop-color="#430000"/><stop offset="0.726" stop-color="#500000"/><stop offset="0.759" stop-color="#720000"/><stop offset="0.779" stop-color="#7c0000"/><stop offset="0.800" stop-color="#950000"/><stop offset="0.821" stop-color="#a50000"/><stop offset="0.837" stop-color="#af0000"/><stop offset="0.854" stop-color="#c50000"/><stop offset="0.874" stop-color="#d00000"/><stop offset="0.899" stop-color="#d10000"/><stop offset="0.920" stop-color="#cc0000"/><stop offset="0.932" stop-color="#b20000"/><stop offset="0.940" stop-color="#980000"/><stop offset="0.957" stop-color="#950000"/><stop offset="0.961" stop-color="#960000"/><stop offset="0.965" stop-color="#a50000"/><stop offset="0.969" stop-color="#b90000"/><stop offset="0.977" stop-color="#bf0000"/><stop offset="0.981" stop-color="#b00000"/><stop offset="0.986" stop-color="#4e0000"/><stop offset="0.990" stop-color="#2c0000"/><stop offset="0.994" stop-color="#210000"/><stop offset="0.998" stop-color="#1c0000"/></linearGradient><linearGradient id="g100" x1="0" y1="0" x2="0" y2="1"><stop offset="0.000" stop-color="#000000"/><stop offset="0.140" stop-color="#010000"/><stop offset="0.313" stop-color="#0b0000"/><stop offset="0.400" stop-color="#0f0000"/><stop offset="0.433" stop-color="#160000"/><stop offset="0.507" stop-color="#1f0000"/><stop offset="0.544" stop-color="#230000"/><stop offset="0.606" stop-color="#370000"/><stop offset="0.619" stop-color="#400000"/><stop offset="0.643" stop-color="#3c0000"/><stop offset="0.660" stop-color="#410000"/><stop offset="0.680" stop-color="#530000"/><stop offset="0.693" stop-color="#560000"/><stop offset="0.709" stop-color="#530000"/><stop offset="0.738" stop-color="#5f0000"/><stop offset="0.763" stop-color="#6f0000"/><stop offset="0.775" stop-color="#730000"/><stop offset="0.800" stop-color="#8e0000"/><stop offset="0.833" stop-color="#a70000"/><stop offset="0.854" stop-color="#c20000"/><stop offset="0.862" stop-color="#c80000"/><stop offset="0.870" stop-color="#d30000"/><stop offset="0.891" stop-color="#dc0000"/><stop offset="0.899" stop-color="#dc0000"/><stop offset="0.920" stop-color="#d40000"/><stop offset="0.928" stop-color="#c00000"/><stop offset="0.936" stop-color="#a30000"/><stop offset="0.940" stop-color="#930000"/><stop offset="0.961" stop-color="#930000"/><stop offset="0.965" stop-color="#a30000"/><stop offset="0.969" stop-color="#ba0000"/><stop offset="0.977" stop-color="#c00000"/><stop offset="0.981" stop-color="#b00000"/><stop offset="0.986" stop-color="#4e0000"/><stop offset="0.990" stop-color="#2c0000"/><stop offset="0.994" stop-color="#210000"/><stop offset="0.998" stop-color="#1c0000"/></linearGradient><linearGradient id="g101" x1="0" y1="0" x2="0" y2="1"><stop offset="0.000" stop-color="#000000"/><stop offset="0.099" stop-color="#020000"/><stop offset="0.285" stop-color="#0b0000"/><stop offset="0.458" stop-color="#150000"/><stop offset="0.520" stop-color="#1d0000"/><stop offset="0.544" stop-color="#1f0000"/><stop offset="0.569" stop-color="#240000"/><stop offset="0.606" stop-color="#310000"/><stop offset="0.623" stop-color="#3c0000"/><stop offset="0.643" stop-color="#3a0000"/><stop offset="0.660" stop-color="#410000"/><stop offset="0.676" stop-color="#4f0000"/><stop offset="0.689" stop-color="#520000"/><stop offset="0.701" stop-color="#510000"/><stop offset="0.722" stop-color="#590000"/><stop offset="0.742" stop-color="#580000"/><stop offset="0.784" stop-color="#700000"/><stop offset="0.804" stop-color="#840000"/><stop offset="0.825" stop-color="#920000"/><stop offset="0.841" stop-color="#a80000"/><stop offset="0.849" stop-color="#b50000"/><stop offset="0.862" stop-color="#c20000"/><stop offset="0.874" stop-color="#d80000"/><stop offset="0.891" stop-color="#e30000"/><stop offset="0.920" stop-color="#e30000"/><stop offset="0.924" stop-color="#d90000"/><stop offset="0.928" stop-color="#cb0000"/><stop offset="0.932" stop-color="#b90000"/><stop offset="0.940" stop-color="#8e0000"/><stop offset="0.961" stop-color="#900000"/><stop offset="0.965" stop-color="#9f0000"/><stop offset="0.969" stop-color="#b30000"/><stop offset="0.977" stop-color="#b60000"/><stop offset="0.981" stop-color="#a50000"/><stop offset="0.986" stop-color="#4a0000"/><stop offset="0.990" stop-color="#2c0000"/><stop offset="0.994" stop-color="#210000"/><stop offset="0.998" stop-color="#1c0000"/></linearGradient><linearGradient id="g102" x1="0" y1="0" x2="0" y2="1"><stop offset="0.000" stop-color="#000000"/><stop offset="0.227" stop-color="#010000"/><stop offset="0.433" stop-color="#090000"/><stop offset="0.474" stop-color="#0a0000"/><stop offset="0.482" stop-color="#140000"/><stop offset="0.524" stop-color="#180000"/><stop offset="0.602" stop-color="#210000"/><stop offset="0.623" stop-color="#2e0000"/><stop offset="0.643" stop-color="#300000"/><stop offset="0.656" stop-color="#380000"/><stop offset="0.672" stop-color="#450000"/><stop offset="0.689" stop-color="#480000"/><stop offset="0.705" stop-color="#4b0000"/><stop offset="0.722" stop-color="#560000"/><stop offset="0.746" stop-color="#580000"/><stop offset="0.759" stop-color="#610000"/><stop offset="0.775" stop-color="#780000"/><stop offset="0.796" stop-color="#970000"/><stop offset="0.808" stop-color="#a10000"/><stop offset="0.825" stop-color="#a10000"/><stop offset="0.833" stop-color="#aa0000"/><stop offset="0.845" stop-color="#b90000"/><stop offset="0.854" stop-color="#bc0000"/><stop offset="0.870" stop-color="#ba0000"/><stop offset="0.887" stop-color="#c60000"/><stop offset="0.899" stop-color="#d20000"/><stop offset="0.915" stop-color="#d60000"/><stop offset="0.920" stop-color="#d20000"/><stop offset="0.928" stop-color="#b80000"/><stop offset="0.940" stop-color="#870000"/><stop offset="0.953" stop-color="#860000"/><stop offset="0.961" stop-color="#880000"/><stop offset="0.965" stop-color="#980000"/><stop offset="0.969" stop-color="#ad0000"/><stop offset="0.977" stop-color="#b10000"/><stop offset="0.981" stop-color="#a00000"/><stop offset="0.986" stop-color="#480000"/><stop offset="0.990" stop-color="#2c0000"/><stop offset="0.994" stop-color="#210000"/><stop offset="0.998" stop-color="#1c0000"/></linearGradient><linearGradient id="g103" x1="0" y1="0" x2="0" y2="1"><stop offset="0.000" stop-color="#000000"/><stop offset="0.309" stop-color="#010000"/><stop offset="0.474" stop-color="#0d0000"/><stop offset="0.520" stop-color="#110000"/><stop offset="0.548" stop-color="#110000"/><stop offset="0.569" stop-color="#0e0000"/><stop offset="0.577" stop-color="#130000"/><stop offset="0.594" stop-color="#220000"/><stop offset="0.614" stop-color="#3a0000"/><stop offset="0.631" stop-color="#460000"/><stop offset="0.652" stop-color="#500000"/><stop offset="0.668" stop-color="#5e0000"/><stop offset="0.689" stop-color="#630000"/><stop offset="0.722" stop-color="#740000"/><stop offset="0.755" stop-color="#790000"/><stop offset="0.767" stop-color="#850000"/><stop offset="0.792" stop-color="#aa0000"/><stop offset="0.800" stop-color="#af0000"/><stop offset="0.825" stop-color="#a90000"/><stop offset="0.833" stop-color="#ae0000"/><stop offset="0.841" stop-color="#b70000"/><stop offset="0.849" stop-color="#ba0000"/><stop offset="0.866" stop-color="#b80000"/><stop offset="0.878" stop-color="#bf0000"/><stop offset="0.895" stop-color="#d70000"/><stop offset="0.899" stop-color="#da0000"/><stop offset="0.911" stop-color="#d50000"/><stop offset="0.920" stop-color="#cd0000"/><stop offset="0.932" stop-color="#ad0000"/><stop offset="0.940" stop-color="#940000"/><stop offset="0.957" stop-color="#8e0000"/><stop offset="0.961" stop-color="#8e0000"/><stop offset="0.965" stop-color="#9c0000"/><stop offset="0.969" stop-color="#af0000"/><stop offset="0.977" stop-color="#b60000"/><stop offset="0.981" stop-color="#a50000"/><stop offset="0.986" stop-color="#4a0000"/><stop offset="0.990" stop-color="#2c0000"/><stop offset="0.994" stop-color="#210000"/><stop offset="0.998" stop-color="#1c0000"/></linearGradient><linearGradient id="g104" x1="0" y1="0" x2="0" y2="1"><stop offset="0.000" stop-color="#000000"/><stop offset="0.252" stop-color="#010000"/><stop offset="0.416" stop-color="#0c0000"/><stop offset="0.495" stop-color="#100000"/><stop offset="0.524" stop-color="#150000"/><stop offset="0.548" stop-color="#1e0000"/><stop offset="0.577" stop-color="#260000"/><stop offset="0.594" stop-color="#300000"/><stop offset="0.614" stop-color="#3e0000"/><stop offset="0.668" stop-color="#500000"/><stop offset="0.685" stop-color="#4f0000"/><stop offset="0.693" stop-color="#550000"/><stop offset="0.709" stop-color="#670000"/><stop offset="0.726" stop-color="#6c0000"/><stop offset="0.751" stop-color="#6e0000"/><stop offset="0.759" stop-color="#720000"/><stop offset="0.771" stop-color="#830000"/><stop offset="0.788" stop-color="#9e0000"/><stop offset="0.796" stop-color="#a70000"/><stop offset="0.804" stop-color="#aa0000"/><stop offset="0.821" stop-color="#a30000"/><stop offset="0.829" stop-color="#a60000"/><stop offset="0.845" stop-color="#b60000"/><stop offset="0.862" stop-color="#ba0000"/><stop offset="0.882" stop-color="#d00000"/><stop offset="0.895" stop-color="#e20000"/><stop offset="0.899" stop-color="#e30000"/><stop offset="0.920" stop-color="#cf0000"/><stop offset="0.932" stop-color="#b20000"/><stop offset="0.940" stop-color="#970000"/><stop offset="0.953" stop-color="#930000"/><stop offset="0.961" stop-color="#900000"/><stop offset="0.965" stop-color="#a20000"/><stop offset="0.969" stop-color="#bd0000"/><stop offset="0.977" stop-color="#c20000"/><stop offset="0.981" stop-color="#b00000"/><stop offset="0.986" stop-color="#4c0000"/><stop offset="0.990" stop-color="#2c0000"/><stop offset="0.994" stop-color="#210000"/><stop offset="0.998" stop-color="#1c0000"/></linearGradient><linearGradient id="g105" x1="0" y1="0" x2="0" y2="1"><stop offset="0.000" stop-color="#000000"/><stop offset="0.206" stop-color="#010000"/><stop offset="0.400" stop-color="#080000"/><stop offset="0.458" stop-color="#0b0000"/><stop offset="0.503" stop-color="#140000"/><stop offset="0.540" stop-color="#180000"/><stop offset="0.561" stop-color="#180000"/><stop offset="0.590" stop-color="#1b0000"/><stop offset="0.610" stop-color="#210000"/><stop offset="0.627" stop-color="#250000"/><stop offset="0.647" stop-color="#300000"/><stop offset="0.668" stop-color="#340000"/><stop offset="0.685" stop-color="#2e0000"/><stop offset="0.693" stop-color="#350000"/><stop offset="0.709" stop-color="#4c0000"/><stop offset="0.726" stop-color="#560000"/><stop offset="0.751" stop-color="#5d0000"/><stop offset="0.767" stop-color="#680000"/><stop offset="0.796" stop-color="#920000"/><stop offset="0.804" stop-color="#9a0000"/><stop offset="0.829" stop-color="#9f0000"/><stop offset="0.845" stop-color="#ae0000"/><stop offset="0.858" stop-color="#b50000"/><stop offset="0.878" stop-color="#ce0000"/><stop offset="0.895" stop-color="#df0000"/><stop offset="0.903" stop-color="#e00000"/><stop offset="0.911" stop-color="#da0000"/><stop offset="0.920" stop-color="#cf0000"/><stop offset="0.940" stop-color="#9e0000"/><stop offset="0.948" stop-color="#a10000"/><stop offset="0.961" stop-color="#9e0000"/><stop offset="0.965" stop-color="#b20000"/><stop offset="0.969" stop-color="#d00000"/><stop offset="0.977" stop-color="#d00000"/><stop offset="0.981" stop-color="#ba0000"/><stop offset="0.986" stop-color="#4d0000"/><stop offset="0.990" stop-color="#2c0000"/><stop offset="0.994" stop-color="#210000"/><stop offset="0.998" stop-color="#1c0000"/></linearGradient><linearGradient id="g106" x1="0" y1="0" x2="0" y2="1"><stop offset="0.000" stop-color="#000000"/><stop offset="0.214" stop-color="#010000"/><stop offset="0.425" stop-color="#0a0000"/><stop offset="0.474" stop-color="#0d0000"/><stop offset="0.520" stop-color="#140000"/><stop offset="0.540" stop-color="#170000"/><stop offset="0.557" stop-color="#170000"/><stop offset="0.577" stop-color="#200000"/><stop offset="0.598" stop-color="#250000"/><stop offset="0.643" stop-color="#320000"/><stop offset="0.668" stop-color="#400000"/><stop offset="0.676" stop-color="#3f0000"/><stop offset="0.685" stop-color="#3b0000"/><stop offset="0.693" stop-color="#400000"/><stop offset="0.718" stop-color="#5c0000"/><stop offset="0.755" stop-color="#6c0000"/><stop offset="0.767" stop-color="#6f0000"/><stop offset="0.792" stop-color="#890000"/><stop offset="0.804" stop-color="#980000"/><stop offset="0.821" stop-color="#a00000"/><stop offset="0.833" stop-color="#a40000"/><stop offset="0.862" stop-color="#b80000"/><stop offset="0.882" stop-color="#cd0000"/><stop offset="0.899" stop-color="#da0000"/><stop offset="0.907" stop-color="#db0000"/><stop offset="0.915" stop-color="#d30000"/><stop offset="0.920" stop-color="#cd0000"/><stop offset="0.928" stop-color="#b60000"/><stop offset="0.940" stop-color="#940000"/><stop offset="0.953" stop-color="#9a0000"/><stop offset="0.961" stop-color="#9a0000"/><stop offset="0.965" stop-color="#b40000"/><stop offset="0.969" stop-color="#d80000"/><stop offset="0.977" stop-color="#d50000"/><stop offset="0.981" stop-color="#bc0000"/><stop offset="0.986" stop-color="#4d0000"/><stop offset="0.990" stop-color="#2c0000"/><stop offset="0.994" stop-color="#210000"/><stop offset="0.998" stop-color="#1c0000"/></linearGradient><linearGradient id="g107" x1="0" y1="0" x2="0" y2="1"><stop offset="0.000" stop-color="#000000"/><stop offset="0.313" stop-color="#010000"/><stop offset="0.487" stop-color="#0a0000"/><stop offset="0.520" stop-color="#0a0000"/><stop offset="0.557" stop-color="#0b0000"/><stop offset="0.610" stop-color="#240000"/><stop offset="0.631" stop-color="#270000"/><stop offset="0.652" stop-color="#360000"/><stop offset="0.668" stop-color="#4b0000"/><stop offset="0.689" stop-color="#4f0000"/><stop offset="0.709" stop-color="#620000"/><stop offset="0.734" stop-color="#740000"/><stop offset="0.751" stop-color="#870000"/><stop offset="0.759" stop-color="#8b0000"/><stop offset="0.775" stop-color="#8e0000"/><stop offset="0.804" stop-color="#a30000"/><stop offset="0.837" stop-color="#b00000"/><stop offset="0.858" stop-color="#b90000"/><stop offset="0.866" stop-color="#c40000"/><stop offset="0.874" stop-color="#d20000"/><stop offset="0.887" stop-color="#db0000"/><stop offset="0.915" stop-color="#db0000"/><stop offset="0.920" stop-color="#d80000"/><stop offset="0.932" stop-color="#bb0000"/><stop offset="0.940" stop-color="#a30000"/><stop offset="0.961" stop-color="#a90000"/><stop offset="0.965" stop-color="#bc0000"/><stop offset="0.969" stop-color="#d80000"/><stop offset="0.977" stop-color="#d40000"/><stop offset="0.981" stop-color="#bc0000"/><stop offset="0.986" stop-color="#4d0000"/><stop offset="0.990" stop-color="#2c0000"/><stop offset="0.994" stop-color="#210000"/><stop offset="0.998" stop-color="#1c0000"/></linearGradient><linearGradient id="g108" x1="0" y1="0" x2="0" y2="1"><stop offset="0.000" stop-color="#000000"/><stop offset="0.268" stop-color="#010000"/><stop offset="0.437" stop-color="#0a0000"/><stop offset="0.524" stop-color="#0d0000"/><stop offset="0.553" stop-color="#1f0000"/><stop offset="0.569" stop-color="#2a0000"/><stop offset="0.586" stop-color="#2e0000"/><stop offset="0.614" stop-color="#310000"/><stop offset="0.627" stop-color="#2f0000"/><stop offset="0.656" stop-color="#450000"/><stop offset="0.668" stop-color="#4e0000"/><stop offset="0.689" stop-color="#500000"/><stop offset="0.709" stop-color="#5b0000"/><stop offset="0.726" stop-color="#600000"/><stop offset="0.734" stop-color="#670000"/><stop offset="0.755" stop-color="#810000"/><stop offset="0.775" stop-color="#850000"/><stop offset="0.796" stop-color="#920000"/><stop offset="0.821" stop-color="#9e0000"/><stop offset="0.845" stop-color="#b30000"/><stop offset="0.862" stop-color="#bb0000"/><stop offset="0.891" stop-color="#d70000"/><stop offset="0.899" stop-color="#d90000"/><stop offset="0.920" stop-color="#ce0000"/><stop offset="0.936" stop-color="#af0000"/><stop offset="0.940" stop-color="#a40000"/><stop offset="0.961" stop-color="#a30000"/><stop offset="0.965" stop-color="#b70000"/><stop offset="0.969" stop-color="#d50000"/><stop offset="0.977" stop-color="#d60000"/><stop offset="0.981" stop-color="#c00000"/><stop offset="0.986" stop-color="#4f0000"/><stop offset="0.990" stop-color="#2c0000"/><stop offset="0.994" stop-color="#210000"/><stop offset="0.998" stop-color="#1c0000"/></linearGradient><linearGradient id="g109" x1="0" y1="0" x2="0" y2="1"><stop offset="0.000" stop-color="#000000"/><stop offset="0.276" stop-color="#010000"/><stop offset="0.503" stop-color="#080000"/><stop offset="0.524" stop-color="#090000"/><stop offset="0.573" stop-color="#1b0000"/><stop offset="0.598" stop-color="#1b0000"/><stop offset="0.627" stop-color="#1b0000"/><stop offset="0.652" stop-color="#2a0000"/><stop offset="0.680" stop-color="#330000"/><stop offset="0.709" stop-color="#420000"/><stop offset="0.730" stop-color="#450000"/><stop offset="0.738" stop-color="#4f0000"/><stop offset="0.755" stop-color="#6a0000"/><stop offset="0.767" stop-color="#750000"/><stop offset="0.775" stop-color="#7b0000"/><stop offset="0.788" stop-color="#890000"/><stop offset="0.816" stop-color="#9b0000"/><stop offset="0.837" stop-color="#a60000"/><stop offset="0.854" stop-color="#b40000"/><stop offset="0.862" stop-color="#b50000"/><stop offset="0.870" stop-color="#b10000"/><stop offset="0.878" stop-color="#b80000"/><stop offset="0.887" stop-color="#c10000"/><stop offset="0.895" stop-color="#c60000"/><stop offset="0.903" stop-color="#c30000"/><stop offset="0.920" stop-color="#bd0000"/><stop offset="0.940" stop-color="#9f0000"/><stop offset="0.961" stop-color="#990000"/><stop offset="0.965" stop-color="#b00000"/><stop offset="0.969" stop-color="#d10000"/><stop offset="0.977" stop-color="#d60000"/><stop offset="0.981" stop-color="#c30000"/><stop offset="0.986" stop-color="#510000"/><stop offset="0.990" stop-color="#2c0000"/><stop offset="0.994" stop-color="#210000"/><stop offset="0.998" stop-color="#1c0000"/></linearGradient><linearGradient id="g110" x1="0" y1="0" x2="0" y2="1"><stop offset="0.000" stop-color="#000000"/><stop offset="0.243" stop-color="#010000"/><stop offset="0.392" stop-color="#150000"/><stop offset="0.515" stop-color="#200000"/><stop offset="0.528" stop-color="#490000"/><stop offset="0.532" stop-color="#4e0000"/><stop offset="0.573" stop-color="#5b0000"/><stop offset="0.590" stop-color="#610000"/><stop offset="0.606" stop-color="#5e0000"/><stop offset="0.643" stop-color="#690000"/><stop offset="0.672" stop-color="#640000"/><stop offset="0.689" stop-color="#6d0000"/><stop offset="0.705" stop-color="#740000"/><stop offset="0.738" stop-color="#770000"/><stop offset="0.759" stop-color="#8b0000"/><stop offset="0.779" stop-color="#910000"/><stop offset="0.808" stop-color="#9a0000"/><stop offset="0.837" stop-color="#a70000"/><stop offset="0.854" stop-color="#b50000"/><stop offset="0.870" stop-color="#b30000"/><stop offset="0.878" stop-color="#b90000"/><stop offset="0.895" stop-color="#cb0000"/><stop offset="0.899" stop-color="#cd0000"/><stop offset="0.920" stop-color="#c30000"/><stop offset="0.940" stop-color="#970000"/><stop offset="0.961" stop-color="#950000"/><stop offset="0.965" stop-color="#ab0000"/><stop offset="0.969" stop-color="#ca0000"/><stop offset="0.977" stop-color="#d10000"/><stop offset="0.981" stop-color="#bf0000"/><stop offset="0.986" stop-color="#510000"/><stop offset="0.990" stop-color="#2c0000"/><stop offset="0.994" stop-color="#210000"/><stop offset="0.998" stop-color="#1c0000"/></linearGradient><linearGradient id="g111" x1="0" y1="0" x2="0" y2="1"><stop offset="0.000" stop-color="#000000"/><stop offset="0.280" stop-color="#010000"/><stop offset="0.491" stop-color="#070000"/><stop offset="0.540" stop-color="#0b0000"/><stop offset="0.569" stop-color="#130000"/><stop offset="0.586" stop-color="#1c0000"/><stop offset="0.606" stop-color="#1a0000"/><stop offset="0.660" stop-color="#2e0000"/><stop offset="0.680" stop-color="#300000"/><stop offset="0.705" stop-color="#430000"/><stop offset="0.722" stop-color="#490000"/><stop offset="0.734" stop-color="#450000"/><stop offset="0.742" stop-color="#4a0000"/><stop offset="0.751" stop-color="#570000"/><stop offset="0.763" stop-color="#6a0000"/><stop offset="0.779" stop-color="#7a0000"/><stop offset="0.796" stop-color="#8d0000"/><stop offset="0.816" stop-color="#a20000"/><stop offset="0.841" stop-color="#b00000"/><stop offset="0.862" stop-color="#bc0000"/><stop offset="0.882" stop-color="#d40000"/><stop offset="0.891" stop-color="#db0000"/><stop offset="0.920" stop-color="#db0000"/><stop offset="0.940" stop-color="#9b0000"/><stop offset="0.961" stop-color="#9f0000"/><stop offset="0.965" stop-color="#b00000"/><stop offset="0.969" stop-color="#c80000"/><stop offset="0.977" stop-color="#ce0000"/><stop offset="0.981" stop-color="#bd0000"/><stop offset="0.986" stop-color="#510000"/><stop offset="0.990" stop-color="#2c0000"/><stop offset="0.994" stop-color="#210000"/><stop offset="0.998" stop-color="#1c0000"/></linearGradient><linearGradient id="g112" x1="0" y1="0" x2="0" y2="1"><stop offset="0.000" stop-color="#000000"/><stop offset="0.301" stop-color="#010000"/><stop offset="0.454" stop-color="#0a0000"/><stop offset="0.511" stop-color="#0d0000"/><stop offset="0.561" stop-color="#0e0000"/><stop offset="0.586" stop-color="#1e0000"/><stop offset="0.606" stop-color="#220000"/><stop offset="0.643" stop-color="#3a0000"/><stop offset="0.664" stop-color="#4a0000"/><stop offset="0.680" stop-color="#4c0000"/><stop offset="0.701" stop-color="#5f0000"/><stop offset="0.713" stop-color="#690000"/><stop offset="0.726" stop-color="#6d0000"/><stop offset="0.742" stop-color="#6c0000"/><stop offset="0.751" stop-color="#720000"/><stop offset="0.763" stop-color="#7f0000"/><stop offset="0.821" stop-color="#a60000"/><stop offset="0.837" stop-color="#ac0000"/><stop offset="0.862" stop-color="#b90000"/><stop offset="0.878" stop-color="#ce0000"/><stop offset="0.899" stop-color="#db0000"/><stop offset="0.915" stop-color="#db0000"/><stop offset="0.920" stop-color="#d60000"/><stop offset="0.928" stop-color="#bb0000"/><stop offset="0.940" stop-color="#860000"/><stop offset="0.961" stop-color="#900000"/><stop offset="0.965" stop-color="#aa0000"/><stop offset="0.969" stop-color="#cf0000"/><stop offset="0.977" stop-color="#d20000"/><stop offset="0.981" stop-color="#bf0000"/><stop offset="0.986" stop-color="#500000"/><stop offset="0.990" stop-color="#2c0000"/><stop offset="0.994" stop-color="#210000"/><stop offset="0.998" stop-color="#1c0000"/></linearGradient><linearGradient id="g113" x1="0" y1="0" x2="0" y2="1"><stop offset="0.000" stop-color="#000000"/><stop offset="0.289" stop-color="#010000"/><stop offset="0.454" stop-color="#0a0000"/><stop offset="0.511" stop-color="#0e0000"/><stop offset="0.548" stop-color="#0e0000"/><stop offset="0.553" stop-color="#1b0000"/><stop offset="0.557" stop-color="#210000"/><stop offset="0.586" stop-color="#2c0000"/><stop offset="0.631" stop-color="#330000"/><stop offset="0.647" stop-color="#390000"/><stop offset="0.664" stop-color="#490000"/><stop offset="0.689" stop-color="#4d0000"/><stop offset="0.726" stop-color="#6b0000"/><stop offset="0.751" stop-color="#760000"/><stop offset="0.771" stop-color="#870000"/><stop offset="0.784" stop-color="#8c0000"/><stop offset="0.796" stop-color="#8d0000"/><stop offset="0.816" stop-color="#a10000"/><stop offset="0.866" stop-color="#b40000"/><stop offset="0.887" stop-color="#be0000"/><stop offset="0.911" stop-color="#c30000"/><stop offset="0.920" stop-color="#bf0000"/><stop offset="0.928" stop-color="#a90000"/><stop offset="0.936" stop-color="#9c0000"/><stop offset="0.944" stop-color="#9b0000"/><stop offset="0.961" stop-color="#a10000"/><stop offset="0.965" stop-color="#b50000"/><stop offset="0.969" stop-color="#d00000"/><stop offset="0.977" stop-color="#d10000"/><stop offset="0.981" stop-color="#bc0000"/><stop offset="0.986" stop-color="#4f0000"/><stop offset="0.990" stop-color="#2c0000"/><stop offset="0.994" stop-color="#210000"/><stop offset="0.998" stop-color="#1c0000"/></linearGradient><linearGradient id="g114" x1="0" y1="0" x2="0" y2="1"><stop offset="0.000" stop-color="#000000"/><stop offset="0.285" stop-color="#010000"/><stop offset="0.503" stop-color="#0a0000"/><stop offset="0.540" stop-color="#0a0000"/><stop offset="0.565" stop-color="#120000"/><stop offset="0.581" stop-color="#190000"/><stop offset="0.639" stop-color="#200000"/><stop offset="0.647" stop-color="#240000"/><stop offset="0.672" stop-color="#3a0000"/><stop offset="0.701" stop-color="#3f0000"/><stop offset="0.718" stop-color="#470000"/><stop offset="0.726" stop-color="#4e0000"/><stop offset="0.742" stop-color="#620000"/><stop offset="0.763" stop-color="#760000"/><stop offset="0.771" stop-color="#810000"/><stop offset="0.779" stop-color="#860000"/><stop offset="0.792" stop-color="#840000"/><stop offset="0.800" stop-color="#8a0000"/><stop offset="0.816" stop-color="#a30000"/><stop offset="0.829" stop-color="#ae0000"/><stop offset="0.849" stop-color="#b20000"/><stop offset="0.858" stop-color="#b30000"/><stop offset="0.862" stop-color="#b80000"/><stop offset="0.870" stop-color="#cc0000"/><stop offset="0.878" stop-color="#d70000"/><stop offset="0.887" stop-color="#db0000"/><stop offset="0.920" stop-color="#db0000"/><stop offset="0.928" stop-color="#c80000"/><stop offset="0.940" stop-color="#970000"/><stop offset="0.957" stop-color="#960000"/><stop offset="0.961" stop-color="#980000"/><stop offset="0.965" stop-color="#ac0000"/><stop offset="0.969" stop-color="#c80000"/><stop offset="0.977" stop-color="#ca0000"/><stop offset="0.981" stop-color="#b60000"/><stop offset="0.986" stop-color="#4d0000"/><stop offset="0.990" stop-color="#2c0000"/><stop offset="0.994" stop-color="#210000"/><stop offset="0.998" stop-color="#1c0000"/></linearGradient><linearGradient id="g115" x1="0" y1="0" x2="0" y2="1"><stop offset="0.000" stop-color="#000000"/><stop offset="0.219" stop-color="#010000"/><stop offset="0.437" stop-color="#0a0000"/><stop offset="0.478" stop-color="#0d0000"/><stop offset="0.520" stop-color="#130000"/><stop offset="0.561" stop-color="#1a0000"/><stop offset="0.590" stop-color="#220000"/><stop offset="0.647" stop-color="#320000"/><stop offset="0.664" stop-color="#3d0000"/><stop offset="0.680" stop-color="#470000"/><stop offset="0.718" stop-color="#4c0000"/><stop offset="0.742" stop-color="#630000"/><stop offset="0.759" stop-color="#6c0000"/><stop offset="0.771" stop-color="#780000"/><stop offset="0.796" stop-color="#840000"/><stop offset="0.812" stop-color="#970000"/><stop offset="0.825" stop-color="#ac0000"/><stop offset="0.837" stop-color="#b50000"/><stop offset="0.854" stop-color="#b00000"/><stop offset="0.862" stop-color="#b80000"/><stop offset="0.874" stop-color="#d20000"/><stop offset="0.891" stop-color="#db0000"/><stop offset="0.920" stop-color="#db0000"/><stop offset="0.924" stop-color="#d60000"/><stop offset="0.928" stop-color="#cb0000"/><stop offset="0.940" stop-color="#980000"/><stop offset="0.953" stop-color="#960000"/><stop offset="0.961" stop-color="#9a0000"/><stop offset="0.965" stop-color="#b10000"/><stop offset="0.969" stop-color="#d00000"/><stop offset="0.977" stop-color="#d20000"/><stop offset="0.981" stop-color="#bc0000"/><stop offset="0.986" stop-color="#4f0000"/><stop offset="0.990" stop-color="#2c0000"/><stop offset="0.994" stop-color="#210000"/><stop offset="0.998" stop-color="#1c0000"/></linearGradient><linearGradient id="g116" x1="0" y1="0" x2="0" y2="1"><stop offset="0.000" stop-color="#000000"/><stop offset="0.301" stop-color="#010000"/><stop offset="0.503" stop-color="#090000"/><stop offset="0.532" stop-color="#080000"/><stop offset="0.557" stop-color="#0b0000"/><stop offset="0.598" stop-color="#1e0000"/><stop offset="0.631" stop-color="#290000"/><stop offset="0.652" stop-color="#320000"/><stop offset="0.680" stop-color="#450000"/><stop offset="0.701" stop-color="#4b0000"/><stop offset="0.722" stop-color="#480000"/><stop offset="0.751" stop-color="#690000"/><stop offset="0.779" stop-color="#860000"/><stop offset="0.808" stop-color="#a00000"/><stop offset="0.821" stop-color="#a90000"/><stop offset="0.833" stop-color="#b60000"/><stop offset="0.841" stop-color="#b60000"/><stop offset="0.854" stop-color="#af0000"/><stop offset="0.858" stop-color="#af0000"/><stop offset="0.862" stop-color="#b40000"/><stop offset="0.874" stop-color="#d00000"/><stop offset="0.899" stop-color="#db0000"/><stop offset="0.920" stop-color="#db0000"/><stop offset="0.924" stop-color="#d80000"/><stop offset="0.928" stop-color="#ce0000"/><stop offset="0.940" stop-color="#a00000"/><stop offset="0.953" stop-color="#a00000"/><stop offset="0.961" stop-color="#a40000"/><stop offset="0.965" stop-color="#bd0000"/><stop offset="0.969" stop-color="#db0000"/><stop offset="0.977" stop-color="#db0000"/><stop offset="0.981" stop-color="#cb0000"/><stop offset="0.986" stop-color="#520000"/><stop offset="0.990" stop-color="#2c0000"/><stop offset="0.994" stop-color="#210000"/><stop offset="0.998" stop-color="#1c0000"/></linearGradient><linearGradient id="g117" x1="0" y1="0" x2="0" y2="1"><stop offset="0.000" stop-color="#000000"/><stop offset="0.252" stop-color="#010000"/><stop offset="0.495" stop-color="#0a0000"/><stop offset="0.528" stop-color="#140000"/><stop offset="0.573" stop-color="#180000"/><stop offset="0.614" stop-color="#270000"/><stop offset="0.639" stop-color="#1f0000"/><stop offset="0.652" stop-color="#260000"/><stop offset="0.672" stop-color="#370000"/><stop offset="0.697" stop-color="#430000"/><stop offset="0.722" stop-color="#430000"/><stop offset="0.763" stop-color="#640000"/><stop offset="0.804" stop-color="#8f0000"/><stop offset="0.825" stop-color="#a20000"/><stop offset="0.837" stop-color="#ab0000"/><stop offset="0.854" stop-color="#a80000"/><stop offset="0.870" stop-color="#b80000"/><stop offset="0.878" stop-color="#c00000"/><stop offset="0.903" stop-color="#c90000"/><stop offset="0.920" stop-color="#ca0000"/><stop offset="0.932" stop-color="#b30000"/><stop offset="0.940" stop-color="#9c0000"/><stop offset="0.961" stop-color="#9e0000"/><stop offset="0.965" stop-color="#ba0000"/><stop offset="0.969" stop-color="#db0000"/><stop offset="0.977" stop-color="#db0000"/><stop offset="0.981" stop-color="#c90000"/><stop offset="0.986" stop-color="#510000"/><stop offset="0.990" stop-color="#2c0000"/><stop offset="0.994" stop-color="#210000"/><stop offset="0.998" stop-color="#1c0000"/></linearGradient><linearGradient id="g118" x1="0" y1="0" x2="0" y2="1"><stop offset="0.000" stop-color="#000000"/><stop offset="0.326" stop-color="#010000"/><stop offset="0.540" stop-color="#0b0000"/><stop offset="0.557" stop-color="#080000"/><stop offset="0.581" stop-color="#0c0000"/><stop offset="0.590" stop-color="#220000"/><stop offset="0.606" stop-color="#2b0000"/><stop offset="0.623" stop-color="#350000"/><stop offset="0.639" stop-color="#2d0000"/><stop offset="0.652" stop-color="#320000"/><stop offset="0.676" stop-color="#450000"/><stop offset="0.713" stop-color="#550000"/><stop offset="0.738" stop-color="#690000"/><stop offset="0.755" stop-color="#710000"/><stop offset="0.796" stop-color="#a30000"/><stop offset="0.808" stop-color="#ac0000"/><stop offset="0.845" stop-color="#b30000"/><stop offset="0.862" stop-color="#b30000"/><stop offset="0.895" stop-color="#c00000"/><stop offset="0.903" stop-color="#bf0000"/><stop offset="0.920" stop-color="#bd0000"/><stop offset="0.932" stop-color="#ac0000"/><stop offset="0.940" stop-color="#9d0000"/><stop offset="0.961" stop-color="#a00000"/><stop offset="0.965" stop-color="#b70000"/><stop offset="0.969" stop-color="#d80000"/><stop offset="0.977" stop-color="#d50000"/><stop offset="0.981" stop-color="#bd0000"/><stop offset="0.986" stop-color="#4d0000"/><stop offset="0.990" stop-color="#2c0000"/><stop offset="0.994" stop-color="#210000"/><stop offset="0.998" stop-color="#1c0000"/></linearGradient><linearGradient id="g119" x1="0" y1="0" x2="0" y2="1"><stop offset="0.000" stop-color="#000000"/><stop offset="0.206" stop-color="#010000"/><stop offset="0.396" stop-color="#0b0000"/><stop offset="0.474" stop-color="#0f0000"/><stop offset="0.520" stop-color="#1a0000"/><stop offset="0.540" stop-color="#1f0000"/><stop offset="0.561" stop-color="#200000"/><stop offset="0.586" stop-color="#2b0000"/><stop offset="0.602" stop-color="#2b0000"/><stop offset="0.623" stop-color="#390000"/><stop offset="0.643" stop-color="#380000"/><stop offset="0.664" stop-color="#430000"/><stop offset="0.685" stop-color="#4d0000"/><stop offset="0.701" stop-color="#520000"/><stop offset="0.726" stop-color="#640000"/><stop offset="0.746" stop-color="#610000"/><stop offset="0.763" stop-color="#6a0000"/><stop offset="0.779" stop-color="#7e0000"/><stop offset="0.812" stop-color="#a50000"/><stop offset="0.821" stop-color="#a80000"/><stop offset="0.837" stop-color="#a30000"/><stop offset="0.854" stop-color="#ad0000"/><stop offset="0.862" stop-color="#b30000"/><stop offset="0.903" stop-color="#bc0000"/><stop offset="0.920" stop-color="#c00000"/><stop offset="0.940" stop-color="#a70000"/><stop offset="0.961" stop-color="#a60000"/><stop offset="0.965" stop-color="#b50000"/><stop offset="0.969" stop-color="#ca0000"/><stop offset="0.977" stop-color="#c80000"/><stop offset="0.981" stop-color="#b00000"/><stop offset="0.986" stop-color="#490000"/><stop offset="0.990" stop-color="#2c0000"/><stop offset="0.994" stop-color="#210000"/><stop offset="0.998" stop-color="#1c0000"/></linearGradient><linearGradient id="g120" x1="0" y1="0" x2="0" y2="1"><stop offset="0.000" stop-color="#000000"/><stop offset="0.264" stop-color="#010000"/><stop offset="0.462" stop-color="#0b0000"/><stop offset="0.515" stop-color="#0e0000"/><stop offset="0.536" stop-color="#170000"/><stop offset="0.569" stop-color="#240000"/><stop offset="0.586" stop-color="#2b0000"/><stop offset="0.610" stop-color="#2e0000"/><stop offset="0.639" stop-color="#390000"/><stop offset="0.685" stop-color="#510000"/><stop offset="0.701" stop-color="#540000"/><stop offset="0.726" stop-color="#600000"/><stop offset="0.742" stop-color="#5f0000"/><stop offset="0.759" stop-color="#6a0000"/><stop offset="0.775" stop-color="#7f0000"/><stop offset="0.788" stop-color="#8f0000"/><stop offset="0.800" stop-color="#980000"/><stop offset="0.812" stop-color="#aa0000"/><stop offset="0.821" stop-color="#ad0000"/><stop offset="0.833" stop-color="#a10000"/><stop offset="0.841" stop-color="#a00000"/><stop offset="0.858" stop-color="#ae0000"/><stop offset="0.862" stop-color="#b50000"/><stop offset="0.870" stop-color="#cb0000"/><stop offset="0.874" stop-color="#d10000"/><stop offset="0.895" stop-color="#db0000"/><stop offset="0.924" stop-color="#db0000"/><stop offset="0.928" stop-color="#d50000"/><stop offset="0.932" stop-color="#c90000"/><stop offset="0.940" stop-color="#a70000"/><stop offset="0.957" stop-color="#a60000"/><stop offset="0.961" stop-color="#a50000"/><stop offset="0.965" stop-color="#b10000"/><stop offset="0.969" stop-color="#c20000"/><stop offset="0.977" stop-color="#bf0000"/><stop offset="0.981" stop-color="#a80000"/><stop offset="0.986" stop-color="#480000"/><stop offset="0.990" stop-color="#2c0000"/><stop offset="0.994" stop-color="#210000"/><stop offset="0.998" stop-color="#1c0000"/></linearGradient><linearGradient id="g121" x1="0" y1="0" x2="0" y2="1"><stop offset="0.000" stop-color="#000000"/><stop offset="0.260" stop-color="#010000"/><stop offset="0.412" stop-color="#130000"/><stop offset="0.528" stop-color="#1d0000"/><stop offset="0.544" stop-color="#2f0000"/><stop offset="0.573" stop-color="#4f0000"/><stop offset="0.610" stop-color="#570000"/><stop offset="0.627" stop-color="#580000"/><stop offset="0.693" stop-color="#750000"/><stop offset="0.709" stop-color="#730000"/><stop offset="0.730" stop-color="#6e0000"/><stop offset="0.746" stop-color="#740000"/><stop offset="0.779" stop-color="#930000"/><stop offset="0.800" stop-color="#980000"/><stop offset="0.816" stop-color="#ab0000"/><stop offset="0.825" stop-color="#aa0000"/><stop offset="0.837" stop-color="#a40000"/><stop offset="0.845" stop-color="#a90000"/><stop offset="0.866" stop-color="#bc0000"/><stop offset="0.895" stop-color="#d60000"/><stop offset="0.920" stop-color="#d20000"/><stop offset="0.928" stop-color="#c70000"/><stop offset="0.936" stop-color="#b20000"/><stop offset="0.940" stop-color="#a60000"/><stop offset="0.957" stop-color="#a60000"/><stop offset="0.961" stop-color="#a40000"/><stop offset="0.965" stop-color="#b20000"/><stop offset="0.969" stop-color="#c60000"/><stop offset="0.977" stop-color="#c30000"/><stop offset="0.981" stop-color="#ac0000"/><stop offset="0.986" stop-color="#4a0000"/><stop offset="0.990" stop-color="#2c0000"/><stop offset="0.994" stop-color="#210000"/><stop offset="0.998" stop-color="#1c0000"/></linearGradient><linearGradient id="g122" x1="0" y1="0" x2="0" y2="1"><stop offset="0.000" stop-color="#000000"/><stop offset="0.223" stop-color="#010000"/><stop offset="0.433" stop-color="#080000"/><stop offset="0.474" stop-color="#0b0000"/><stop offset="0.511" stop-color="#140000"/><stop offset="0.544" stop-color="#180000"/><stop offset="0.610" stop-color="#1f0000"/><stop offset="0.627" stop-color="#1e0000"/><stop offset="0.660" stop-color="#2c0000"/><stop offset="0.680" stop-color="#360000"/><stop offset="0.701" stop-color="#430000"/><stop offset="0.730" stop-color="#420000"/><stop offset="0.746" stop-color="#500000"/><stop offset="0.779" stop-color="#6a0000"/><stop offset="0.796" stop-color="#770000"/><stop offset="0.816" stop-color="#9a0000"/><stop offset="0.837" stop-color="#a30000"/><stop offset="0.862" stop-color="#c10000"/><stop offset="0.874" stop-color="#d40000"/><stop offset="0.882" stop-color="#db0000"/><stop offset="0.920" stop-color="#db0000"/><stop offset="0.928" stop-color="#cf0000"/><stop offset="0.932" stop-color="#c10000"/><stop offset="0.940" stop-color="#950000"/><stop offset="0.961" stop-color="#8f0000"/><stop offset="0.965" stop-color="#a70000"/><stop offset="0.969" stop-color="#c90000"/><stop offset="0.977" stop-color="#ca0000"/><stop offset="0.981" stop-color="#b40000"/><stop offset="0.986" stop-color="#4c0000"/><stop offset="0.990" stop-color="#2c0000"/><stop offset="0.994" stop-color="#210000"/><stop offset="0.998" stop-color="#1c0000"/></linearGradient><linearGradient id="g123" x1="0" y1="0" x2="0" y2="1"><stop offset="0.000" stop-color="#000000"/><stop offset="0.371" stop-color="#010000"/><stop offset="0.495" stop-color="#070000"/><stop offset="0.524" stop-color="#070000"/><stop offset="0.586" stop-color="#0a0000"/><stop offset="0.619" stop-color="#060000"/><stop offset="0.627" stop-color="#140000"/><stop offset="0.631" stop-color="#1d0000"/><stop offset="0.647" stop-color="#280000"/><stop offset="0.676" stop-color="#2f0000"/><stop offset="0.705" stop-color="#430000"/><stop offset="0.730" stop-color="#430000"/><stop offset="0.738" stop-color="#500000"/><stop offset="0.755" stop-color="#6e0000"/><stop offset="0.771" stop-color="#7c0000"/><stop offset="0.788" stop-color="#8a0000"/><stop offset="0.800" stop-color="#970000"/><stop offset="0.812" stop-color="#a60000"/><stop offset="0.837" stop-color="#b00000"/><stop offset="0.854" stop-color="#bc0000"/><stop offset="0.874" stop-color="#c50000"/><stop offset="0.891" stop-color="#ce0000"/><stop offset="0.920" stop-color="#c90000"/><stop offset="0.932" stop-color="#b30000"/><stop offset="0.940" stop-color="#a00000"/><stop offset="0.953" stop-color="#990000"/><stop offset="0.961" stop-color="#9b0000"/><stop offset="0.965" stop-color="#af0000"/><stop offset="0.969" stop-color="#cb0000"/><stop offset="0.977" stop-color="#ce0000"/><stop offset="0.981" stop-color="#b70000"/><stop offset="0.986" stop-color="#4d0000"/><stop offset="0.990" stop-color="#2c0000"/><stop offset="0.994" stop-color="#210000"/><stop offset="0.998" stop-color="#1c0000"/></linearGradient><linearGradient id="g124" x1="0" y1="0" x2="0" y2="1"><stop offset="0.000" stop-color="#000000"/><stop offset="0.355" stop-color="#010000"/><stop offset="0.495" stop-color="#090000"/><stop offset="0.515" stop-color="#0a0000"/><stop offset="0.544" stop-color="#090000"/><stop offset="0.581" stop-color="#0c0000"/><stop offset="0.602" stop-color="#090000"/><stop offset="0.610" stop-color="#0a0000"/><stop offset="0.627" stop-color="#100000"/><stop offset="0.652" stop-color="#260000"/><stop offset="0.685" stop-color="#350000"/><stop offset="0.705" stop-color="#490000"/><stop offset="0.730" stop-color="#540000"/><stop offset="0.763" stop-color="#780000"/><stop offset="0.779" stop-color="#8a0000"/><stop offset="0.796" stop-color="#920000"/><stop offset="0.812" stop-color="#a50000"/><stop offset="0.845" stop-color="#b90000"/><stop offset="0.866" stop-color="#bb0000"/><stop offset="0.882" stop-color="#c70000"/><stop offset="0.899" stop-color="#c60000"/><stop offset="0.907" stop-color="#c40000"/><stop offset="0.920" stop-color="#c60000"/><stop offset="0.940" stop-color="#a30000"/><stop offset="0.953" stop-color="#9e0000"/><stop offset="0.961" stop-color="#a10000"/><stop offset="0.965" stop-color="#b20000"/><stop offset="0.969" stop-color="#c80000"/><stop offset="0.977" stop-color="#ca0000"/><stop offset="0.981" stop-color="#b50000"/><stop offset="0.986" stop-color="#4d0000"/><stop offset="0.990" stop-color="#2c0000"/><stop offset="0.994" stop-color="#210000"/><stop offset="0.998" stop-color="#1c0000"/></linearGradient><linearGradient id="g125" x1="0" y1="0" x2="0" y2="1"><stop offset="0.000" stop-color="#000000"/><stop offset="0.268" stop-color="#010000"/><stop offset="0.478" stop-color="#080000"/><stop offset="0.540" stop-color="#0e0000"/><stop offset="0.573" stop-color="#150000"/><stop offset="0.590" stop-color="#1b0000"/><stop offset="0.627" stop-color="#1b0000"/><stop offset="0.656" stop-color="#2e0000"/><stop offset="0.693" stop-color="#360000"/><stop offset="0.713" stop-color="#470000"/><stop offset="0.734" stop-color="#4c0000"/><stop offset="0.763" stop-color="#690000"/><stop offset="0.788" stop-color="#7e0000"/><stop offset="0.800" stop-color="#880000"/><stop offset="0.821" stop-color="#a40000"/><stop offset="0.841" stop-color="#b20000"/><stop offset="0.862" stop-color="#b10000"/><stop offset="0.870" stop-color="#ac0000"/><stop offset="0.878" stop-color="#b30000"/><stop offset="0.887" stop-color="#b80000"/><stop offset="0.907" stop-color="#b20000"/><stop offset="0.920" stop-color="#b60000"/><stop offset="0.932" stop-color="#a70000"/><stop offset="0.948" stop-color="#a10000"/><stop offset="0.961" stop-color="#a50000"/><stop offset="0.965" stop-color="#b30000"/><stop offset="0.969" stop-color="#c50000"/><stop offset="0.977" stop-color="#c40000"/><stop offset="0.981" stop-color="#af0000"/><stop offset="0.986" stop-color="#4c0000"/><stop offset="0.990" stop-color="#2c0000"/><stop offset="0.994" stop-color="#210000"/><stop offset="0.998" stop-color="#1c0000"/></linearGradient><linearGradient id="g126" x1="0" y1="0" x2="0" y2="1"><stop offset="0.000" stop-color="#000000"/><stop offset="0.326" stop-color="#010000"/><stop offset="0.515" stop-color="#090000"/><stop offset="0.553" stop-color="#070000"/><stop offset="0.577" stop-color="#0c0000"/><stop offset="0.606" stop-color="#240000"/><stop offset="0.631" stop-color="#280000"/><stop offset="0.656" stop-color="#340000"/><stop offset="0.685" stop-color="#3c0000"/><stop offset="0.701" stop-color="#3f0000"/><stop offset="0.726" stop-color="#560000"/><stop offset="0.738" stop-color="#5c0000"/><stop offset="0.746" stop-color="#670000"/><stop offset="0.759" stop-color="#770000"/><stop offset="0.800" stop-color="#970000"/><stop offset="0.833" stop-color="#b40000"/><stop offset="0.841" stop-color="#b50000"/><stop offset="0.858" stop-color="#ad0000"/><stop offset="0.866" stop-color="#b10000"/><stop offset="0.882" stop-color="#c50000"/><stop offset="0.891" stop-color="#c90000"/><stop offset="0.899" stop-color="#c60000"/><stop offset="0.907" stop-color="#bf0000"/><stop offset="0.915" stop-color="#c00000"/><stop offset="0.920" stop-color="#c20000"/><stop offset="0.928" stop-color="#b90000"/><stop offset="0.940" stop-color="#a00000"/><stop offset="0.948" stop-color="#9c0000"/><stop offset="0.961" stop-color="#9f0000"/><stop offset="0.965" stop-color="#ad0000"/><stop offset="0.969" stop-color="#c10000"/><stop offset="0.977" stop-color="#bf0000"/><stop offset="0.981" stop-color="#ab0000"/><stop offset="0.986" stop-color="#4b0000"/><stop offset="0.990" stop-color="#2c0000"/><stop offset="0.994" stop-color="#210000"/><stop offset="0.998" stop-color="#1c0000"/></linearGradient><linearGradient id="g127" x1="0" y1="0" x2="0" y2="1"><stop offset="0.000" stop-color="#000000"/><stop offset="0.289" stop-color="#010000"/><stop offset="0.458" stop-color="#0f0000"/><stop offset="0.520" stop-color="#110000"/><stop offset="0.544" stop-color="#100000"/><stop offset="0.557" stop-color="#150000"/><stop offset="0.573" stop-color="#220000"/><stop offset="0.590" stop-color="#2f0000"/><stop offset="0.602" stop-color="#3b0000"/><stop offset="0.631" stop-color="#440000"/><stop offset="0.668" stop-color="#570000"/><stop offset="0.693" stop-color="#600000"/><stop offset="0.701" stop-color="#610000"/><stop offset="0.722" stop-color="#700000"/><stop offset="0.738" stop-color="#6e0000"/><stop offset="0.751" stop-color="#780000"/><stop offset="0.763" stop-color="#860000"/><stop offset="0.800" stop-color="#960000"/><stop offset="0.816" stop-color="#9f0000"/><stop offset="0.833" stop-color="#af0000"/><stop offset="0.841" stop-color="#b10000"/><stop offset="0.858" stop-color="#b00000"/><stop offset="0.862" stop-color="#b30000"/><stop offset="0.882" stop-color="#d50000"/><stop offset="0.887" stop-color="#da0000"/><stop offset="0.899" stop-color="#da0000"/><stop offset="0.907" stop-color="#cf0000"/><stop offset="0.915" stop-color="#cd0000"/><stop offset="0.920" stop-color="#cf0000"/><stop offset="0.928" stop-color="#c40000"/><stop offset="0.932" stop-color="#b70000"/><stop offset="0.940" stop-color="#8d0000"/><stop offset="0.957" stop-color="#880000"/><stop offset="0.961" stop-color="#880000"/><stop offset="0.965" stop-color="#9f0000"/><stop offset="0.969" stop-color="#bf0000"/><stop offset="0.977" stop-color="#c10000"/><stop offset="0.981" stop-color="#ad0000"/><stop offset="0.986" stop-color="#4b0000"/><stop offset="0.990" stop-color="#2c0000"/><stop offset="0.994" stop-color="#210000"/><stop offset="0.998" stop-color="#1c0000"/></linearGradient><linearGradient id="g128" x1="0" y1="0" x2="0" y2="1"><stop offset="0.000" stop-color="#000000"/><stop offset="0.153" stop-color="#010000"/><stop offset="0.330" stop-color="#0b0000"/><stop offset="0.416" stop-color="#100000"/><stop offset="0.520" stop-color="#1d0000"/><stop offset="0.540" stop-color="#1b0000"/><stop offset="0.569" stop-color="#2c0000"/><stop offset="0.586" stop-color="#2e0000"/><stop offset="0.602" stop-color="#350000"/><stop offset="0.627" stop-color="#310000"/><stop offset="0.647" stop-color="#360000"/><stop offset="0.676" stop-color="#440000"/><stop offset="0.697" stop-color="#520000"/><stop offset="0.713" stop-color="#5a0000"/><stop offset="0.730" stop-color="#620000"/><stop offset="0.746" stop-color="#630000"/><stop offset="0.767" stop-color="#710000"/><stop offset="0.788" stop-color="#720000"/><stop offset="0.816" stop-color="#860000"/><stop offset="0.845" stop-color="#ac0000"/><stop offset="0.858" stop-color="#b90000"/><stop offset="0.870" stop-color="#bc0000"/><stop offset="0.891" stop-color="#d20000"/><stop offset="0.899" stop-color="#cf0000"/><stop offset="0.907" stop-color="#c60000"/><stop offset="0.920" stop-color="#c40000"/><stop offset="0.940" stop-color="#9f0000"/><stop offset="0.953" stop-color="#980000"/><stop offset="0.961" stop-color="#9a0000"/><stop offset="0.965" stop-color="#ac0000"/><stop offset="0.969" stop-color="#c40000"/><stop offset="0.977" stop-color="#c90000"/><stop offset="0.981" stop-color="#b40000"/><stop offset="0.986" stop-color="#4c0000"/><stop offset="0.990" stop-color="#2c0000"/><stop offset="0.994" stop-color="#210000"/><stop offset="0.998" stop-color="#1c0000"/></linearGradient><linearGradient id="g129" x1="0" y1="0" x2="0" y2="1"><stop offset="0.000" stop-color="#000000"/><stop offset="0.301" stop-color="#010000"/><stop offset="0.470" stop-color="#080000"/><stop offset="0.532" stop-color="#090000"/><stop offset="0.544" stop-color="#0a0000"/><stop offset="0.557" stop-color="#120000"/><stop offset="0.569" stop-color="#1a0000"/><stop offset="0.586" stop-color="#1b0000"/><stop offset="0.602" stop-color="#230000"/><stop offset="0.631" stop-color="#290000"/><stop offset="0.656" stop-color="#280000"/><stop offset="0.672" stop-color="#330000"/><stop offset="0.693" stop-color="#470000"/><stop offset="0.709" stop-color="#480000"/><stop offset="0.718" stop-color="#4f0000"/><stop offset="0.730" stop-color="#5f0000"/><stop offset="0.755" stop-color="#730000"/><stop offset="0.775" stop-color="#810000"/><stop offset="0.808" stop-color="#970000"/><stop offset="0.845" stop-color="#bc0000"/><stop offset="0.862" stop-color="#c20000"/><stop offset="0.874" stop-color="#d50000"/><stop offset="0.887" stop-color="#e00000"/><stop offset="0.899" stop-color="#e10000"/><stop offset="0.911" stop-color="#dd0000"/><stop offset="0.920" stop-color="#dd0000"/><stop offset="0.928" stop-color="#cc0000"/><stop offset="0.932" stop-color="#bd0000"/><stop offset="0.940" stop-color="#960000"/><stop offset="0.953" stop-color="#930000"/><stop offset="0.961" stop-color="#960000"/><stop offset="0.965" stop-color="#af0000"/><stop offset="0.969" stop-color="#d10000"/><stop offset="0.977" stop-color="#d40000"/><stop offset="0.981" stop-color="#bc0000"/><stop offset="0.986" stop-color="#4d0000"/><stop offset="0.990" stop-color="#2c0000"/><stop offset="0.994" stop-color="#210000"/><stop offset="0.998" stop-color="#1c0000"/></linearGradient><linearGradient id="g130" x1="0" y1="0" x2="0" y2="1"><stop offset="0.000" stop-color="#000000"/><stop offset="0.285" stop-color="#010000"/><stop offset="0.470" stop-color="#090000"/><stop offset="0.540" stop-color="#0d0000"/><stop offset="0.565" stop-color="#1c0000"/><stop offset="0.594" stop-color="#220000"/><stop offset="0.631" stop-color="#310000"/><stop offset="0.656" stop-color="#2c0000"/><stop offset="0.668" stop-color="#340000"/><stop offset="0.689" stop-color="#490000"/><stop offset="0.697" stop-color="#4c0000"/><stop offset="0.709" stop-color="#490000"/><stop offset="0.718" stop-color="#500000"/><stop offset="0.734" stop-color="#620000"/><stop offset="0.775" stop-color="#800000"/><stop offset="0.796" stop-color="#950000"/><stop offset="0.829" stop-color="#a90000"/><stop offset="0.845" stop-color="#b90000"/><stop offset="0.862" stop-color="#be0000"/><stop offset="0.874" stop-color="#cd0000"/><stop offset="0.899" stop-color="#d90000"/><stop offset="0.920" stop-color="#dd0000"/><stop offset="0.928" stop-color="#cf0000"/><stop offset="0.932" stop-color="#be0000"/><stop offset="0.940" stop-color="#8a0000"/><stop offset="0.953" stop-color="#880000"/><stop offset="0.961" stop-color="#8a0000"/><stop offset="0.965" stop-color="#ac0000"/><stop offset="0.969" stop-color="#db0000"/><stop offset="0.977" stop-color="#d90000"/><stop offset="0.981" stop-color="#bf0000"/><stop offset="0.986" stop-color="#4d0000"/><stop offset="0.990" stop-color="#2c0000"/><stop offset="0.994" stop-color="#210000"/><stop offset="0.998" stop-color="#1c0000"/></linearGradient><linearGradient id="g131" x1="0" y1="0" x2="0" y2="1"><stop offset="0.000" stop-color="#000000"/><stop offset="0.272" stop-color="#010000"/><stop offset="0.425" stop-color="#170000"/><stop offset="0.540" stop-color="#240000"/><stop offset="0.557" stop-color="#2b0000"/><stop offset="0.602" stop-color="#400000"/><stop offset="0.635" stop-color="#530000"/><stop offset="0.656" stop-color="#530000"/><stop offset="0.676" stop-color="#630000"/><stop offset="0.693" stop-color="#710000"/><stop offset="0.718" stop-color="#740000"/><stop offset="0.742" stop-color="#840000"/><stop offset="0.775" stop-color="#900000"/><stop offset="0.800" stop-color="#a60000"/><stop offset="0.808" stop-color="#a80000"/><stop offset="0.825" stop-color="#a10000"/><stop offset="0.833" stop-color="#a60000"/><stop offset="0.845" stop-color="#b30000"/><stop offset="0.854" stop-color="#b70000"/><stop offset="0.887" stop-color="#c10000"/><stop offset="0.903" stop-color="#cb0000"/><stop offset="0.920" stop-color="#d40000"/><stop offset="0.928" stop-color="#ca0000"/><stop offset="0.936" stop-color="#b70000"/><stop offset="0.940" stop-color="#aa0000"/><stop offset="0.953" stop-color="#a40000"/><stop offset="0.961" stop-color="#a40000"/><stop offset="0.965" stop-color="#bc0000"/><stop offset="0.969" stop-color="#de0000"/><stop offset="0.977" stop-color="#dc0000"/><stop offset="0.981" stop-color="#c30000"/><stop offset="0.986" stop-color="#4f0000"/><stop offset="0.990" stop-color="#2c0000"/><stop offset="0.994" stop-color="#210000"/><stop offset="0.998" stop-color="#1c0000"/></linearGradient><linearGradient id="g132" x1="0" y1="0" x2="0" y2="1"><stop offset="0.000" stop-color="#000000"/><stop offset="0.239" stop-color="#010000"/><stop offset="0.441" stop-color="#090000"/><stop offset="0.499" stop-color="#0d0000"/><stop offset="0.561" stop-color="#180000"/><stop offset="0.610" stop-color="#250000"/><stop offset="0.635" stop-color="#330000"/><stop offset="0.652" stop-color="#330000"/><stop offset="0.693" stop-color="#440000"/><stop offset="0.718" stop-color="#420000"/><stop offset="0.726" stop-color="#470000"/><stop offset="0.742" stop-color="#5b0000"/><stop offset="0.775" stop-color="#700000"/><stop offset="0.784" stop-color="#7a0000"/><stop offset="0.800" stop-color="#970000"/><stop offset="0.808" stop-color="#9c0000"/><stop offset="0.825" stop-color="#9a0000"/><stop offset="0.833" stop-color="#a00000"/><stop offset="0.845" stop-color="#af0000"/><stop offset="0.862" stop-color="#b80000"/><stop offset="0.874" stop-color="#c40000"/><stop offset="0.899" stop-color="#d00000"/><stop offset="0.915" stop-color="#d30000"/><stop offset="0.920" stop-color="#d50000"/><stop offset="0.928" stop-color="#cd0000"/><stop offset="0.932" stop-color="#c10000"/><stop offset="0.940" stop-color="#9a0000"/><stop offset="0.953" stop-color="#900000"/><stop offset="0.961" stop-color="#8e0000"/><stop offset="0.965" stop-color="#af0000"/><stop offset="0.969" stop-color="#dd0000"/><stop offset="0.977" stop-color="#e00000"/><stop offset="0.981" stop-color="#ca0000"/><stop offset="0.986" stop-color="#520000"/><stop offset="0.990" stop-color="#2c0000"/><stop offset="0.994" stop-color="#210000"/><stop offset="0.998" stop-color="#1c0000"/></linearGradient><linearGradient id="g133" x1="0" y1="0" x2="0" y2="1"><stop offset="0.000" stop-color="#000000"/><stop offset="0.276" stop-color="#010000"/><stop offset="0.445" stop-color="#0a0000"/><stop offset="0.503" stop-color="#0d0000"/><stop offset="0.532" stop-color="#0c0000"/><stop offset="0.577" stop-color="#220000"/><stop offset="0.594" stop-color="#2a0000"/><stop offset="0.614" stop-color="#340000"/><stop offset="0.631" stop-color="#3e0000"/><stop offset="0.652" stop-color="#3e0000"/><stop offset="0.676" stop-color="#4a0000"/><stop offset="0.718" stop-color="#4c0000"/><stop offset="0.726" stop-color="#520000"/><stop offset="0.742" stop-color="#670000"/><stop offset="0.763" stop-color="#750000"/><stop offset="0.784" stop-color="#900000"/><stop offset="0.796" stop-color="#a30000"/><stop offset="0.804" stop-color="#a60000"/><stop offset="0.825" stop-color="#a50000"/><stop offset="0.845" stop-color="#b20000"/><stop offset="0.858" stop-color="#b40000"/><stop offset="0.866" stop-color="#bb0000"/><stop offset="0.874" stop-color="#c50000"/><stop offset="0.895" stop-color="#d40000"/><stop offset="0.903" stop-color="#d30000"/><stop offset="0.920" stop-color="#ce0000"/><stop offset="0.928" stop-color="#c20000"/><stop offset="0.932" stop-color="#b70000"/><stop offset="0.940" stop-color="#930000"/><stop offset="0.961" stop-color="#8f0000"/><stop offset="0.965" stop-color="#b20000"/><stop offset="0.969" stop-color="#e40000"/><stop offset="0.977" stop-color="#e70000"/><stop offset="0.981" stop-color="#d00000"/><stop offset="0.986" stop-color="#530000"/><stop offset="0.990" stop-color="#2c0000"/><stop offset="0.994" stop-color="#210000"/><stop offset="0.998" stop-color="#1c0000"/></linearGradient><linearGradient id="g134" x1="0" y1="0" x2="0" y2="1"><stop offset="0.000" stop-color="#000000"/><stop offset="0.276" stop-color="#010000"/><stop offset="0.441" stop-color="#0c0000"/><stop offset="0.499" stop-color="#100000"/><stop offset="0.520" stop-color="#0f0000"/><stop offset="0.536" stop-color="#0e0000"/><stop offset="0.569" stop-color="#1b0000"/><stop offset="0.586" stop-color="#270000"/><stop offset="0.610" stop-color="#300000"/><stop offset="0.631" stop-color="#3e0000"/><stop offset="0.652" stop-color="#420000"/><stop offset="0.672" stop-color="#520000"/><stop offset="0.697" stop-color="#570000"/><stop offset="0.722" stop-color="#5e0000"/><stop offset="0.742" stop-color="#6e0000"/><stop offset="0.759" stop-color="#730000"/><stop offset="0.767" stop-color="#7d0000"/><stop offset="0.788" stop-color="#9c0000"/><stop offset="0.796" stop-color="#a30000"/><stop offset="0.812" stop-color="#a10000"/><stop offset="0.841" stop-color="#b30000"/><stop offset="0.858" stop-color="#b40000"/><stop offset="0.866" stop-color="#ba0000"/><stop offset="0.887" stop-color="#cf0000"/><stop offset="0.895" stop-color="#d60000"/><stop offset="0.903" stop-color="#d70000"/><stop offset="0.920" stop-color="#cb0000"/><stop offset="0.928" stop-color="#b90000"/><stop offset="0.940" stop-color="#920000"/><stop offset="0.961" stop-color="#9a0000"/><stop offset="0.965" stop-color="#bb0000"/><stop offset="0.969" stop-color="#e30000"/><stop offset="0.977" stop-color="#e30000"/><stop offset="0.981" stop-color="#cf0000"/><stop offset="0.986" stop-color="#510000"/><stop offset="0.990" stop-color="#2c0000"/><stop offset="0.994" stop-color="#210000"/><stop offset="0.998" stop-color="#1c0000"/></linearGradient><linearGradient id="g135" x1="0" y1="0" x2="0" y2="1"><stop offset="0.000" stop-color="#000000"/><stop offset="0.346" stop-color="#010000"/><stop offset="0.515" stop-color="#0b0000"/><stop offset="0.553" stop-color="#0a0000"/><stop offset="0.594" stop-color="#0f0000"/><stop offset="0.606" stop-color="#0b0000"/><stop offset="0.635" stop-color="#1e0000"/><stop offset="0.652" stop-color="#270000"/><stop offset="0.668" stop-color="#390000"/><stop offset="0.701" stop-color="#4c0000"/><stop offset="0.742" stop-color="#6f0000"/><stop offset="0.759" stop-color="#760000"/><stop offset="0.771" stop-color="#860000"/><stop offset="0.788" stop-color="#9c0000"/><stop offset="0.796" stop-color="#a10000"/><stop offset="0.812" stop-color="#a30000"/><stop offset="0.837" stop-color="#b30000"/><stop offset="0.870" stop-color="#b80000"/><stop offset="0.899" stop-color="#ce0000"/><stop offset="0.911" stop-color="#cb0000"/><stop offset="0.920" stop-color="#c40000"/><stop offset="0.928" stop-color="#b10000"/><stop offset="0.936" stop-color="#a60000"/><stop offset="0.940" stop-color="#a30000"/><stop offset="0.961" stop-color="#ae0000"/><stop offset="0.965" stop-color="#c80000"/><stop offset="0.969" stop-color="#dc0000"/><stop offset="0.977" stop-color="#dc0000"/><stop offset="0.981" stop-color="#cc0000"/><stop offset="0.986" stop-color="#500000"/><stop offset="0.990" stop-color="#2c0000"/><stop offset="0.994" stop-color="#210000"/><stop offset="0.998" stop-color="#1c0000"/></linearGradient><linearGradient id="g136" x1="0" y1="0" x2="0" y2="1"><stop offset="0.000" stop-color="#000000"/><stop offset="0.309" stop-color="#010000"/><stop offset="0.495" stop-color="#0b0000"/><stop offset="0.536" stop-color="#0b0000"/><stop offset="0.565" stop-color="#0f0000"/><stop offset="0.573" stop-color="#220000"/><stop offset="0.631" stop-color="#2e0000"/><stop offset="0.643" stop-color="#2d0000"/><stop offset="0.689" stop-color="#470000"/><stop offset="0.705" stop-color="#4b0000"/><stop offset="0.734" stop-color="#620000"/><stop offset="0.751" stop-color="#6b0000"/><stop offset="0.763" stop-color="#730000"/><stop offset="0.784" stop-color="#8c0000"/><stop offset="0.796" stop-color="#940000"/><stop offset="0.812" stop-color="#9b0000"/><stop offset="0.829" stop-color="#a80000"/><stop offset="0.854" stop-color="#b20000"/><stop offset="0.862" stop-color="#b70000"/><stop offset="0.874" stop-color="#b40000"/><stop offset="0.891" stop-color="#bd0000"/><stop offset="0.899" stop-color="#c60000"/><stop offset="0.911" stop-color="#c60000"/><stop offset="0.920" stop-color="#c00000"/><stop offset="0.936" stop-color="#9e0000"/><stop offset="0.940" stop-color="#980000"/><stop offset="0.957" stop-color="#a00000"/><stop offset="0.961" stop-color="#a00000"/><stop offset="0.969" stop-color="#da0000"/><stop offset="0.977" stop-color="#da0000"/><stop offset="0.981" stop-color="#c40000"/><stop offset="0.986" stop-color="#4f0000"/><stop offset="0.990" stop-color="#2c0000"/><stop offset="0.994" stop-color="#210000"/><stop offset="0.998" stop-color="#1c0000"/></linearGradient><linearGradient id="g137" x1="0" y1="0" x2="0" y2="1"><stop offset="0.000" stop-color="#000000"/><stop offset="0.289" stop-color="#010000"/><stop offset="0.449" stop-color="#0b0000"/><stop offset="0.536" stop-color="#0d0000"/><stop offset="0.548" stop-color="#0e0000"/><stop offset="0.581" stop-color="#1b0000"/><stop offset="0.606" stop-color="#230000"/><stop offset="0.623" stop-color="#2e0000"/><stop offset="0.643" stop-color="#2d0000"/><stop offset="0.660" stop-color="#370000"/><stop offset="0.685" stop-color="#4f0000"/><stop offset="0.701" stop-color="#550000"/><stop offset="0.763" stop-color="#6b0000"/><stop offset="0.784" stop-color="#860000"/><stop offset="0.837" stop-color="#a50000"/><stop offset="0.858" stop-color="#b70000"/><stop offset="0.866" stop-color="#b80000"/><stop offset="0.874" stop-color="#b50000"/><stop offset="0.891" stop-color="#bc0000"/><stop offset="0.903" stop-color="#c90000"/><stop offset="0.911" stop-color="#c90000"/><stop offset="0.920" stop-color="#c20000"/><stop offset="0.928" stop-color="#af0000"/><stop offset="0.940" stop-color="#9e0000"/><stop offset="0.957" stop-color="#a30000"/><stop offset="0.961" stop-color="#a20000"/><stop offset="0.965" stop-color="#b30000"/><stop offset="0.969" stop-color="#cb0000"/><stop offset="0.977" stop-color="#c90000"/><stop offset="0.981" stop-color="#b40000"/><stop offset="0.986" stop-color="#4d0000"/><stop offset="0.990" stop-color="#2c0000"/><stop offset="0.994" stop-color="#210000"/><stop offset="0.998" stop-color="#1c0000"/></linearGradient><linearGradient id="g138" x1="0" y1="0" x2="0" y2="1"><stop offset="0.000" stop-color="#000000"/><stop offset="0.379" stop-color="#010000"/><stop offset="0.503" stop-color="#060000"/><stop offset="0.532" stop-color="#060000"/><stop offset="0.602" stop-color="#030000"/><stop offset="0.623" stop-color="#080000"/><stop offset="0.627" stop-color="#080000"/><stop offset="0.639" stop-color="#190000"/><stop offset="0.660" stop-color="#250000"/><stop offset="0.680" stop-color="#3c0000"/><stop offset="0.722" stop-color="#450000"/><stop offset="0.734" stop-color="#440000"/><stop offset="0.742" stop-color="#470000"/><stop offset="0.763" stop-color="#5e0000"/><stop offset="0.779" stop-color="#7a0000"/><stop offset="0.800" stop-color="#900000"/><stop offset="0.812" stop-color="#9a0000"/><stop offset="0.833" stop-color="#9a0000"/><stop offset="0.845" stop-color="#a30000"/><stop offset="0.858" stop-color="#b30000"/><stop offset="0.862" stop-color="#b50000"/><stop offset="0.874" stop-color="#ad0000"/><stop offset="0.887" stop-color="#b00000"/><stop offset="0.903" stop-color="#bd0000"/><stop offset="0.911" stop-color="#bc0000"/><stop offset="0.920" stop-color="#b60000"/><stop offset="0.928" stop-color="#a70000"/><stop offset="0.932" stop-color="#a50000"/><stop offset="0.940" stop-color="#ac0000"/><stop offset="0.961" stop-color="#ad0000"/><stop offset="0.969" stop-color="#b80000"/><stop offset="0.977" stop-color="#b80000"/><stop offset="0.981" stop-color="#a80000"/><stop offset="0.986" stop-color="#4c0000"/><stop offset="0.990" stop-color="#2c0000"/><stop offset="0.994" stop-color="#210000"/><stop offset="0.998" stop-color="#1c0000"/></linearGradient><linearGradient id="g139" x1="0" y1="0" x2="0" y2="1"><stop offset="0.000" stop-color="#000000"/><stop offset="0.272" stop-color="#010000"/><stop offset="0.466" stop-color="#090000"/><stop offset="0.548" stop-color="#0f0000"/><stop offset="0.598" stop-color="#150000"/><stop offset="0.643" stop-color="#260000"/><stop offset="0.660" stop-color="#2b0000"/><stop offset="0.676" stop-color="#390000"/><stop offset="0.697" stop-color="#390000"/><stop offset="0.718" stop-color="#460000"/><stop offset="0.734" stop-color="#470000"/><stop offset="0.751" stop-color="#500000"/><stop offset="0.763" stop-color="#540000"/><stop offset="0.784" stop-color="#6b0000"/><stop offset="0.804" stop-color="#800000"/><stop offset="0.812" stop-color="#870000"/><stop offset="0.821" stop-color="#890000"/><stop offset="0.833" stop-color="#8a0000"/><stop offset="0.854" stop-color="#990000"/><stop offset="0.862" stop-color="#a10000"/><stop offset="0.891" stop-color="#ad0000"/><stop offset="0.899" stop-color="#b20000"/><stop offset="0.920" stop-color="#a80000"/><stop offset="0.928" stop-color="#9d0000"/><stop offset="0.932" stop-color="#9e0000"/><stop offset="0.940" stop-color="#aa0000"/><stop offset="0.977" stop-color="#a40000"/><stop offset="0.981" stop-color="#960000"/><stop offset="0.986" stop-color="#480000"/><stop offset="0.990" stop-color="#2c0000"/><stop offset="0.994" stop-color="#210000"/><stop offset="0.998" stop-color="#1c0000"/></linearGradient><linearGradient id="g140" x1="0" y1="0" x2="0" y2="1"><stop offset="0.000" stop-color="#000000"/><stop offset="0.276" stop-color="#010000"/><stop offset="0.429" stop-color="#0a0000"/><stop offset="0.499" stop-color="#0e0000"/><stop offset="0.536" stop-color="#120000"/><stop offset="0.561" stop-color="#170000"/><stop offset="0.594" stop-color="#1d0000"/><stop offset="0.631" stop-color="#2e0000"/><stop offset="0.660" stop-color="#330000"/><stop offset="0.676" stop-color="#3c0000"/><stop offset="0.697" stop-color="#3d0000"/><stop offset="0.718" stop-color="#4d0000"/><stop offset="0.738" stop-color="#4e0000"/><stop offset="0.763" stop-color="#5c0000"/><stop offset="0.779" stop-color="#6b0000"/><stop offset="0.796" stop-color="#730000"/><stop offset="0.812" stop-color="#840000"/><stop offset="0.833" stop-color="#890000"/><stop offset="0.849" stop-color="#980000"/><stop offset="0.862" stop-color="#a90000"/><stop offset="0.891" stop-color="#b80000"/><stop offset="0.899" stop-color="#bb0000"/><stop offset="0.915" stop-color="#ae0000"/><stop offset="0.920" stop-color="#ad0000"/><stop offset="0.940" stop-color="#970000"/><stop offset="0.961" stop-color="#910000"/><stop offset="0.969" stop-color="#990000"/><stop offset="0.977" stop-color="#940000"/><stop offset="0.981" stop-color="#850000"/><stop offset="0.986" stop-color="#440000"/><stop offset="0.990" stop-color="#2c0000"/><stop offset="0.994" stop-color="#210000"/><stop offset="0.998" stop-color="#1c0000"/></linearGradient><linearGradient id="g141" x1="0" y1="0" x2="0" y2="1"><stop offset="0.000" stop-color="#000000"/><stop offset="0.210" stop-color="#010000"/><stop offset="0.429" stop-color="#0a0000"/><stop offset="0.491" stop-color="#0e0000"/><stop offset="0.548" stop-color="#190000"/><stop offset="0.602" stop-color="#1c0000"/><stop offset="0.631" stop-color="#200000"/><stop offset="0.652" stop-color="#1d0000"/><stop offset="0.660" stop-color="#1f0000"/><stop offset="0.685" stop-color="#2f0000"/><stop offset="0.709" stop-color="#3e0000"/><stop offset="0.722" stop-color="#440000"/><stop offset="0.738" stop-color="#3c0000"/><stop offset="0.746" stop-color="#3d0000"/><stop offset="0.759" stop-color="#480000"/><stop offset="0.775" stop-color="#5b0000"/><stop offset="0.804" stop-color="#660000"/><stop offset="0.821" stop-color="#740000"/><stop offset="0.837" stop-color="#850000"/><stop offset="0.854" stop-color="#a00000"/><stop offset="0.862" stop-color="#a80000"/><stop offset="0.874" stop-color="#a60000"/><stop offset="0.891" stop-color="#b10000"/><stop offset="0.895" stop-color="#b60000"/><stop offset="0.903" stop-color="#b50000"/><stop offset="0.915" stop-color="#ac0000"/><stop offset="0.920" stop-color="#ab0000"/><stop offset="0.940" stop-color="#900000"/><stop offset="0.961" stop-color="#8b0000"/><stop offset="0.969" stop-color="#930000"/><stop offset="0.977" stop-color="#8c0000"/><stop offset="0.981" stop-color="#7d0000"/><stop offset="0.986" stop-color="#420000"/><stop offset="0.990" stop-color="#2c0000"/><stop offset="0.994" stop-color="#210000"/><stop offset="0.998" stop-color="#1c0000"/></linearGradient><linearGradient id="g142" x1="0" y1="0" x2="0" y2="1"><stop offset="0.000" stop-color="#000000"/><stop offset="0.371" stop-color="#010000"/><stop offset="0.491" stop-color="#0a0000"/><stop offset="0.532" stop-color="#0f0000"/><stop offset="0.573" stop-color="#110000"/><stop offset="0.606" stop-color="#110000"/><stop offset="0.635" stop-color="#120000"/><stop offset="0.664" stop-color="#1e0000"/><stop offset="0.697" stop-color="#390000"/><stop offset="0.726" stop-color="#480000"/><stop offset="0.746" stop-color="#420000"/><stop offset="0.755" stop-color="#460000"/><stop offset="0.779" stop-color="#5f0000"/><stop offset="0.796" stop-color="#670000"/><stop offset="0.808" stop-color="#690000"/><stop offset="0.825" stop-color="#7d0000"/><stop offset="0.841" stop-color="#8d0000"/><stop offset="0.849" stop-color="#9a0000"/><stop offset="0.858" stop-color="#880000"/><stop offset="0.866" stop-color="#7f0000"/><stop offset="0.874" stop-color="#7c0000"/><stop offset="0.887" stop-color="#850000"/><stop offset="0.899" stop-color="#940000"/><stop offset="0.907" stop-color="#920000"/><stop offset="0.920" stop-color="#8a0000"/><stop offset="0.928" stop-color="#7e0000"/><stop offset="0.936" stop-color="#7d0000"/><stop offset="0.961" stop-color="#7c0000"/><stop offset="0.969" stop-color="#890000"/><stop offset="0.977" stop-color="#850000"/><stop offset="0.981" stop-color="#770000"/><stop offset="0.986" stop-color="#420000"/><stop offset="0.990" stop-color="#2c0000"/><stop offset="0.994" stop-color="#210000"/><stop offset="0.998" stop-color="#1c0000"/></linearGradient><linearGradient id="g143" x1="0" y1="0" x2="0" y2="1"><stop offset="0.000" stop-color="#000000"/><stop offset="0.363" stop-color="#010000"/><stop offset="0.491" stop-color="#060000"/><stop offset="0.553" stop-color="#0a0000"/><stop offset="0.581" stop-color="#0a0000"/><stop offset="0.602" stop-color="#060000"/><stop offset="0.647" stop-color="#140000"/><stop offset="0.668" stop-color="#110000"/><stop offset="0.701" stop-color="#1b0000"/><stop offset="0.713" stop-color="#1e0000"/><stop offset="0.726" stop-color="#230000"/><stop offset="0.751" stop-color="#220000"/><stop offset="0.775" stop-color="#320000"/><stop offset="0.796" stop-color="#430000"/><stop offset="0.812" stop-color="#440000"/><stop offset="0.845" stop-color="#680000"/><stop offset="0.858" stop-color="#7b0000"/><stop offset="0.862" stop-color="#7d0000"/><stop offset="0.874" stop-color="#760000"/><stop offset="0.882" stop-color="#7b0000"/><stop offset="0.895" stop-color="#8b0000"/><stop offset="0.903" stop-color="#8f0000"/><stop offset="0.920" stop-color="#850000"/><stop offset="0.928" stop-color="#770000"/><stop offset="0.936" stop-color="#760000"/><stop offset="0.973" stop-color="#7c0000"/><stop offset="0.977" stop-color="#7b0000"/><stop offset="0.981" stop-color="#710000"/><stop offset="0.986" stop-color="#420000"/><stop offset="0.990" stop-color="#2c0000"/><stop offset="0.994" stop-color="#210000"/><stop offset="0.998" stop-color="#1c0000"/></linearGradient><linearGradient id="g144" x1="0" y1="0" x2="0" y2="1"><stop offset="0.000" stop-color="#000000"/><stop offset="0.355" stop-color="#010000"/><stop offset="0.511" stop-color="#0a0000"/><stop offset="0.581" stop-color="#0d0000"/><stop offset="0.602" stop-color="#090000"/><stop offset="0.610" stop-color="#100000"/><stop offset="0.619" stop-color="#150000"/><stop offset="0.643" stop-color="#1f0000"/><stop offset="0.668" stop-color="#150000"/><stop offset="0.685" stop-color="#1c0000"/><stop offset="0.705" stop-color="#1b0000"/><stop offset="0.722" stop-color="#240000"/><stop offset="0.738" stop-color="#220000"/><stop offset="0.755" stop-color="#280000"/><stop offset="0.771" stop-color="#250000"/><stop offset="0.784" stop-color="#2c0000"/><stop offset="0.800" stop-color="#380000"/><stop offset="0.816" stop-color="#3d0000"/><stop offset="0.829" stop-color="#450000"/><stop offset="0.837" stop-color="#470000"/><stop offset="0.841" stop-color="#520000"/><stop offset="0.849" stop-color="#700000"/><stop offset="0.858" stop-color="#710000"/><stop offset="0.874" stop-color="#690000"/><stop offset="0.882" stop-color="#6c0000"/><stop offset="0.899" stop-color="#790000"/><stop offset="0.915" stop-color="#740000"/><stop offset="0.924" stop-color="#6b0000"/><stop offset="0.928" stop-color="#650000"/><stop offset="0.932" stop-color="#660000"/><stop offset="0.940" stop-color="#790000"/><stop offset="0.961" stop-color="#810000"/><stop offset="0.965" stop-color="#7d0000"/><stop offset="0.969" stop-color="#750000"/><stop offset="0.977" stop-color="#760000"/><stop offset="0.981" stop-color="#6d0000"/><stop offset="0.986" stop-color="#420000"/><stop offset="0.990" stop-color="#2c0000"/><stop offset="0.994" stop-color="#210000"/><stop offset="0.998" stop-color="#1c0000"/></linearGradient><linearGradient id="g145" x1="0" y1="0" x2="0" y2="1"><stop offset="0.000" stop-color="#000000"/><stop offset="0.346" stop-color="#010000"/><stop offset="0.503" stop-color="#090000"/><stop offset="0.532" stop-color="#0e0000"/><stop offset="0.606" stop-color="#0c0000"/><stop offset="0.639" stop-color="#1a0000"/><stop offset="0.647" stop-color="#190000"/><stop offset="0.660" stop-color="#130000"/><stop offset="0.668" stop-color="#170000"/><stop offset="0.680" stop-color="#200000"/><stop offset="0.689" stop-color="#1e0000"/><stop offset="0.697" stop-color="#170000"/><stop offset="0.705" stop-color="#170000"/><stop offset="0.730" stop-color="#220000"/><stop offset="0.751" stop-color="#280000"/><stop offset="0.771" stop-color="#180000"/><stop offset="0.808" stop-color="#2c0000"/><stop offset="0.825" stop-color="#3c0000"/><stop offset="0.845" stop-color="#400000"/><stop offset="0.849" stop-color="#430000"/><stop offset="0.858" stop-color="#5d0000"/><stop offset="0.862" stop-color="#620000"/><stop offset="0.874" stop-color="#620000"/><stop offset="0.899" stop-color="#6f0000"/><stop offset="0.915" stop-color="#670000"/><stop offset="0.920" stop-color="#670000"/><stop offset="0.928" stop-color="#600000"/><stop offset="0.932" stop-color="#630000"/><stop offset="0.940" stop-color="#790000"/><stop offset="0.961" stop-color="#820000"/><stop offset="0.969" stop-color="#760000"/><stop offset="0.977" stop-color="#750000"/><stop offset="0.981" stop-color="#6c0000"/><stop offset="0.986" stop-color="#420000"/><stop offset="0.990" stop-color="#2c0000"/><stop offset="0.994" stop-color="#210000"/><stop offset="0.998" stop-color="#1c0000"/></linearGradient><linearGradient id="g146" x1="0" y1="0" x2="0" y2="1"><stop offset="0.000" stop-color="#000000"/><stop offset="0.309" stop-color="#010000"/><stop offset="0.487" stop-color="#0a0000"/><stop offset="0.503" stop-color="#0b0000"/><stop offset="0.524" stop-color="#140000"/><stop offset="0.577" stop-color="#120000"/><stop offset="0.586" stop-color="#130000"/><stop offset="0.602" stop-color="#0e0000"/><stop offset="0.627" stop-color="#170000"/><stop offset="0.647" stop-color="#130000"/><stop offset="0.656" stop-color="#100000"/><stop offset="0.664" stop-color="#140000"/><stop offset="0.676" stop-color="#240000"/><stop offset="0.685" stop-color="#250000"/><stop offset="0.701" stop-color="#180000"/><stop offset="0.738" stop-color="#260000"/><stop offset="0.746" stop-color="#280000"/><stop offset="0.755" stop-color="#250000"/><stop offset="0.771" stop-color="#160000"/><stop offset="0.784" stop-color="#170000"/><stop offset="0.796" stop-color="#1d0000"/><stop offset="0.804" stop-color="#1f0000"/><stop offset="0.812" stop-color="#260000"/><stop offset="0.821" stop-color="#300000"/><stop offset="0.829" stop-color="#340000"/><stop offset="0.845" stop-color="#330000"/><stop offset="0.849" stop-color="#350000"/><stop offset="0.858" stop-color="#590000"/><stop offset="0.862" stop-color="#620000"/><stop offset="0.874" stop-color="#6b0000"/><stop offset="0.887" stop-color="#770000"/><stop offset="0.899" stop-color="#7a0000"/><stop offset="0.911" stop-color="#730000"/><stop offset="0.924" stop-color="#740000"/><stop offset="0.932" stop-color="#730000"/><stop offset="0.948" stop-color="#7b0000"/><stop offset="0.961" stop-color="#7c0000"/><stop offset="0.969" stop-color="#710000"/><stop offset="0.977" stop-color="#700000"/><stop offset="0.981" stop-color="#680000"/><stop offset="0.986" stop-color="#410000"/><stop offset="0.990" stop-color="#2c0000"/><stop offset="0.994" stop-color="#210000"/><stop offset="0.998" stop-color="#1c0000"/></linearGradient><linearGradient id="le" x1="0" y1="0" x2="0" y2="1"><stop offset="0" stop-color="#000"/><stop offset="0.25" stop-color="#050000"/><stop offset="0.55" stop-color="#1a0000"/><stop offset="0.9" stop-color="#2a0000"/><stop offset="0.96" stop-color="#4a0000"/><stop offset="1" stop-color="#240000"/></linearGradient><linearGradient id="s0" x1="0" y1="0" x2="0" y2="1"><stop offset="0" stop-color="#000"/><stop offset="0.35" stop-color="#0a0000"/><stop offset="0.7" stop-color="#190000"/><stop offset="0.9" stop-color="#420000"/><stop offset="1" stop-color="#4c0000"/></linearGradient><linearGradient id="s1" x1="0" y1="0" x2="0" y2="1"><stop offset="0" stop-color="#000"/><stop offset="0.35" stop-color="#0a0000"/><stop offset="0.7" stop-color="#140000"/><stop offset="0.9" stop-color="#330000"/><stop offset="1" stop-color="#3d0000"/></linearGradient><linearGradient id="s2" x1="0" y1="0" x2="0" y2="1"><stop offset="0" stop-color="#000"/><stop offset="0.35" stop-color="#0a0000"/><stop offset="0.7" stop-color="#1c0000"/><stop offset="0.9" stop-color="#470000"/><stop offset="1" stop-color="#540000"/></linearGradient>
</defs>
<rect width="550" height="507" fill="#fff"/>
<g filter="url(#cm)"><rect x="69" y="88" width="3.3" height="242.5" fill="url(#g0)"/><rect x="72" y="88" width="3.3" height="242.5" fill="url(#g1)"/><rect x="75" y="88" width="3.3" height="242.5" fill="url(#g2)"/><rect x="78" y="88" width="3.3" height="242.5" fill="url(#g3)"/><rect x="81" y="88" width="3.3" height="242.5" fill="url(#g4)"/><rect x="84" y="88" width="3.3" height="242.5" fill="url(#g5)"/><rect x="87" y="88" width="3.3" height="242.5" fill="url(#g6)"/><rect x="90" y="88" width="3.3" height="242.5" fill="url(#g7)"/><rect x="93" y="88" width="3.3" height="242.5" fill="url(#g8)"/><rect x="96" y="88" width="3.3" height="242.5" fill="url(#g9)"/><rect x="99" y="88" width="3.3" height="242.5" fill="url(#g10)"/><rect x="102" y="88" width="3.3" height="242.5" fill="url(#g11)"/><rect x="105" y="88" width="3.3" height="242.5" fill="url(#g12)"/><rect x="108" y="88" width="3.3" height="242.5" fill="url(#g13)"/><rect x="111" y="88" width="3.3" height="242.5" fill="url(#g14)"/><rect x="114" y="88" width="3.3" height="242.5" fill="url(#g15)"/><rect x="117" y="88" width="3.3" height="242.5" fill="url(#g16)"/><rect x="120" y="88" width="3.3" height="242.5" fill="url(#g17)"/><rect x="123" y="88" width="3.3" height="242.5" fill="url(#g18)"/><rect x="126" y="88" width="3.3" height="242.5" fill="url(#g19)"/><rect x="129" y="88" width="3.3" height="242.5" fill="url(#g20)"/><rect x="132" y="88" width="3.3" height="242.5" fill="url(#g21)"/><rect x="135" y="88" width="3.3" height="242.5" fill="url(#g22)"/><rect x="138" y="88" width="3.3" height="242.5" fill="url(#g23)"/><rect x="141" y="88" width="3.3" height="242.5" fill="url(#g24)"/><rect x="144" y="88" width="3.3" height="242.5" fill="url(#g25)"/><rect x="147" y="88" width="3.3" height="242.5" fill="url(#g26)"/><rect x="150" y="88" width="3.3" height="242.5" fill="url(#g27)"/><rect x="153" y="88" width="3.3" height="242.5" fill="url(#g28)"/><rect x="156" y="88" width="3.3" height="242.5" fill="url(#g29)"/><rect x="159" y="88" width="3.3" height="242.5" fill="url(#g30)"/><rect x="162" y="88" width="3.3" height="242.5" fill="url(#g31)"/><rect x="165" y="88" width="3.3" height="242.5" fill="url(#g32)"/><rect x="168" y="88" width="3.3" height="242.5" fill="url(#g33)"/><rect x="171" y="88" width="3.3" height="242.5" fill="url(#g34)"/><rect x="174" y="88" width="3.3" height="242.5" fill="url(#g35)"/><rect x="177" y="88" width="3.3" height="242.5" fill="url(#g36)"/><rect x="180" y="88" width="3.3" height="242.5" fill="url(#g37)"/><rect x="183" y="88" width="3.3" height="242.5" fill="url(#g38)"/><rect x="186" y="88" width="3.3" height="242.5" fill="url(#g39)"/><rect x="189" y="88" width="3.3" height="242.5" fill="url(#g40)"/><rect x="192" y="88" width="3.3" height="242.5" fill="url(#g41)"/><rect x="195" y="88" width="3.3" height="242.5" fill="url(#g42)"/><rect x="198" y="88" width="3.3" height="242.5" fill="url(#g43)"/><rect x="201" y="88" width="3.3" height="242.5" fill="url(#g44)"/><rect x="204" y="88" width="3.3" height="242.5" fill="url(#g45)"/><rect x="207" y="88" width="3.3" height="242.5" fill="url(#g46)"/><rect x="210" y="88" width="3.3" height="242.5" fill="url(#g47)"/><rect x="213" y="88" width="3.3" height="242.5" fill="url(#g48)"/><rect x="216" y="88" width="3.3" height="242.5" fill="url(#g49)"/><rect x="219" y="88" width="3.3" height="242.5" fill="url(#g50)"/><rect x="222" y="88" width="3.3" height="242.5" fill="url(#g51)"/><rect x="225" y="88" width="3.3" height="242.5" fill="url(#g52)"/><rect x="228" y="88" width="3.3" height="242.5" fill="url(#g53)"/><rect x="231" y="88" width="3.3" height="242.5" fill="url(#g54)"/><rect x="234" y="88" width="3.3" height="242.5" fill="url(#g55)"/><rect x="237" y="88" width="3.3" height="242.5" fill="url(#g56)"/><rect x="240" y="88" width="3.3" height="242.5" fill="url(#g57)"/><rect x="243" y="88" width="3.3" height="242.5" fill="url(#g58)"/><rect x="246" y="88" width="3.3" height="242.5" fill="url(#g59)"/><rect x="249" y="88" width="3.3" height="242.5" fill="url(#g60)"/><rect x="252" y="88" width="3.3" height="242.5" fill="url(#g61)"/><rect x="255" y="88" width="3.3" height="242.5" fill="url(#g62)"/><rect x="258" y="88" width="3.3" height="242.5" fill="url(#g63)"/><rect x="261" y="88" width="3.3" height="242.5" fill="url(#g64)"/><rect x="264" y="88" width="3.3" height="242.5" fill="url(#g65)"/><rect x="267" y="88" width="3.3" height="242.5" fill="url(#g66)"/><rect x="270" y="88" width="3.3" height="242.5" fill="url(#g67)"/><rect x="273" y="88" width="3.3" height="242.5" fill="url(#g68)"/><rect x="276" y="88" width="3.3" height="242.5" fill="url(#g69)"/><rect x="279" y="88" width="3.3" height="242.5" fill="url(#g70)"/><rect x="282" y="88" width="3.3" height="242.5" fill="url(#g71)"/><rect x="285" y="88" width="3.3" height="242.5" fill="url(#g72)"/><rect x="288" y="88" width="3.3" height="242.5" fill="url(#g73)"/><rect x="291" y="88" width="3.3" height="242.5" fill="url(#g74)"/><rect x="294" y="88" width="3.3" height="242.5" fill="url(#g75)"/><rect x="297" y="88" width="3.3" height="242.5" fill="url(#g76)"/><rect x="300" y="88" width="3.3" height="242.5" fill="url(#g77)"/><rect x="303" y="88" width="3.3" height="242.5" fill="url(#g78)"/><rect x="306" y="88" width="3.3" height="242.5" fill="url(#g79)"/><rect x="309" y="88" width="3.3" height="242.5" fill="url(#g80)"/><rect x="312" y="88" width="3.3" height="242.5" fill="url(#g81)"/><rect x="315" y="88" width="3.3" height="242.5" fill="url(#g82)"/><rect x="318" y="88" width="3.3" height="242.5" fill="url(#g83)"/><rect x="321" y="88" width="3.3" height="242.5" fill="url(#g84)"/><rect x="324" y="88" width="3.3" height="242.5" fill="url(#g85)"/><rect x="327" y="88" width="3.3" height="242.5" fill="url(#g86)"/><rect x="330" y="88" width="3.3" height="242.5" fill="url(#g87)"/><rect x="333" y="88" width="3.3" height="242.5" fill="url(#g88)"/><rect x="336" y="88" width="3.3" height="242.5" fill="url(#g89)"/><rect x="339" y="88" width="3.3" height="242.5" fill="url(#g90)"/><rect x="342" y="88" width="3.3" height="242.5" fill="url(#g91)"/><rect x="345" y="88" width="3.3" height="242.5" fill="url(#g92)"/><rect x="348" y="88" width="3.3" height="242.5" fill="url(#g93)"/><rect x="351" y="88" width="3.3" height="242.5" fill="url(#g94)"/><rect x="354" y="88" width="3.3" height="242.5" fill="url(#g95)"/><rect x="357" y="88" width="3.3" height="242.5" fill="url(#g96)"/><rect x="360" y="88" width="3.3" height="242.5" fill="url(#g97)"/><rect x="363" y="88" width="3.3" height="242.5" fill="url(#g98)"/><rect x="366" y="88" width="3.3" height="242.5" fill="url(#g99)"/><rect x="369" y="88" width="3.3" height="242.5" fill="url(#g100)"/><rect x="372" y="88" width="3.3" height="242.5" fill="url(#g101)"/><rect x="375" y="88" width="3.3" height="242.5" fill="url(#g102)"/><rect x="378" y="88" width="3.3" height="242.5" fill="url(#g103)"/><rect x="381" y="88" width="3.3" height="242.5" fill="url(#g104)"/><rect x="384" y="88" width="3.3" height="242.5" fill="url(#g105)"/><rect x="387" y="88" width="3.3" height="242.5" fill="url(#g106)"/><rect x="390" y="88" width="3.3" height="242.5" fill="url(#g107)"/><rect x="393" y="88" width="3.3" height="242.5" fill="url(#g108)"/><rect x="396" y="88" width="3.3" height="242.5" fill="url(#g109)"/><rect x="399" y="88" width="3.3" height="242.5" fill="url(#g110)"/><rect x="402" y="88" width="3.3" height="242.5" fill="url(#g111)"/><rect x="405" y="88" width="3.3" height="242.5" fill="url(#g112)"/><rect x="408" y="88" width="3.3" height="242.5" fill="url(#g113)"/><rect x="411" y="88" width="3.3" height="242.5" fill="url(#g114)"/><rect x="414" y="88" width="3.3" height="242.5" fill="url(#g115)"/><rect x="417" y="88" width="3.3" height="242.5" fill="url(#g116)"/><rect x="420" y="88" width="3.3" height="242.5" fill="url(#g117)"/><rect x="423" y="88" width="3.3" height="242.5" fill="url(#g118)"/><rect x="426" y="88" width="3.3" height="242.5" fill="url(#g119)"/><rect x="429" y="88" width="3.3" height="242.5" fill="url(#g120)"/><rect x="432" y="88" width="3.3" height="242.5" fill="url(#g121)"/><rect x="435" y="88" width="3.3" height="242.5" fill="url(#g122)"/><rect x="438" y="88" width="3.3" height="242.5" fill="url(#g123)"/><rect x="441" y="88" width="3.3" height="242.5" fill="url(#g124)"/><rect x="444" y="88" width="3.3" height="242.5" fill="url(#g125)"/><rect x="447" y="88" width="3.3" height="242.5" fill="url(#g126)"/><rect x="450" y="88" width="3.3" height="242.5" fill="url(#g127)"/><rect x="453" y="88" width="3.3" height="242.5" fill="url(#g128)"/><rect x="456" y="88" width="3.3" height="242.5" fill="url(#g129)"/><rect x="459" y="88" width="3.3" height="242.5" fill="url(#g130)"/><rect x="462" y="88" width="3.3" height="242.5" fill="url(#g131)"/><rect x="465" y="88" width="3.3" height="242.5" fill="url(#g132)"/><rect x="468" y="88" width="3.3" height="242.5" fill="url(#g133)"/><rect x="471" y="88" width="3.3" height="242.5" fill="url(#g134)"/><rect x="474" y="88" width="3.3" height="242.5" fill="url(#g135)"/><rect x="477" y="88" width="3.3" height="242.5" fill="url(#g136)"/><rect x="480" y="88" width="3.3" height="242.5" fill="url(#g137)"/><rect x="483" y="88" width="3.3" height="242.5" fill="url(#g138)"/><rect x="486" y="88" width="3.3" height="242.5" fill="url(#g139)"/><rect x="489" y="88" width="3.3" height="242.5" fill="url(#g140)"/><rect x="492" y="88" width="3.3" height="242.5" fill="url(#g141)"/><rect x="495" y="88" width="3.3" height="242.5" fill="url(#g142)"/><rect x="498" y="88" width="3.3" height="242.5" fill="url(#g143)"/><rect x="501" y="88" width="3.3" height="242.5" fill="url(#g144)"/><rect x="504" y="88" width="3.3" height="242.5" fill="url(#g145)"/><rect x="507" y="88" width="3.3" height="242.5" fill="url(#g146)"/><rect x="64.6" y="130" width="4.6" height="199" fill="url(#le)"/><rect x="510.3" y="170" width="3.2" height="131" fill="url(#s0)"/><rect x="513.3" y="170" width="3.2" height="131" fill="url(#s1)"/><rect x="516.3" y="170" width="3.2" height="131" fill="url(#s2)"/></g>
<polyline points="64.25,395.0 64.75,393.9 65.25,394.2 65.75,395.0 66.25,395.2 66.75,394.2 67.25,393.9 67.75,395.7 68.25,395.4 68.75,396.3 69.25,396.4 69.75,394.6 70.25,395.7 70.75,394.1 71.25,394.1 71.75,393.0 72.25,392.8 72.75,392.4 73.25,392.6 73.75,390.6 74.25,390.4 74.75,388.8 75.25,390.3 75.75,388.8 76.25,389.3 76.75,389.9 77.25,389.2 77.75,391.8 78.25,390.7 78.75,392.8 79.25,391.8 79.75,393.4 80.25,392.1 80.75,394.3 81.25,394.5 81.75,392.6 82.25,392.5 82.75,394.2 83.25,393.4 83.75,395.4 84.25,394.5 84.75,393.6 85.25,394.1 85.75,395.7 86.25,395.3 86.75,396.1 87.25,395.9 87.75,396.7 88.25,397.0 88.75,394.8 89.25,394.5 89.75,393.2 90.25,392.7 90.75,390.4 91.25,391.4 91.75,387.6 92.25,386.7 92.75,388.8 93.25,388.4 93.75,386.4 94.25,385.3 94.75,386.8 95.25,386.3 95.75,385.1 96.25,384.3 96.75,380.7 97.25,380.3 97.75,378.4 98.25,378.4 98.75,382.3 99.25,382.8 99.75,386.9 100.25,387.2 100.75,392.1 101.25,392.5 101.75,400.1 102.25,400.0 102.75,405.5 103.25,406.5 103.75,409.4 104.25,409.1 104.75,405.5 105.25,406.6 105.75,404.1 106.25,403.7 106.75,397.1 107.25,396.1 107.75,392.2 108.25,390.6 108.75,388.4 109.25,388.2 109.75,391.6 110.25,392.3 110.75,395.3 111.25,395.4 111.75,398.3 112.25,400.2 112.75,397.9 113.25,397.6 113.75,395.9 114.25,395.2 114.75,392.9 115.25,394.2 115.75,396.0 116.25,395.9 116.75,395.1 117.25,396.0 117.75,399.1 118.25,398.7 118.75,400.5 119.25,398.8 119.75,399.9 120.25,397.9 120.75,398.7 121.25,395.7 121.75,397.3 122.25,394.9 122.75,396.5 123.25,396.4 123.75,394.7 124.25,394.4 124.75,392.3 125.25,392.3 125.75,390.1 126.25,390.3 126.75,388.8 127.25,391.2 127.75,395.4 128.25,396.3 128.75,391.6 129.25,391.5 129.75,387.1 130.25,388.9 130.75,392.3 131.25,393.6 131.75,396.4 132.25,397.9 132.75,395.9 133.25,395.9 133.75,394.1 134.25,393.4 134.75,388.3 135.25,388.0 135.75,385.1 136.25,385.1 136.75,387.9 137.25,388.6 137.75,387.8 138.25,388.1 138.75,392.3 139.25,392.2 139.75,394.7 140.25,394.7 140.75,397.2 141.25,395.6 141.75,397.5 142.25,398.2 142.75,400.2 143.25,399.5 143.75,395.1 144.25,394.3 144.75,389.1 145.25,389.5 145.75,386.3 146.25,386.9 146.75,391.6 147.25,390.9 147.75,393.5 148.25,393.4 148.75,396.7 149.25,399.2 149.75,396.1 150.25,396.2 150.75,393.8 151.25,393.2 151.75,391.3 152.25,390.6 152.75,391.0 153.25,391.2 153.75,393.3 154.25,392.2 154.75,395.4 155.25,395.2 155.75,397.2 156.25,396.0 156.75,394.3 157.25,394.6 157.75,392.9 158.25,392.9 158.75,393.7 159.25,393.8 159.75,395.5 160.25,395.1 160.75,396.3 161.25,394.1 161.75,392.8 162.25,393.4 162.75,389.6 163.25,390.4 163.75,388.6 164.25,392.2 164.75,390.0 165.25,390.2 165.75,393.2 166.25,391.9 166.75,395.2 167.25,395.4 167.75,394.7 168.25,395.7 168.75,397.8 169.25,397.0 169.75,394.1 170.25,393.9 170.75,391.6 171.25,392.0 171.75,393.4 172.25,392.5 172.75,394.1 173.25,394.2 173.75,395.4 174.25,394.3 174.75,396.5 175.25,393.6 175.75,396.6 176.25,397.4 176.75,394.9 177.25,393.6 177.75,391.2 178.25,391.0 178.75,387.0 179.25,386.9 179.75,384.0 180.25,385.3 180.75,387.8 181.25,387.0 181.75,390.3 182.25,388.8 182.75,392.1 183.25,392.4 183.75,391.6 184.25,391.5 184.75,388.9 185.25,391.1 185.75,389.3 186.25,387.8 186.75,390.5 187.25,388.3 187.75,392.0 188.25,391.0 188.75,392.8 189.25,390.7 189.75,388.7 190.25,386.9 190.75,391.1 191.25,391.0 191.75,397.1 192.25,396.5 192.75,394.3 193.25,396.4 193.75,391.9 194.25,392.2 194.75,392.6 195.25,391.9 195.75,389.3 196.25,389.6 196.75,386.7 197.25,387.7 197.75,392.5 198.25,390.9 198.75,392.4 199.25,393.5 199.75,390.0 200.25,389.4 200.75,392.2 201.25,389.9 201.75,392.4 202.25,391.1 202.75,393.2 203.25,392.5 203.75,395.5 204.25,394.9 204.75,396.9 205.25,394.3 205.75,401.2 206.25,399.4 206.75,398.5 207.25,399.1 207.75,396.9 208.25,398.2 208.75,396.1 209.25,395.2 209.75,393.2 210.25,392.2 210.75,391.2 211.25,391.6 211.75,386.1 212.25,382.9 212.75,387.0 213.25,386.2 213.75,385.9 214.25,388.1 214.75,384.9 215.25,383.6 215.75,387.5 216.25,388.7 216.75,391.1 217.25,389.3 217.75,391.0 218.25,390.1 218.75,394.5 219.25,393.9 219.75,397.9 220.25,398.9 220.75,404.1 221.25,405.5 221.75,401.9 222.25,401.4 222.75,398.4 223.25,400.8 223.75,397.1 224.25,396.8 224.75,399.8 225.25,397.8 225.75,395.2 226.25,395.0 226.75,385.9 227.25,385.0 227.75,388.4 228.25,389.3 228.75,385.4 229.25,386.5 229.75,388.8 230.25,390.7 230.75,395.5 231.25,397.0 231.75,406.9 232.25,406.1 232.75,410.7 233.25,406.0 233.75,401.0 234.25,399.1 234.75,391.8 235.25,387.7 235.75,392.7 236.25,394.9 236.75,392.7 237.25,391.4 237.75,396.3 238.25,396.7 238.75,399.4 239.25,398.7 239.75,402.5 240.25,402.2 240.75,404.4 241.25,402.0 241.75,404.0 242.25,401.8 242.75,397.9 243.25,397.1 243.75,389.7 244.25,390.6 244.75,388.5 245.25,388.8 245.75,386.9 246.25,385.9 246.75,392.7 247.25,395.5 247.75,393.9 248.25,404.1 248.75,395.5 249.25,400.1 249.75,397.0 250.25,387.5 250.75,393.7 251.25,389.1 251.75,394.8 252.25,398.2 252.75,391.8 253.25,392.1 253.75,401.8 254.25,406.7 254.75,395.2 255.25,393.6 255.75,384.3 256.25,378.5 256.75,384.1 257.25,381.1 257.75,387.1 258.25,390.9 258.75,380.7 259.25,384.6 259.75,372.0 260.25,372.6 260.75,386.6 261.25,398.9 261.75,385.2 262.25,387.5 262.75,373.9 263.25,384.2 263.75,358.0 264.25,375.3 264.75,381.9 265.25,380.7 265.75,401.1 266.25,400.1 266.75,383.1 267.25,395.1 267.75,401.5 268.25,400.8 268.75,388.7 269.25,415.3 269.75,393.4 270.25,391.6 270.75,417.1 271.25,403.4 271.75,417.2 272.25,423.9 272.75,397.4 273.25,408.2 273.75,392.3 274.25,403.7 274.75,384.9 275.25,382.0 275.75,361.2 276.25,363.8 276.75,386.1 277.25,375.2 277.75,392.4 278.25,362.5 278.75,370.7 279.25,392.8 279.75,366.7 280.25,364.7 280.75,387.2 281.25,389.9 281.75,409.1 282.25,387.2 282.75,373.2 283.25,383.7 283.75,366.0 284.25,375.0 284.75,394.3 285.25,412.8 285.75,393.6 286.25,394.8 286.75,409.3 287.25,414.0 287.75,441.1 288.25,427.3 288.75,399.8 289.25,405.8 289.75,383.2 290.25,400.3 290.75,362.2 291.25,396.6 291.75,372.4 292.25,396.2 292.75,369.1 293.25,365.0 293.75,379.1 294.25,370.9 294.75,384.1 295.25,390.9 295.75,411.8 296.25,413.5 296.75,402.9 297.25,412.5 297.75,397.7 298.25,397.6 298.75,377.9 299.25,378.3 299.75,406.5 300.25,391.7 300.75,368.9 301.25,381.3 301.75,371.6 302.25,356.4 302.75,372.2 303.25,397.9 303.75,364.4 304.25,367.6 304.75,429.9 305.25,388.7 305.75,409.2 306.25,414.9 306.75,391.6 307.25,402.8 307.75,414.2 308.25,433.1 308.75,414.3 309.25,434.4 309.75,385.7 310.25,377.5 310.75,389.2 311.25,386.5 311.75,357.4 312.25,377.4 312.75,382.3 313.25,371.9 313.75,392.1 314.25,376.8 314.75,359.9 315.25,355.0 315.75,390.9 316.25,393.3 316.75,386.9 317.25,388.7 317.75,406.2 318.25,372.5 318.75,411.4 319.25,414.9 319.75,397.9 320.25,405.4 320.75,394.1 321.25,400.5 321.75,386.3 322.25,406.3 322.75,384.6 323.25,388.1 323.75,383.1 324.25,371.1 324.75,393.2 325.25,387.1 325.75,370.9 326.25,372.6 326.75,389.5 327.25,388.7 327.75,385.2 328.25,393.9 328.75,408.2 329.25,406.3 329.75,383.9 330.25,391.8 330.75,374.8 331.25,382.2 331.75,399.5 332.25,411.2 332.75,395.1 333.25,401.3 333.75,393.5 334.25,400.6 334.75,379.8 335.25,382.1 335.75,394.6 336.25,391.8 336.75,406.8 337.25,409.6 337.75,387.1 338.25,395.7 338.75,383.3 339.25,386.5 339.75,388.4 340.25,396.0 340.75,390.2 341.25,391.0 341.75,369.3 342.25,376.9 342.75,387.7 343.25,389.8 343.75,403.4 344.25,408.4 344.75,386.7 345.25,388.3 345.75,398.8 346.25,385.3 346.75,391.8 347.25,396.1 347.75,411.8 348.25,403.4 348.75,391.1 349.25,393.3 349.75,378.5 350.25,383.9 350.75,375.6 351.25,381.9 351.75,391.2 352.25,383.1 352.75,372.2 353.25,375.1 353.75,386.2 354.25,381.4 354.75,388.1 355.25,387.4 355.75,400.1 356.25,402.8 356.75,390.6 357.25,392.2 357.75,404.4 358.25,406.8 358.75,396.6 359.25,411.3 359.75,416.8 360.25,418.3 360.75,410.6 361.25,408.6 361.75,396.8 362.25,399.6 362.75,391.8 363.25,395.0 363.75,387.1 364.25,388.1 364.75,381.9 365.25,379.7 365.75,391.9 366.25,394.7 366.75,387.7 367.25,389.2 367.75,401.2 368.25,403.3 368.75,396.7 369.25,404.8 369.75,389.3 370.25,385.5 370.75,391.6 371.25,394.8 371.75,391.4 372.25,390.7 372.75,402.9 373.25,404.1 373.75,396.9 374.25,398.9 374.75,386.9 375.25,386.0 375.75,396.4 376.25,389.8 376.75,392.8 377.25,393.1 377.75,398.1 378.25,399.8 378.75,396.4 379.25,401.8 379.75,393.9 380.25,395.1 380.75,388.6 381.25,391.8 381.75,385.3 382.25,385.6 382.75,397.0 383.25,392.6 383.75,396.5 384.25,398.1 384.75,393.1 385.25,396.9 385.75,393.7 386.25,394.7 386.75,385.5 387.25,384.9 387.75,390.1 388.25,391.4 388.75,394.8 389.25,396.1 389.75,400.5 390.25,401.2 390.75,392.6 391.25,391.5 391.75,396.0 392.25,404.3 392.75,393.0 393.25,391.8 393.75,389.0 394.25,392.1 394.75,396.6 395.25,390.4 395.75,395.5 396.25,393.5 396.75,399.4 397.25,397.9 397.75,390.4 398.25,389.7 398.75,393.2 399.25,394.9 399.75,400.5 400.25,396.0 400.75,397.8 401.25,394.1 401.75,391.2 402.25,391.4 402.75,393.9 403.25,395.6 403.75,390.8 404.25,391.5 404.75,394.4 405.25,394.8 405.75,398.2 406.25,396.9 406.75,395.4 407.25,396.0 407.75,392.1 408.25,394.2 408.75,391.2 409.25,391.8 409.75,394.2 410.25,394.1 410.75,390.2 411.25,389.0 411.75,392.1 412.25,392.6 412.75,397.6 413.25,394.6 413.75,391.7 414.25,393.9 414.75,390.7 415.25,391.0 415.75,386.8 416.25,386.8 416.75,387.5 417.25,388.4 417.75,392.3 418.25,393.5 418.75,396.4 419.25,399.1 419.75,396.7 420.25,396.6 420.75,393.5 421.25,393.7 421.75,388.8 422.25,393.0 422.75,391.9 423.25,392.4 423.75,393.7 424.25,394.2 424.75,398.1 425.25,397.6 425.75,400.5 426.25,401.0 426.75,396.6 427.25,395.6 427.75,392.7 428.25,390.4 428.75,391.9 429.25,391.1 429.75,385.7 430.25,386.6 430.75,388.9 431.25,388.8 431.75,391.2 432.25,391.0 432.75,393.5 433.25,394.0 433.75,396.5 434.25,396.5 434.75,391.7 435.25,392.4 435.75,391.3 436.25,391.5 436.75,393.6 437.25,393.0 437.75,394.1 438.25,396.3 438.75,394.1 439.25,393.9 439.75,396.4 440.25,395.1 440.75,398.3 441.25,396.7 441.75,394.1 442.25,394.9 442.75,390.4 443.25,390.7 443.75,388.9 444.25,388.9 444.75,390.2 445.25,390.4 445.75,391.3 446.25,390.4 446.75,392.3 447.25,391.2 447.75,392.1 448.25,393.7 448.75,391.6 449.25,391.7 449.75,392.6 450.25,393.6 450.75,391.9 451.25,394.0 451.75,391.6 452.25,392.6 452.75,390.4 453.25,389.9 453.75,391.7 454.25,392.0 454.75,394.5 455.25,392.3 455.75,394.4 456.25,395.8 456.75,394.9 457.25,394.7 457.75,396.3 458.25,397.3 458.75,395.5 459.25,396.7 459.75,394.0 460.25,394.2 460.75,393.5 461.25,393.8 461.75,394.2 462.25,394.6 462.75,393.3 463.25,392.1 463.75,395.0 464.25,394.6 464.75,391.9 465.25,392.0 465.75,393.3 466.25,392.5 466.75,390.3 467.25,391.0 467.75,389.5 468.25,389.8 468.75,388.3 469.25,386.8 469.75,390.2 470.25,389.4 470.75,391.2 471.25,392.0 471.75,393.2 472.25,392.9 472.75,393.6 473.25,395.0 473.75,393.0 474.25,394.1 474.75,395.2 475.25,393.9 475.75,396.3 476.25,396.0 476.75,393.8 477.25,394.5 477.75,394.9 478.25,393.9 478.75,394.7 479.25,392.8 479.75,395.3 480.25,394.5 480.75,393.8 481.25,394.1 481.75,394.9 482.25,394.7 482.75,393.3 483.25,393.7 483.75,391.4 484.25,393.6 484.75,391.4 485.25,393.5 485.75,392.7 486.25,392.1 486.75,392.9 487.25,391.8 487.75,392.9 488.25,393.1 488.75,392.3 489.25,392.9 489.75,392.1 490.25,392.2 490.75,390.8 491.25,389.7 491.75,391.0 492.25,389.9 492.75,391.3 493.25,391.7 493.75,392.9 494.25,393.7 494.75,393.1 495.25,393.3 495.75,395.0 496.25,395.2 496.75,396.8 497.25,395.4 497.75,396.5 498.25,396.9 498.75,395.0 499.25,394.9 499.75,395.6 500.25,394.7 500.75,393.6 501.25,395.1 501.75,393.6 502.25,394.1 502.75,393.1 503.25,393.3 503.75,391.9 504.25,393.0 504.75,391.7 505.25,391.8 505.75,392.8 506.25,391.5 506.75,392.4 507.25,391.4 507.75,392.1 508.25,392.0 508.75,391.2 509.25,391.1 509.75,390.7 510.25,390.3 510.75,392.4 511.25,391.3 511.75,390.9 512.25,391.1 512.75,392.7 513.25,392.7 513.75,393.7" fill="none" stroke="#ea1074" stroke-width="1.4" stroke-linejoin="round"/>
<text x="83.07" y="32.80" font-size="16.3" textLength="62.58" lengthAdjust="spacingAndGlyphs">Rapid start</text><text x="171.42" y="32.80" font-size="16.3" textLength="87.41" lengthAdjust="spacingAndGlyphs">Impact loading</text><text x="239.66" y="16.10" font-size="16.3" textLength="169.74" lengthAdjust="spacingAndGlyphs">Fragmentation and migration</text><text x="385.37" y="32.80" font-size="16.3" textLength="137.28" lengthAdjust="spacingAndGlyphs">Scattered accumulation</text><line x1="67.6" y1="40.5" x2="166.0" y2="40.5" stroke="#444" stroke-width="1"/><polygon points="64.6,40.5 74.1,38.0 74.1,43.0" fill="#000"/><polygon points="169.0,40.5 159.5,38.0 159.5,43.0" fill="#000"/><line x1="182.8" y1="40.5" x2="241.0" y2="40.5" stroke="#444" stroke-width="1"/><polygon points="179.8,40.5 189.3,38.0 189.3,43.0" fill="#000"/><polygon points="244.0,40.5 234.5,38.0 234.5,43.0" fill="#000"/><line x1="254.6" y1="40.5" x2="373.8" y2="40.5" stroke="#444" stroke-width="1"/><polygon points="251.6,40.5 261.1,38.0 261.1,43.0" fill="#000"/><polygon points="376.8,40.5 367.3,38.0 367.3,43.0" fill="#000"/><line x1="390.6" y1="40.5" x2="518.4" y2="40.5" stroke="#444" stroke-width="1"/><polygon points="387.6,40.5 397.1,38.0 397.1,43.0" fill="#000"/><polygon points="521.4,40.5 511.9,38.0 511.9,43.0" fill="#000"/><line x1="57.8" y1="50.7" x2="529" y2="50.7" stroke="#8c8c8c" stroke-width="1.4"/><line x1="63.6" y1="37.4" x2="63.6" y2="331.4" stroke="#000" stroke-width="1.9"/><polyline points="522.5,37.4 522.5,330.6 525.5,330.6" fill="none" stroke="#000" stroke-width="1.9"/><line x1="57.8" y1="81.9" x2="63" y2="81.9" stroke="#222" stroke-width="1.1"/><line x1="57.8" y1="112.8" x2="63" y2="112.8" stroke="#222" stroke-width="1.1"/><line x1="57.8" y1="144.2" x2="63" y2="144.2" stroke="#222" stroke-width="1.1"/><line x1="57.8" y1="175.2" x2="63" y2="175.2" stroke="#222" stroke-width="1.1"/><line x1="57.8" y1="206.2" x2="63" y2="206.2" stroke="#222" stroke-width="1.1"/><line x1="57.8" y1="237.3" x2="63" y2="237.3" stroke="#222" stroke-width="1.1"/><line x1="57.8" y1="268.5" x2="63" y2="268.5" stroke="#222" stroke-width="1.1"/><line x1="57.8" y1="299.6" x2="63" y2="299.6" stroke="#222" stroke-width="1.1"/><text x="33.45" y="57.60" font-size="17.4" textLength="17.45" lengthAdjust="spacingAndGlyphs">45</text><text x="32.74" y="88.60" font-size="17.4" textLength="18.19" lengthAdjust="spacingAndGlyphs">40</text><text x="33.53" y="119.00" font-size="17.4" textLength="17.36" lengthAdjust="spacingAndGlyphs">35</text><text x="33.02" y="150.20" font-size="17.4" textLength="17.58" lengthAdjust="spacingAndGlyphs">30</text><text x="33.19" y="182.20" font-size="17.4" textLength="17.72" lengthAdjust="spacingAndGlyphs">25</text><text x="32.66" y="211.20" font-size="17.4" textLength="18.59" lengthAdjust="spacingAndGlyphs">20</text><text x="33.87" y="244.20" font-size="17.4" textLength="17.01" lengthAdjust="spacingAndGlyphs">15</text><text x="33.10" y="276.00" font-size="17.4" textLength="17.82" lengthAdjust="spacingAndGlyphs">10</text><text x="45.95" y="308.00" font-size="17.4" textLength="8.75" lengthAdjust="spacingAndGlyphs">5</text><text x="113.79" y="95.30" font-size="22.8" textLength="10.13" lengthAdjust="spacingAndGlyphs">a</text><text x="209.20" y="95.30" font-size="22.8" textLength="10.33" lengthAdjust="spacingAndGlyphs">b</text><text x="306.14" y="95.20" font-size="22.8" textLength="10.68" lengthAdjust="spacingAndGlyphs">c</text><text x="451.18" y="95.00" font-size="22.8" textLength="11.56" lengthAdjust="spacingAndGlyphs">d</text><line x1="38.6" y1="330.6" x2="543.2" y2="330.6" stroke="#6b6a2a" stroke-width="1.9" stroke-dasharray="11 4.16" /><line x1="175.5" y1="36.16" x2="175.5" y2="459.3" stroke="#000" stroke-width="2" stroke-dasharray="9.3 9.62"/><line x1="247.35" y1="35.4" x2="247.35" y2="459.0" stroke="#000" stroke-width="2" stroke-dasharray="9.3 9.62"/><line x1="384.5" y1="37.6" x2="384.5" y2="463.5" stroke="#000" stroke-width="2" stroke-dasharray="9.3 9.62"/><polyline points="57.3,335.7 63.75,335.7 63.75,457.2 514.7,457.2 514.7,335.9 508.4,335.9" fill="none" stroke="#000" stroke-width="1.9"/><line x1="57.1" y1="395.4" x2="63.7" y2="395.4" stroke="#000" stroke-width="1.4"/><line x1="58.7" y1="456.6" x2="63.7" y2="456.6" stroke="#000" stroke-width="1.4"/><line x1="509" y1="396" x2="514.6" y2="396" stroke="#000" stroke-width="1.4"/><line x1="64.4" y1="444.6" x2="66.6" y2="444.6" stroke="#000" stroke-width="1.3"/><line x1="63.8" y1="457" x2="63.8" y2="463.6" stroke="#222" stroke-width="1.3"/><line x1="140.7" y1="457" x2="140.7" y2="463.6" stroke="#222" stroke-width="1.3"/><line x1="214.9" y1="457" x2="214.9" y2="463.6" stroke="#222" stroke-width="1.3"/><line x1="290.0" y1="457" x2="290.0" y2="463.6" stroke="#222" stroke-width="1.3"/><line x1="364.5" y1="457" x2="364.5" y2="463.6" stroke="#222" stroke-width="1.3"/><line x1="439.3" y1="457" x2="439.3" y2="463.6" stroke="#222" stroke-width="1.3"/><line x1="514.7" y1="457" x2="514.7" y2="463.6" stroke="#222" stroke-width="1.3"/><line x1="103.1" y1="457" x2="103.1" y2="460.2" stroke="#222" stroke-width="1.3"/><line x1="176.0" y1="457" x2="176.0" y2="460.2" stroke="#222" stroke-width="1.3"/><line x1="252.0" y1="457" x2="252.0" y2="460.2" stroke="#222" stroke-width="1.3"/><line x1="327.3" y1="457" x2="327.3" y2="460.2" stroke="#222" stroke-width="1.3"/><line x1="402.9" y1="457" x2="402.9" y2="460.2" stroke="#222" stroke-width="1.3"/><line x1="477.0" y1="457" x2="477.0" y2="460.2" stroke="#222" stroke-width="1.3"/><text x="39.61" y="480.70" font-size="16.8" textLength="52.01" lengthAdjust="spacingAndGlyphs">05:39:00</text><text x="111.42" y="480.70" font-size="16.8" textLength="51.60" lengthAdjust="spacingAndGlyphs">05:39:20</text><text x="189.61" y="480.70" font-size="16.8" textLength="52.01" lengthAdjust="spacingAndGlyphs">05:39:40</text><text x="262.31" y="480.70" font-size="16.8" textLength="52.01" lengthAdjust="spacingAndGlyphs">05:40:00</text><text x="341.21" y="480.70" font-size="16.8" textLength="52.01" lengthAdjust="spacingAndGlyphs">05:40:20</text><text x="418.31" y="480.70" font-size="16.8" textLength="52.62" lengthAdjust="spacingAndGlyphs">05:40:40</text><text x="494.71" y="480.70" font-size="16.8" textLength="52.31" lengthAdjust="spacingAndGlyphs">05:41:00</text><text x="19.24" y="347.20" font-size="18.6" textLength="38.23" lengthAdjust="spacingAndGlyphs">6000</text><text x="46.11" y="406.40" font-size="18.6" textLength="8.57" lengthAdjust="spacingAndGlyphs">0</text><text x="16.57" y="463.50" font-size="18.6" textLength="42.72" lengthAdjust="spacingAndGlyphs"><tspan fill="#666" stroke="none">-</tspan>6000</text><text x="210.89" y="499.50" font-size="17.3" textLength="175.81" lengthAdjust="spacingAndGlyphs">Time(hour: minute: second)</text><text transform="translate(17.40,233.72) rotate(-90)" font-size="18.3" textLength="117.34" lengthAdjust="spacingAndGlyphs">Frequency/Hz</text><text transform="translate(16.90,435.17) rotate(-90)" font-size="18.5" textLength="73.72" lengthAdjust="spacingAndGlyphs">Amplitude</text>
</svg>
</body></html>
